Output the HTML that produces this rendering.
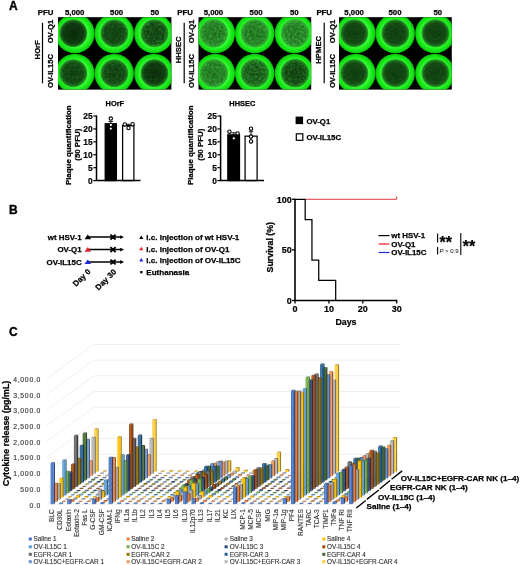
<!DOCTYPE html>
<html lang="en">
<head>
<meta charset="utf-8">
<title>Figure</title>
<style>
html,body{margin:0;padding:0;background:#fff;}
body{width:520px;height:565px;overflow:hidden;}
svg{display:block;font-family:"Liberation Sans", Arial, sans-serif;filter:blur(0.35px);}
</style>
</head>
<body>
<svg width="520" height="565" viewBox="0 0 520 565">
<rect width="520" height="565" fill="#fff"/>
<defs>
<radialGradient id="ring" cx="50%" cy="50%" r="50%">
<stop offset="0" stop-color="#3cff3c"/>
<stop offset="0.68" stop-color="#3cff3c"/>
<stop offset="0.78" stop-color="#20f020"/>
<stop offset="0.92" stop-color="#12dc12"/>
<stop offset="1" stop-color="#0eba0e"/>
</radialGradient>
<radialGradient id="inA" cx="50%" cy="50%" r="50%">
<stop offset="0" stop-color="#0a280a"/>
<stop offset="0.72" stop-color="#0e380e"/>
<stop offset="0.88" stop-color="#186218"/>
<stop offset="0.96" stop-color="#22a022"/>
<stop offset="1" stop-color="#2cd82c"/>
</radialGradient>
<radialGradient id="inB" cx="50%" cy="50%" r="50%">
<stop offset="0" stop-color="#1d6a1d"/>
<stop offset="0.75" stop-color="#227a22"/>
<stop offset="0.9" stop-color="#2a9c2a"/>
<stop offset="0.97" stop-color="#30c430"/>
<stop offset="1" stop-color="#36e036"/>
</radialGradient>
<radialGradient id="inC" cx="50%" cy="50%" r="50%">
<stop offset="0" stop-color="#0e380e"/>
<stop offset="0.72" stop-color="#124612"/>
<stop offset="0.88" stop-color="#1b6e1b"/>
<stop offset="0.96" stop-color="#24a624"/>
<stop offset="1" stop-color="#2cd82c"/>
</radialGradient>
<radialGradient id="inD" cx="50%" cy="50%" r="50%">
<stop offset="0" stop-color="#144a14"/>
<stop offset="0.72" stop-color="#185a18"/>
<stop offset="0.88" stop-color="#1f7e1f"/>
<stop offset="0.96" stop-color="#28b028"/>
<stop offset="1" stop-color="#2edc2e"/>
</radialGradient>
<filter id="tex" x="0" y="0" width="100%" height="100%">
<feTurbulence type="fractalNoise" baseFrequency="0.42" numOctaves="3" seed="4" result="n"/>
<feColorMatrix in="n" type="matrix" values="0 0 0 0 0.12  0 0 0 0 0.9  0 0 0 0 0.12  0 1.6 0 0 -0.55" result="g"/>
<feComposite in="g" in2="SourceGraphic" operator="in"/>
</filter>
</defs>
<rect x="58.0" y="17.2" width="113.40" height="72.40" fill="#000"/>
<clipPath id="cp58"><rect x="58.0" y="17.2" width="113.40" height="72.40"/></clipPath>
<g clip-path="url(#cp58)">
<circle cx="74.90" cy="33.60" r="19.7" fill="url(#ring)"/>
<circle cx="114.20" cy="33.60" r="19.7" fill="url(#ring)"/>
<circle cx="153.90" cy="33.60" r="19.7" fill="url(#ring)"/>
<circle cx="74.90" cy="73.50" r="19.7" fill="url(#ring)"/>
<circle cx="114.20" cy="73.50" r="19.7" fill="url(#ring)"/>
<circle cx="153.90" cy="73.50" r="19.7" fill="url(#ring)"/>
<circle cx="73.30" cy="33.30" r="14.2" fill="url(#inA)"/>
<circle cx="73.30" cy="33.30" r="13.00" fill="#fff" filter="url(#tex)" opacity="0.06"/>
<circle cx="114.40" cy="33.30" r="14.2" fill="url(#inC)"/>
<circle cx="114.40" cy="33.30" r="13.00" fill="#fff" filter="url(#tex)" opacity="0.2"/>
<circle cx="154.50" cy="33.30" r="14.2" fill="url(#inC)"/>
<circle cx="154.50" cy="33.30" r="13.00" fill="#fff" filter="url(#tex)" opacity="0.3"/>
<circle cx="73.30" cy="73.20" r="14.2" fill="url(#inC)"/>
<circle cx="73.30" cy="73.20" r="13.00" fill="#fff" filter="url(#tex)" opacity="0.18"/>
<circle cx="114.40" cy="73.20" r="14.2" fill="url(#inC)"/>
<circle cx="114.40" cy="73.20" r="13.00" fill="#fff" filter="url(#tex)" opacity="0.22"/>
<circle cx="154.50" cy="73.20" r="14.2" fill="url(#inA)"/>
<circle cx="154.50" cy="73.20" r="13.00" fill="#fff" filter="url(#tex)" opacity="0.15"/>
</g>
<rect x="198.5" y="17.2" width="112.70" height="72.40" fill="#000"/>
<clipPath id="cp198"><rect x="198.5" y="17.2" width="112.70" height="72.40"/></clipPath>
<g clip-path="url(#cp198)">
<circle cx="215.40" cy="33.60" r="19.7" fill="url(#ring)"/>
<circle cx="254.70" cy="33.60" r="19.7" fill="url(#ring)"/>
<circle cx="294.40" cy="33.60" r="19.7" fill="url(#ring)"/>
<circle cx="215.40" cy="73.50" r="19.7" fill="url(#ring)"/>
<circle cx="254.70" cy="73.50" r="19.7" fill="url(#ring)"/>
<circle cx="294.40" cy="73.50" r="19.7" fill="url(#ring)"/>
<circle cx="213.80" cy="33.30" r="14.5" fill="url(#inB)"/>
<circle cx="213.80" cy="33.30" r="13.30" fill="#fff" filter="url(#tex)" opacity="0.45"/>
<circle cx="254.90" cy="33.30" r="14.5" fill="url(#inB)"/>
<circle cx="254.90" cy="33.30" r="13.30" fill="#fff" filter="url(#tex)" opacity="0.45"/>
<circle cx="295.00" cy="33.30" r="14.5" fill="url(#inB)"/>
<circle cx="295.00" cy="33.30" r="13.30" fill="#fff" filter="url(#tex)" opacity="0.55"/>
<circle cx="213.80" cy="73.20" r="14.5" fill="url(#inB)"/>
<circle cx="213.80" cy="73.20" r="13.30" fill="#fff" filter="url(#tex)" opacity="0.45"/>
<circle cx="254.90" cy="73.20" r="14.5" fill="url(#inD)"/>
<circle cx="254.90" cy="73.20" r="13.30" fill="#fff" filter="url(#tex)" opacity="0.4"/>
<circle cx="295.00" cy="73.20" r="14.5" fill="url(#inC)"/>
<circle cx="295.00" cy="73.20" r="13.30" fill="#fff" filter="url(#tex)" opacity="0.3"/>
</g>
<rect x="339.0" y="17.2" width="112.80" height="72.40" fill="#000"/>
<clipPath id="cp339"><rect x="339.0" y="17.2" width="112.80" height="72.40"/></clipPath>
<g clip-path="url(#cp339)">
<circle cx="355.90" cy="33.60" r="19.7" fill="url(#ring)"/>
<circle cx="395.20" cy="33.60" r="19.7" fill="url(#ring)"/>
<circle cx="434.90" cy="33.60" r="19.7" fill="url(#ring)"/>
<circle cx="355.90" cy="73.50" r="19.7" fill="url(#ring)"/>
<circle cx="395.20" cy="73.50" r="19.7" fill="url(#ring)"/>
<circle cx="434.90" cy="73.50" r="19.7" fill="url(#ring)"/>
<circle cx="354.30" cy="33.30" r="14.2" fill="url(#inC)"/>
<circle cx="354.30" cy="33.30" r="13.00" fill="#fff" filter="url(#tex)" opacity="0.1"/>
<circle cx="395.40" cy="33.30" r="14.2" fill="url(#inC)"/>
<circle cx="395.40" cy="33.30" r="13.00" fill="#fff" filter="url(#tex)" opacity="0.1"/>
<circle cx="435.50" cy="33.30" r="14.2" fill="url(#inC)"/>
<circle cx="435.50" cy="33.30" r="13.00" fill="#fff" filter="url(#tex)" opacity="0.1"/>
<circle cx="354.30" cy="73.20" r="14.2" fill="url(#inC)"/>
<circle cx="354.30" cy="73.20" r="13.00" fill="#fff" filter="url(#tex)" opacity="0.1"/>
<circle cx="395.40" cy="73.20" r="14.2" fill="url(#inC)"/>
<circle cx="395.40" cy="73.20" r="13.00" fill="#fff" filter="url(#tex)" opacity="0.1"/>
<circle cx="435.50" cy="73.20" r="14.2" fill="url(#inC)"/>
<circle cx="435.50" cy="73.20" r="13.00" fill="#fff" filter="url(#tex)" opacity="0.12"/>
</g>
<text x="9.00" y="10.10" font-size="12.0" font-weight="bold" text-anchor="start" fill="#000" stroke="#000" stroke-width="0.35">A</text>
<text x="37.70" y="14.50" font-size="7.8" font-weight="bold" text-anchor="start" fill="#000" stroke="#000" stroke-width="0.25">PFU</text>
<text x="74.70" y="14.50" font-size="7.8" font-weight="bold" text-anchor="middle" fill="#000" stroke="#000" stroke-width="0.25">5,000</text>
<text x="116.60" y="14.50" font-size="7.8" font-weight="bold" text-anchor="middle" fill="#000" stroke="#000" stroke-width="0.25">500</text>
<text x="154.80" y="14.50" font-size="7.8" font-weight="bold" text-anchor="middle" fill="#000" stroke="#000" stroke-width="0.25">50</text>
<text x="177.20" y="14.50" font-size="7.8" font-weight="bold" text-anchor="start" fill="#000" stroke="#000" stroke-width="0.25">PFU</text>
<text x="213.40" y="14.50" font-size="7.8" font-weight="bold" text-anchor="middle" fill="#000" stroke="#000" stroke-width="0.25">5,000</text>
<text x="256.10" y="14.50" font-size="7.8" font-weight="bold" text-anchor="middle" fill="#000" stroke="#000" stroke-width="0.25">500</text>
<text x="294.30" y="14.50" font-size="7.8" font-weight="bold" text-anchor="middle" fill="#000" stroke="#000" stroke-width="0.25">50</text>
<text x="316.40" y="14.50" font-size="7.8" font-weight="bold" text-anchor="start" fill="#000" stroke="#000" stroke-width="0.25">PFU</text>
<text x="354.10" y="14.50" font-size="7.8" font-weight="bold" text-anchor="middle" fill="#000" stroke="#000" stroke-width="0.25">5,000</text>
<text x="395.00" y="14.50" font-size="7.8" font-weight="bold" text-anchor="middle" fill="#000" stroke="#000" stroke-width="0.25">500</text>
<text x="437.80" y="14.50" font-size="7.8" font-weight="bold" text-anchor="middle" fill="#000" stroke="#000" stroke-width="0.25">50</text>
<text x="39.95" y="49.80" font-size="7.7" font-weight="bold" text-anchor="middle" fill="#000" transform="rotate(-90 39.95 49.80)" stroke="#000" stroke-width="0.25">HOrF</text>
<line x1="42.5" y1="22.8" x2="42.5" y2="83.3" stroke="#000" stroke-width="1.2"/>
<text x="53.05" y="31.40" font-size="7.7" font-weight="bold" text-anchor="middle" fill="#000" transform="rotate(-90 53.05 31.40)" stroke="#000" stroke-width="0.25">OV-Q1</text>
<text x="53.05" y="71.00" font-size="7.7" font-weight="bold" text-anchor="middle" fill="#000" transform="rotate(-90 53.05 71.00)" stroke="#000" stroke-width="0.25">OV-IL15C</text>
<text x="180.55" y="49.80" font-size="7.7" font-weight="bold" text-anchor="middle" fill="#000" transform="rotate(-90 180.55 49.80)" stroke="#000" stroke-width="0.25">HHSEC</text>
<line x1="184.2" y1="22.8" x2="184.2" y2="83.3" stroke="#000" stroke-width="1.2"/>
<text x="194.35" y="31.40" font-size="7.7" font-weight="bold" text-anchor="middle" fill="#000" transform="rotate(-90 194.35 31.40)" stroke="#000" stroke-width="0.25">OV-Q1</text>
<text x="194.35" y="71.00" font-size="7.7" font-weight="bold" text-anchor="middle" fill="#000" transform="rotate(-90 194.35 71.00)" stroke="#000" stroke-width="0.25">OV-IL15C</text>
<text x="320.75" y="49.80" font-size="7.7" font-weight="bold" text-anchor="middle" fill="#000" transform="rotate(-90 320.75 49.80)" stroke="#000" stroke-width="0.25">HPMEC</text>
<line x1="324.2" y1="22.8" x2="324.2" y2="83.3" stroke="#000" stroke-width="1.2"/>
<text x="334.95" y="31.40" font-size="7.7" font-weight="bold" text-anchor="middle" fill="#000" transform="rotate(-90 334.95 31.40)" stroke="#000" stroke-width="0.25">OV-Q1</text>
<text x="334.95" y="71.00" font-size="7.7" font-weight="bold" text-anchor="middle" fill="#000" transform="rotate(-90 334.95 71.00)" stroke="#000" stroke-width="0.25">OV-IL15C</text>
<rect x="105.20" y="123.75" width="11.20" height="56.85" fill="#000" stroke="#000" stroke-width="1.25"/>
<rect x="122.60" y="125.56" width="11.30" height="55.04" fill="#fff" stroke="#000" stroke-width="1.25"/>
<path d="M110.8 121.43V126.08M108.6 121.43H113.0" stroke="#000" stroke-width="0.9" fill="none"/>
<path d="M128.3 124.27V126.85M126.10000000000001 124.27H130.5" stroke="#000" stroke-width="0.9" fill="none"/>
<path d="M96.5 115.4V180.6H140.5" stroke="#000" stroke-width="1.5" fill="none"/>
<line x1="93.3" y1="116.00" x2="96.5" y2="116.00" stroke="#000" stroke-width="1.2"/>
<text x="92.70" y="118.95" font-size="8.4" font-weight="bold" text-anchor="end" fill="#000" stroke="#000" stroke-width="0.2">25</text>
<line x1="93.3" y1="128.92" x2="96.5" y2="128.92" stroke="#000" stroke-width="1.2"/>
<text x="92.70" y="131.87" font-size="8.4" font-weight="bold" text-anchor="end" fill="#000" stroke="#000" stroke-width="0.2">20</text>
<line x1="93.3" y1="141.84" x2="96.5" y2="141.84" stroke="#000" stroke-width="1.2"/>
<text x="92.70" y="144.79" font-size="8.4" font-weight="bold" text-anchor="end" fill="#000" stroke="#000" stroke-width="0.2">15</text>
<line x1="93.3" y1="154.76" x2="96.5" y2="154.76" stroke="#000" stroke-width="1.2"/>
<text x="92.70" y="157.71" font-size="8.4" font-weight="bold" text-anchor="end" fill="#000" stroke="#000" stroke-width="0.2">10</text>
<line x1="93.3" y1="167.68" x2="96.5" y2="167.68" stroke="#000" stroke-width="1.2"/>
<text x="92.70" y="170.63" font-size="8.4" font-weight="bold" text-anchor="end" fill="#000" stroke="#000" stroke-width="0.2">5</text>
<line x1="93.3" y1="180.60" x2="96.5" y2="180.60" stroke="#000" stroke-width="1.2"/>
<text x="92.70" y="183.55" font-size="8.4" font-weight="bold" text-anchor="end" fill="#000" stroke="#000" stroke-width="0.2">0</text>
<circle cx="110.80" cy="118.60" r="1.7" fill="#fff" stroke="#000" stroke-width="1.1"/>
<circle cx="110.80" cy="125.00" r="1.7" fill="#fff" stroke="#000" stroke-width="1.1"/>
<circle cx="110.80" cy="128.60" r="1.7" fill="#fff" stroke="#000" stroke-width="1.1"/>
<circle cx="124.80" cy="124.40" r="1.7" fill="#fff" stroke="#000" stroke-width="1.1"/>
<circle cx="132.60" cy="124.20" r="1.7" fill="#fff" stroke="#000" stroke-width="1.1"/>
<circle cx="128.50" cy="128.00" r="1.7" fill="#fff" stroke="#000" stroke-width="1.1"/>
<text x="114.80" y="105.60" font-size="7.4" font-weight="bold" text-anchor="middle" fill="#000" stroke="#000" stroke-width="0.25">HOrF</text>
<text x="71.40" y="145.20" font-size="7.9" font-weight="bold" text-anchor="middle" fill="#000" transform="rotate(-90 71.40 145.20)" stroke="#000" stroke-width="0.25">Plaque quantification</text>
<text x="79.60" y="144.70" font-size="7.9" font-weight="bold" text-anchor="middle" fill="#000" transform="rotate(-90 79.60 144.70)" stroke="#000" stroke-width="0.25">(50 PFU)</text>
<rect x="227.80" y="134.86" width="11.70" height="45.74" fill="#000" stroke="#000" stroke-width="1.25"/>
<rect x="245.10" y="136.16" width="12.00" height="44.44" fill="#fff" stroke="#000" stroke-width="1.25"/>
<path d="M233.7 132.80V136.93M231.5 132.80H235.89999999999998" stroke="#000" stroke-width="0.9" fill="none"/>
<path d="M251.0 131.76V140.55M248.8 131.76H253.2" stroke="#000" stroke-width="0.9" fill="none"/>
<path d="M220.6 115.4V180.6H264.0" stroke="#000" stroke-width="1.5" fill="none"/>
<line x1="217.4" y1="116.00" x2="220.6" y2="116.00" stroke="#000" stroke-width="1.2"/>
<text x="216.80" y="118.95" font-size="8.4" font-weight="bold" text-anchor="end" fill="#000" stroke="#000" stroke-width="0.2">25</text>
<line x1="217.4" y1="128.92" x2="220.6" y2="128.92" stroke="#000" stroke-width="1.2"/>
<text x="216.80" y="131.87" font-size="8.4" font-weight="bold" text-anchor="end" fill="#000" stroke="#000" stroke-width="0.2">20</text>
<line x1="217.4" y1="141.84" x2="220.6" y2="141.84" stroke="#000" stroke-width="1.2"/>
<text x="216.80" y="144.79" font-size="8.4" font-weight="bold" text-anchor="end" fill="#000" stroke="#000" stroke-width="0.2">15</text>
<line x1="217.4" y1="154.76" x2="220.6" y2="154.76" stroke="#000" stroke-width="1.2"/>
<text x="216.80" y="157.71" font-size="8.4" font-weight="bold" text-anchor="end" fill="#000" stroke="#000" stroke-width="0.2">10</text>
<line x1="217.4" y1="167.68" x2="220.6" y2="167.68" stroke="#000" stroke-width="1.2"/>
<text x="216.80" y="170.63" font-size="8.4" font-weight="bold" text-anchor="end" fill="#000" stroke="#000" stroke-width="0.2">5</text>
<line x1="217.4" y1="180.60" x2="220.6" y2="180.60" stroke="#000" stroke-width="1.2"/>
<text x="216.80" y="183.55" font-size="8.4" font-weight="bold" text-anchor="end" fill="#000" stroke="#000" stroke-width="0.2">0</text>
<circle cx="229.40" cy="131.70" r="1.7" fill="#fff" stroke="#000" stroke-width="1.1"/>
<circle cx="237.60" cy="133.40" r="1.7" fill="#fff" stroke="#000" stroke-width="1.1"/>
<circle cx="233.80" cy="138.30" r="1.7" fill="#fff" stroke="#000" stroke-width="1.1"/>
<circle cx="251.00" cy="128.70" r="1.7" fill="#fff" stroke="#000" stroke-width="1.1"/>
<circle cx="251.00" cy="136.60" r="1.7" fill="#fff" stroke="#000" stroke-width="1.1"/>
<circle cx="251.00" cy="141.40" r="1.7" fill="#fff" stroke="#000" stroke-width="1.1"/>
<text x="242.30" y="105.60" font-size="7.4" font-weight="bold" text-anchor="middle" fill="#000" stroke="#000" stroke-width="0.25">HHSEC</text>
<text x="193.40" y="145.20" font-size="7.9" font-weight="bold" text-anchor="middle" fill="#000" transform="rotate(-90 193.40 145.20)" stroke="#000" stroke-width="0.25">Plaque quantification</text>
<text x="203.40" y="144.70" font-size="7.9" font-weight="bold" text-anchor="middle" fill="#000" transform="rotate(-90 203.40 144.70)" stroke="#000" stroke-width="0.25">(50 PFU)</text>
<rect x="295.6" y="116.6" width="7.5" height="7.5" fill="#000"/>
<rect x="296.3" y="133.8" width="6.5" height="6.5" fill="#fff" stroke="#000" stroke-width="1.2"/>
<text x="306.40" y="123.50" font-size="7.8" font-weight="bold" text-anchor="start" fill="#000" stroke="#000" stroke-width="0.25">OV-Q1</text>
<text x="306.40" y="140.10" font-size="7.8" font-weight="bold" text-anchor="start" fill="#000" stroke="#000" stroke-width="0.25">OV-IL15C</text>
<text x="9.00" y="213.60" font-size="12.0" font-weight="bold" text-anchor="start" fill="#000" stroke="#000" stroke-width="0.35">B</text>
<text x="81.60" y="239.90" font-size="7.9" font-weight="bold" text-anchor="end" fill="#000" stroke="#000" stroke-width="0.25">wt HSV-1</text>
<line x1="87" y1="237.1" x2="121" y2="237.1" stroke="#000" stroke-width="1.5"/>
<path d="M84.5 239.2L87.8 234.5L91.1 239.2Z" fill="#000"/>
<path d="M120.2 235.2L124 237.1L120.2 239.0Z" fill="#000"/>
<path d="M110.4 234.7L115.6 239.5M110.4 239.5L115.6 234.7" stroke="#000" stroke-width="1.8"/>
<rect x="111.7" y="235.6" width="2.6" height="3.0" fill="#000"/>
<text x="81.60" y="252.40" font-size="7.9" font-weight="bold" text-anchor="end" fill="#000" stroke="#000" stroke-width="0.25">OV-Q1</text>
<line x1="87" y1="249.6" x2="121" y2="249.6" stroke="#000" stroke-width="1.5"/>
<path d="M84.5 251.7L87.8 247.0L91.1 251.7Z" fill="#e8202a"/>
<path d="M120.2 247.7L124 249.6L120.2 251.5Z" fill="#000"/>
<path d="M110.4 247.2L115.6 252.0M110.4 252.0L115.6 247.2" stroke="#000" stroke-width="1.8"/>
<rect x="111.7" y="248.1" width="2.6" height="3.0" fill="#000"/>
<text x="81.60" y="264.80" font-size="7.9" font-weight="bold" text-anchor="end" fill="#000" stroke="#000" stroke-width="0.25">OV-IL15C</text>
<line x1="87" y1="262.0" x2="121" y2="262.0" stroke="#000" stroke-width="1.5"/>
<path d="M84.5 264.1L87.8 259.4L91.1 264.1Z" fill="#1f28d8"/>
<path d="M120.2 260.1L124 262.0L120.2 263.9Z" fill="#000"/>
<path d="M110.4 259.6L115.6 264.4M110.4 264.4L115.6 259.6" stroke="#000" stroke-width="1.8"/>
<rect x="111.7" y="260.5" width="2.6" height="3.0" fill="#000"/>
<text x="91.20" y="272.00" font-size="8.0" font-weight="bold" text-anchor="end" fill="#000" transform="rotate(-45 91.20 272.00)" stroke="#000" stroke-width="0.25">Day 0</text>
<text x="116.80" y="272.40" font-size="8.0" font-weight="bold" text-anchor="end" fill="#000" transform="rotate(-45 116.80 272.40)" stroke="#000" stroke-width="0.25">Day 30</text>
<path d="M139.2 238.9L141.3 235.5L143.4 238.9Z" fill="#000"/>
<text x="146.30" y="240.20" font-size="8.05" font-weight="bold" text-anchor="start" fill="#000" stroke="#000" stroke-width="0.25">i.c. injection of wt HSV-1</text>
<path d="M139.2 250.2L141.3 246.79999999999998L143.4 250.2Z" fill="#e8202a"/>
<text x="146.30" y="251.50" font-size="8.05" font-weight="bold" text-anchor="start" fill="#000" stroke="#000" stroke-width="0.25">i.c. injection of OV-Q1</text>
<path d="M139.2 261.5L141.3 258.1L143.4 261.5Z" fill="#1f28d8"/>
<text x="146.30" y="262.80" font-size="8.05" font-weight="bold" text-anchor="start" fill="#000" stroke="#000" stroke-width="0.25">i.c. injection of OV-IL15C</text>
<rect x="140.2" y="271.0" width="2.3" height="2.3" fill="#000"/>
<text x="146.30" y="274.90" font-size="8.05" font-weight="bold" text-anchor="start" fill="#000" stroke="#000" stroke-width="0.25">Euthanasia</text>
<path d="M305.17 199.30H396.70V196.30" stroke="#e0262c" stroke-width="0.9" fill="none"/>
<path d="M295.00 199.30H305.17V219.54H311.95V260.02H318.73V280.26H335.68V300.50" stroke="#000" stroke-width="1.25" fill="none"/>
<path d="M295.0 198.70000000000002V300.5H397.30" stroke="#000" stroke-width="1.6" fill="none"/>
<line x1="292.0" y1="300.50" x2="295.0" y2="300.50" stroke="#000" stroke-width="1.3"/>
<text x="291.80" y="303.70" font-size="9" font-weight="bold" text-anchor="end" fill="#000" stroke="#000" stroke-width="0.2">0</text>
<line x1="292.0" y1="249.90" x2="295.0" y2="249.90" stroke="#000" stroke-width="1.3"/>
<text x="291.80" y="253.10" font-size="9" font-weight="bold" text-anchor="end" fill="#000" stroke="#000" stroke-width="0.2">50</text>
<line x1="292.0" y1="199.30" x2="295.0" y2="199.30" stroke="#000" stroke-width="1.3"/>
<text x="291.80" y="202.50" font-size="9" font-weight="bold" text-anchor="end" fill="#000" stroke="#000" stroke-width="0.2">100</text>
<line x1="295.00" y1="300.5" x2="295.00" y2="303.5" stroke="#000" stroke-width="1.3"/>
<text x="295.00" y="311.90" font-size="9" font-weight="bold" text-anchor="middle" fill="#000" stroke="#000" stroke-width="0.2">0</text>
<line x1="328.90" y1="300.5" x2="328.90" y2="303.5" stroke="#000" stroke-width="1.3"/>
<text x="328.90" y="311.90" font-size="9" font-weight="bold" text-anchor="middle" fill="#000" stroke="#000" stroke-width="0.2">10</text>
<line x1="362.80" y1="300.5" x2="362.80" y2="303.5" stroke="#000" stroke-width="1.3"/>
<text x="362.80" y="311.90" font-size="9" font-weight="bold" text-anchor="middle" fill="#000" stroke="#000" stroke-width="0.2">20</text>
<line x1="396.70" y1="300.5" x2="396.70" y2="303.5" stroke="#000" stroke-width="1.3"/>
<text x="396.70" y="311.90" font-size="9" font-weight="bold" text-anchor="middle" fill="#000" stroke="#000" stroke-width="0.2">30</text>
<text x="346.00" y="324.80" font-size="8.8" font-weight="bold" text-anchor="middle" fill="#000" stroke="#000" stroke-width="0.2">Days</text>
<text x="273.10" y="247.20" font-size="8.8" font-weight="bold" text-anchor="middle" fill="#000" transform="rotate(-90 273.10 247.20)" stroke="#000" stroke-width="0.25">Survival (%)</text>
<line x1="378.5" y1="235.6" x2="389.5" y2="235.6" stroke="#000" stroke-width="1.2"/>
<text x="391.30" y="238.40" font-size="7.9" font-weight="bold" text-anchor="start" fill="#000" stroke="#000" stroke-width="0.25">wt HSV-1</text>
<line x1="378.5" y1="244.0" x2="389.5" y2="244.0" stroke="#e8202a" stroke-width="1.2"/>
<text x="391.30" y="246.80" font-size="7.9" font-weight="bold" text-anchor="start" fill="#000" stroke="#000" stroke-width="0.25">OV-Q1</text>
<line x1="378.5" y1="252.5" x2="389.5" y2="252.5" stroke="#1f28d8" stroke-width="1.2"/>
<text x="391.30" y="255.30" font-size="7.9" font-weight="bold" text-anchor="start" fill="#000" stroke="#000" stroke-width="0.25">OV-IL15C</text>
<path d="M437.6 233.6V242.6M437.6 247V254.6M460.8 233V255" stroke="#000" stroke-width="1.1" fill="none"/>
<text x="439.60" y="247.60" font-size="16" font-weight="bold" text-anchor="start" fill="#000" stroke="#000" stroke-width="0.25">**</text>
<text x="462.80" y="252.10" font-size="16" font-weight="bold" text-anchor="start" fill="#000" stroke="#000" stroke-width="0.25">**</text>
<text x="439.4" y="253.3" font-size="6.0" fill="#000"><tspan font-style="italic">P</tspan> &gt; 0.9</text>
<text x="9.00" y="336.00" font-size="12.0" font-weight="bold" text-anchor="start" fill="#000" stroke="#000" stroke-width="0.35">C</text>
<text x="8.60" y="433.50" font-size="8.9" font-weight="bold" text-anchor="middle" fill="#000" transform="rotate(-90 8.60 433.50)" stroke="#000" stroke-width="0.25">Cytokine release (pg/mL)</text>
<path d="M46.50 504.30L94.10 470.00H400.83" stroke="#e9e9e9" stroke-width="0.7" fill="none"/>
<text x="41.10" y="507.50" font-size="6.8" text-anchor="end" fill="#3a3a3a" letter-spacing="0.75" stroke="#3a3a3a" stroke-width="0.15">0.0</text>
<path d="M46.50 488.60L94.10 454.30H400.83" stroke="#e9e9e9" stroke-width="0.7" fill="none"/>
<text x="41.10" y="491.80" font-size="6.8" text-anchor="end" fill="#3a3a3a" letter-spacing="0.75" stroke="#3a3a3a" stroke-width="0.15">500.0</text>
<path d="M46.50 472.90L94.10 438.60H400.83" stroke="#e9e9e9" stroke-width="0.7" fill="none"/>
<text x="41.10" y="476.10" font-size="6.8" text-anchor="end" fill="#3a3a3a" letter-spacing="0.75" stroke="#3a3a3a" stroke-width="0.15">1,000.0</text>
<path d="M46.50 457.20L94.10 422.90H400.83" stroke="#e9e9e9" stroke-width="0.7" fill="none"/>
<text x="41.10" y="460.40" font-size="6.8" text-anchor="end" fill="#3a3a3a" letter-spacing="0.75" stroke="#3a3a3a" stroke-width="0.15">1,500.0</text>
<path d="M46.50 441.50L94.10 407.20H400.83" stroke="#e9e9e9" stroke-width="0.7" fill="none"/>
<text x="41.10" y="444.70" font-size="6.8" text-anchor="end" fill="#3a3a3a" letter-spacing="0.75" stroke="#3a3a3a" stroke-width="0.15">2,000.0</text>
<path d="M46.50 425.80L94.10 391.50H400.83" stroke="#e9e9e9" stroke-width="0.7" fill="none"/>
<text x="41.10" y="429.00" font-size="6.8" text-anchor="end" fill="#3a3a3a" letter-spacing="0.75" stroke="#3a3a3a" stroke-width="0.15">2,500.0</text>
<path d="M46.50 410.10L94.10 375.80H400.83" stroke="#e9e9e9" stroke-width="0.7" fill="none"/>
<text x="41.10" y="413.30" font-size="6.8" text-anchor="end" fill="#3a3a3a" letter-spacing="0.75" stroke="#3a3a3a" stroke-width="0.15">3,000.0</text>
<path d="M46.50 394.40L94.10 360.10H400.83" stroke="#e9e9e9" stroke-width="0.7" fill="none"/>
<text x="41.10" y="397.60" font-size="6.8" text-anchor="end" fill="#3a3a3a" letter-spacing="0.75" stroke="#3a3a3a" stroke-width="0.15">3,500.0</text>
<path d="M46.50 378.70L94.10 344.40H400.83" stroke="#e9e9e9" stroke-width="0.7" fill="none"/>
<text x="41.10" y="381.90" font-size="6.8" text-anchor="end" fill="#3a3a3a" letter-spacing="0.75" stroke="#3a3a3a" stroke-width="0.15">4,000.0</text>
<path d="M47.50 504.30H354.23L400.83 470.00" stroke="#e9e9e9" stroke-width="0.7" fill="none"/>
<path d="M97.39 471.94L98.67 471.00V428.30L97.39 429.24Z" fill="#9e7f1f"/>
<rect x="94.29" y="429.24" width="3.1" height="42.70" fill="#FFCD33"/>
<rect x="95.09" y="429.24" width="1.0" height="42.70" fill="#ffd75b"/>
<path d="M94.29 429.24L95.57 428.30H98.67L97.39 429.24Z" fill="#bc9725"/>
<path d="M105.68 471.94L106.96 471.00V470.56L105.68 471.50Z" fill="#9e7f1f"/>
<rect x="102.58" y="471.50" width="3.1" height="0.44" fill="#FFCD33"/>
<path d="M102.58 471.50L103.86 470.56H106.96L105.68 471.50Z" fill="#bc9725"/>
<path d="M113.97 471.94L115.25 471.00V470.37L113.97 471.32Z" fill="#9e7f1f"/>
<rect x="110.87" y="471.32" width="3.1" height="0.63" fill="#FFCD33"/>
<path d="M110.87 471.32L112.15 470.37H115.25L113.97 471.32Z" fill="#bc9725"/>
<path d="M122.26 471.94L123.54 471.00V470.69L122.26 471.63Z" fill="#9e7f1f"/>
<rect x="119.16" y="471.63" width="3.1" height="0.31" fill="#FFCD33"/>
<path d="M119.16 471.63L120.44 470.69H123.54L122.26 471.63Z" fill="#bc9725"/>
<path d="M130.55 471.94L131.83 471.00V470.25L130.55 471.19Z" fill="#9e7f1f"/>
<rect x="127.45" y="471.19" width="3.1" height="0.75" fill="#FFCD33"/>
<path d="M127.45 471.19L128.73 470.25H131.83L130.55 471.19Z" fill="#bc9725"/>
<path d="M138.84 471.94L140.12 471.00V470.37L138.84 471.32Z" fill="#9e7f1f"/>
<rect x="135.74" y="471.32" width="3.1" height="0.63" fill="#FFCD33"/>
<path d="M135.74 471.32L137.02 470.37H140.12L138.84 471.32Z" fill="#bc9725"/>
<path d="M147.13 471.94L148.41 471.00V470.37L147.13 471.32Z" fill="#9e7f1f"/>
<rect x="144.03" y="471.32" width="3.1" height="0.63" fill="#FFCD33"/>
<path d="M144.03 471.32L145.31 470.37H148.41L147.13 471.32Z" fill="#bc9725"/>
<path d="M155.42 471.94L156.70 471.00V418.88L155.42 419.82Z" fill="#9e7f1f"/>
<rect x="152.32" y="419.82" width="3.1" height="52.12" fill="#FFCD33"/>
<rect x="153.12" y="419.82" width="1.0" height="52.12" fill="#ffd75b"/>
<path d="M152.32 419.82L153.60 418.88H156.70L155.42 419.82Z" fill="#bc9725"/>
<path d="M163.71 471.94L164.99 471.00V470.69L163.71 471.63Z" fill="#9e7f1f"/>
<rect x="160.61" y="471.63" width="3.1" height="0.31" fill="#FFCD33"/>
<path d="M160.61 471.63L161.89 470.69H164.99L163.71 471.63Z" fill="#bc9725"/>
<path d="M172.00 471.94L173.28 471.00V470.25L172.00 471.19Z" fill="#9e7f1f"/>
<rect x="168.90" y="471.19" width="3.1" height="0.75" fill="#FFCD33"/>
<path d="M168.90 471.19L170.18 470.25H173.28L172.00 471.19Z" fill="#bc9725"/>
<path d="M180.29 471.94L181.57 471.00V470.44L180.29 471.38Z" fill="#9e7f1f"/>
<rect x="177.19" y="471.38" width="3.1" height="0.57" fill="#FFCD33"/>
<path d="M177.19 471.38L178.47 470.44H181.57L180.29 471.38Z" fill="#bc9725"/>
<path d="M188.58 471.94L189.86 471.00V470.69L188.58 471.63Z" fill="#9e7f1f"/>
<rect x="185.48" y="471.63" width="3.1" height="0.31" fill="#FFCD33"/>
<path d="M185.48 471.63L186.76 470.69H189.86L188.58 471.63Z" fill="#bc9725"/>
<path d="M196.87 471.94L198.15 471.00V470.44L196.87 471.38Z" fill="#9e7f1f"/>
<rect x="193.77" y="471.38" width="3.1" height="0.57" fill="#FFCD33"/>
<path d="M193.77 471.38L195.05 470.44H198.15L196.87 471.38Z" fill="#bc9725"/>
<path d="M205.16 471.94L206.44 471.00V470.25L205.16 471.19Z" fill="#9e7f1f"/>
<rect x="202.06" y="471.19" width="3.1" height="0.75" fill="#FFCD33"/>
<path d="M202.06 471.19L203.34 470.25H206.44L205.16 471.19Z" fill="#bc9725"/>
<path d="M213.45 471.94L214.73 471.00V466.29L213.45 467.23Z" fill="#9e7f1f"/>
<rect x="210.35" y="467.23" width="3.1" height="4.71" fill="#FFCD33"/>
<rect x="211.15" y="467.23" width="1.0" height="4.71" fill="#ffd75b"/>
<path d="M210.35 467.23L211.63 466.29H214.73L213.45 467.23Z" fill="#bc9725"/>
<path d="M221.74 471.94L223.02 471.00V460.64L221.74 461.58Z" fill="#9e7f1f"/>
<rect x="218.64" y="461.58" width="3.1" height="10.36" fill="#FFCD33"/>
<rect x="219.44" y="461.58" width="1.0" height="10.36" fill="#ffd75b"/>
<path d="M218.64 461.58L219.92 460.64H223.02L221.74 461.58Z" fill="#bc9725"/>
<path d="M230.03 471.94L231.31 471.00V460.32L230.03 461.27Z" fill="#9e7f1f"/>
<rect x="226.93" y="461.27" width="3.1" height="10.68" fill="#FFCD33"/>
<rect x="227.73" y="461.27" width="1.0" height="10.68" fill="#ffd75b"/>
<path d="M226.93 461.27L228.21 460.32H231.31L230.03 461.27Z" fill="#bc9725"/>
<path d="M238.32 471.94L239.60 471.00V467.08L238.32 468.02Z" fill="#9e7f1f"/>
<rect x="235.22" y="468.02" width="3.1" height="3.92" fill="#FFCD33"/>
<rect x="236.02" y="468.02" width="1.0" height="3.92" fill="#ffd75b"/>
<path d="M235.22 468.02L236.50 467.08H239.60L238.32 468.02Z" fill="#bc9725"/>
<path d="M246.61 471.94L247.89 471.00V469.74L246.61 470.69Z" fill="#9e7f1f"/>
<rect x="243.51" y="470.69" width="3.1" height="1.26" fill="#FFCD33"/>
<path d="M243.51 470.69L244.79 469.74H247.89L246.61 470.69Z" fill="#bc9725"/>
<path d="M254.90 471.94L256.18 471.00V470.44L254.90 471.38Z" fill="#9e7f1f"/>
<rect x="251.80" y="471.38" width="3.1" height="0.57" fill="#FFCD33"/>
<path d="M251.80 471.38L253.08 470.44H256.18L254.90 471.38Z" fill="#bc9725"/>
<path d="M263.19 471.94L264.47 471.00V470.69L263.19 471.63Z" fill="#9e7f1f"/>
<rect x="260.09" y="471.63" width="3.1" height="0.31" fill="#FFCD33"/>
<path d="M260.09 471.63L261.37 470.69H264.47L263.19 471.63Z" fill="#bc9725"/>
<path d="M271.48 471.94L272.76 471.00V470.69L271.48 471.63Z" fill="#9e7f1f"/>
<rect x="268.38" y="471.63" width="3.1" height="0.31" fill="#FFCD33"/>
<path d="M268.38 471.63L269.66 470.69H272.76L271.48 471.63Z" fill="#bc9725"/>
<path d="M279.77 471.94L281.05 471.00V451.53L279.77 452.48Z" fill="#9e7f1f"/>
<rect x="276.67" y="452.48" width="3.1" height="19.47" fill="#FFCD33"/>
<rect x="277.47" y="452.48" width="1.0" height="19.47" fill="#ffd75b"/>
<path d="M276.67 452.48L277.95 451.53H281.05L279.77 452.48Z" fill="#bc9725"/>
<path d="M288.06 471.94L289.34 471.00V469.12L288.06 470.06Z" fill="#9e7f1f"/>
<rect x="284.96" y="470.06" width="3.1" height="1.88" fill="#FFCD33"/>
<path d="M284.96 470.06L286.24 469.12H289.34L288.06 470.06Z" fill="#bc9725"/>
<path d="M296.35 471.94L297.63 471.00V470.25L296.35 471.19Z" fill="#9e7f1f"/>
<rect x="293.25" y="471.19" width="3.1" height="0.75" fill="#FFCD33"/>
<path d="M293.25 471.19L294.53 470.25H297.63L296.35 471.19Z" fill="#bc9725"/>
<path d="M304.64 471.94L305.92 471.00V470.56L304.64 471.50Z" fill="#9e7f1f"/>
<rect x="301.54" y="471.50" width="3.1" height="0.44" fill="#FFCD33"/>
<path d="M301.54 471.50L302.82 470.56H305.92L304.64 471.50Z" fill="#bc9725"/>
<path d="M312.93 471.94L314.21 471.00V470.44L312.93 471.38Z" fill="#9e7f1f"/>
<rect x="309.83" y="471.38" width="3.1" height="0.57" fill="#FFCD33"/>
<path d="M309.83 471.38L311.11 470.44H314.21L312.93 471.38Z" fill="#bc9725"/>
<path d="M321.22 471.94L322.50 471.00V470.69L321.22 471.63Z" fill="#9e7f1f"/>
<rect x="318.12" y="471.63" width="3.1" height="0.31" fill="#FFCD33"/>
<path d="M318.12 471.63L319.40 470.69H322.50L321.22 471.63Z" fill="#bc9725"/>
<path d="M329.51 471.94L330.79 471.00V469.12L329.51 470.06Z" fill="#9e7f1f"/>
<rect x="326.41" y="470.06" width="3.1" height="1.88" fill="#FFCD33"/>
<path d="M326.41 470.06L327.69 469.12H330.79L329.51 470.06Z" fill="#bc9725"/>
<path d="M337.80 471.94L339.08 471.00V364.37L337.80 365.31Z" fill="#9e7f1f"/>
<rect x="334.70" y="365.31" width="3.1" height="106.63" fill="#FFCD33"/>
<rect x="335.50" y="365.31" width="1.0" height="106.63" fill="#ffd75b"/>
<path d="M334.70 365.31L335.98 364.37H339.08L337.80 365.31Z" fill="#bc9725"/>
<path d="M346.09 471.94L347.37 471.00V470.56L346.09 471.50Z" fill="#9e7f1f"/>
<rect x="342.99" y="471.50" width="3.1" height="0.44" fill="#FFCD33"/>
<path d="M342.99 471.50L344.27 470.56H347.37L346.09 471.50Z" fill="#bc9725"/>
<path d="M354.38 471.94L355.66 471.00V470.69L354.38 471.63Z" fill="#9e7f1f"/>
<rect x="351.28" y="471.63" width="3.1" height="0.31" fill="#FFCD33"/>
<path d="M351.28 471.63L352.56 470.69H355.66L354.38 471.63Z" fill="#bc9725"/>
<path d="M362.67 471.94L363.95 471.00V470.69L362.67 471.63Z" fill="#9e7f1f"/>
<rect x="359.57" y="471.63" width="3.1" height="0.31" fill="#FFCD33"/>
<path d="M359.57 471.63L360.85 470.69H363.95L362.67 471.63Z" fill="#bc9725"/>
<path d="M370.96 471.94L372.24 471.00V452.16L370.96 453.10Z" fill="#9e7f1f"/>
<rect x="367.86" y="453.10" width="3.1" height="18.84" fill="#FFCD33"/>
<rect x="368.66" y="453.10" width="1.0" height="18.84" fill="#ffd75b"/>
<path d="M367.86 453.10L369.14 452.16H372.24L370.96 453.10Z" fill="#bc9725"/>
<path d="M379.25 471.94L380.53 471.00V469.43L379.25 470.37Z" fill="#9e7f1f"/>
<rect x="376.15" y="470.37" width="3.1" height="1.57" fill="#FFCD33"/>
<path d="M376.15 470.37L377.43 469.43H380.53L379.25 470.37Z" fill="#bc9725"/>
<path d="M387.54 471.94L388.82 471.00V467.23L387.54 468.18Z" fill="#9e7f1f"/>
<rect x="384.44" y="468.18" width="3.1" height="3.77" fill="#FFCD33"/>
<rect x="385.24" y="468.18" width="1.0" height="3.77" fill="#ffd75b"/>
<path d="M384.44 468.18L385.72 467.23H388.82L387.54 468.18Z" fill="#bc9725"/>
<path d="M395.83 471.94L397.11 471.00V436.99L395.83 437.94Z" fill="#9e7f1f"/>
<rect x="392.73" y="437.94" width="3.1" height="34.01" fill="#FFCD33"/>
<rect x="393.53" y="437.94" width="1.0" height="34.01" fill="#ffd75b"/>
<path d="M392.73 437.94L394.01 436.99H397.11L395.83 437.94Z" fill="#bc9725"/>
<path d="M94.47 474.09L95.76 473.14V436.75L94.47 437.69Z" fill="#717171"/>
<rect x="91.38" y="437.69" width="3.1" height="36.39" fill="#B7B7B7"/>
<rect x="92.17" y="437.69" width="1.0" height="36.39" fill="#c5c5c5"/>
<path d="M91.38 437.69L92.66 436.75H95.76L94.47 437.69Z" fill="#878787"/>
<path d="M102.76 474.09L104.05 473.14V472.58L102.76 473.52Z" fill="#717171"/>
<rect x="99.66" y="473.52" width="3.1" height="0.57" fill="#B7B7B7"/>
<path d="M99.66 473.52L100.95 472.58H104.05L102.76 473.52Z" fill="#878787"/>
<path d="M111.05 474.09L112.34 473.14V472.52L111.05 473.46Z" fill="#717171"/>
<rect x="107.95" y="473.46" width="3.1" height="0.63" fill="#B7B7B7"/>
<path d="M107.95 473.46L109.24 472.52H112.34L111.05 473.46Z" fill="#878787"/>
<path d="M119.34 474.09L120.63 473.14V472.39L119.34 473.33Z" fill="#717171"/>
<rect x="116.25" y="473.33" width="3.1" height="0.75" fill="#B7B7B7"/>
<path d="M116.25 473.33L117.53 472.39H120.63L119.34 473.33Z" fill="#878787"/>
<path d="M127.63 474.09L128.92 473.14V472.58L127.63 473.52Z" fill="#717171"/>
<rect x="124.53" y="473.52" width="3.1" height="0.57" fill="#B7B7B7"/>
<path d="M124.53 473.52L125.82 472.58H128.92L127.63 473.52Z" fill="#878787"/>
<path d="M135.92 474.09L137.21 473.14V472.52L135.92 473.46Z" fill="#717171"/>
<rect x="132.82" y="473.46" width="3.1" height="0.63" fill="#B7B7B7"/>
<path d="M132.82 473.46L134.11 472.52H137.21L135.92 473.46Z" fill="#878787"/>
<path d="M144.21 474.09L145.50 473.14V472.52L144.21 473.46Z" fill="#717171"/>
<rect x="141.11" y="473.46" width="3.1" height="0.63" fill="#B7B7B7"/>
<path d="M141.11 473.46L142.40 472.52H145.50L144.21 473.46Z" fill="#878787"/>
<path d="M152.50 474.09L153.79 473.14V437.76L152.50 438.70Z" fill="#717171"/>
<rect x="149.41" y="438.70" width="3.1" height="35.39" fill="#B7B7B7"/>
<rect x="150.21" y="438.70" width="1.0" height="35.39" fill="#c5c5c5"/>
<path d="M149.41 438.70L150.69 437.76H153.79L152.50 438.70Z" fill="#878787"/>
<path d="M160.79 474.09L162.08 473.14V472.83L160.79 473.77Z" fill="#717171"/>
<rect x="157.69" y="473.77" width="3.1" height="0.31" fill="#B7B7B7"/>
<path d="M157.69 473.77L158.98 472.83H162.08L160.79 473.77Z" fill="#878787"/>
<path d="M169.08 474.09L170.37 473.14V472.39L169.08 473.33Z" fill="#717171"/>
<rect x="165.98" y="473.33" width="3.1" height="0.75" fill="#B7B7B7"/>
<path d="M165.98 473.33L167.27 472.39H170.37L169.08 473.33Z" fill="#878787"/>
<path d="M177.37 474.09L178.66 473.14V472.83L177.37 473.77Z" fill="#717171"/>
<rect x="174.27" y="473.77" width="3.1" height="0.31" fill="#B7B7B7"/>
<path d="M174.27 473.77L175.56 472.83H178.66L177.37 473.77Z" fill="#878787"/>
<path d="M185.66 474.09L186.95 473.14V472.58L185.66 473.52Z" fill="#717171"/>
<rect x="182.56" y="473.52" width="3.1" height="0.57" fill="#B7B7B7"/>
<path d="M182.56 473.52L183.85 472.58H186.95L185.66 473.52Z" fill="#878787"/>
<path d="M193.95 474.09L195.24 473.14V472.70L193.95 473.65Z" fill="#717171"/>
<rect x="190.85" y="473.65" width="3.1" height="0.44" fill="#B7B7B7"/>
<path d="M190.85 473.65L192.14 472.70H195.24L193.95 473.65Z" fill="#878787"/>
<path d="M202.24 474.09L203.53 473.14V472.39L202.24 473.33Z" fill="#717171"/>
<rect x="199.14" y="473.33" width="3.1" height="0.75" fill="#B7B7B7"/>
<path d="M199.14 473.33L200.43 472.39H203.53L202.24 473.33Z" fill="#878787"/>
<path d="M210.53 474.09L211.82 473.14V466.86L210.53 467.81Z" fill="#717171"/>
<rect x="207.44" y="467.81" width="3.1" height="6.28" fill="#B7B7B7"/>
<rect x="208.24" y="467.81" width="1.0" height="6.28" fill="#c5c5c5"/>
<path d="M207.44 467.81L208.72 466.86H211.82L210.53 467.81Z" fill="#878787"/>
<path d="M218.82 474.09L220.11 473.14V460.90L218.82 461.84Z" fill="#717171"/>
<rect x="215.72" y="461.84" width="3.1" height="12.25" fill="#B7B7B7"/>
<rect x="216.53" y="461.84" width="1.0" height="12.25" fill="#c5c5c5"/>
<path d="M215.72 461.84L217.01 460.90H220.11L218.82 461.84Z" fill="#878787"/>
<path d="M227.11 474.09L228.40 473.14V460.58L227.11 461.53Z" fill="#717171"/>
<rect x="224.01" y="461.53" width="3.1" height="12.56" fill="#B7B7B7"/>
<rect x="224.81" y="461.53" width="1.0" height="12.56" fill="#c5c5c5"/>
<path d="M224.01 461.53L225.30 460.58H228.40L227.11 461.53Z" fill="#878787"/>
<path d="M235.40 474.09L236.69 473.14V470.63L235.40 471.58Z" fill="#717171"/>
<rect x="232.30" y="471.58" width="3.1" height="2.51" fill="#B7B7B7"/>
<path d="M232.30 471.58L233.59 470.63H236.69L235.40 471.58Z" fill="#878787"/>
<path d="M243.69 474.09L244.98 473.14V471.89L243.69 472.83Z" fill="#717171"/>
<rect x="240.59" y="472.83" width="3.1" height="1.26" fill="#B7B7B7"/>
<path d="M240.59 472.83L241.88 471.89H244.98L243.69 472.83Z" fill="#878787"/>
<path d="M251.98 474.09L253.27 473.14V472.39L251.98 473.33Z" fill="#717171"/>
<rect x="248.88" y="473.33" width="3.1" height="0.75" fill="#B7B7B7"/>
<path d="M248.88 473.33L250.17 472.39H253.27L251.98 473.33Z" fill="#878787"/>
<path d="M260.27 474.09L261.56 473.14V472.83L260.27 473.77Z" fill="#717171"/>
<rect x="257.17" y="473.77" width="3.1" height="0.31" fill="#B7B7B7"/>
<path d="M257.17 473.77L258.46 472.83H261.56L260.27 473.77Z" fill="#878787"/>
<path d="M268.56 474.09L269.85 473.14V472.58L268.56 473.52Z" fill="#717171"/>
<rect x="265.46" y="473.52" width="3.1" height="0.57" fill="#B7B7B7"/>
<path d="M265.46 473.52L266.75 472.58H269.85L268.56 473.52Z" fill="#878787"/>
<path d="M276.86 474.09L278.14 473.14V458.07L276.86 459.02Z" fill="#717171"/>
<rect x="273.75" y="459.02" width="3.1" height="15.07" fill="#B7B7B7"/>
<rect x="274.56" y="459.02" width="1.0" height="15.07" fill="#c5c5c5"/>
<path d="M273.75 459.02L275.04 458.07H278.14L276.86 459.02Z" fill="#878787"/>
<path d="M285.14 474.09L286.43 473.14V472.20L285.14 473.15Z" fill="#717171"/>
<rect x="282.04" y="473.15" width="3.1" height="0.94" fill="#B7B7B7"/>
<path d="M282.04 473.15L283.33 472.20H286.43L285.14 473.15Z" fill="#878787"/>
<path d="M293.44 474.09L294.72 473.14V472.39L293.44 473.33Z" fill="#717171"/>
<rect x="290.33" y="473.33" width="3.1" height="0.75" fill="#B7B7B7"/>
<path d="M290.33 473.33L291.62 472.39H294.72L293.44 473.33Z" fill="#878787"/>
<path d="M301.72 474.09L303.01 473.14V472.39L301.72 473.33Z" fill="#717171"/>
<rect x="298.62" y="473.33" width="3.1" height="0.75" fill="#B7B7B7"/>
<path d="M298.62 473.33L299.91 472.39H303.01L301.72 473.33Z" fill="#878787"/>
<path d="M310.01 474.09L311.30 473.14V472.58L310.01 473.52Z" fill="#717171"/>
<rect x="306.91" y="473.52" width="3.1" height="0.57" fill="#B7B7B7"/>
<path d="M306.91 473.52L308.20 472.58H311.30L310.01 473.52Z" fill="#878787"/>
<path d="M318.31 474.09L319.59 473.14V472.70L318.31 473.65Z" fill="#717171"/>
<rect x="315.20" y="473.65" width="3.1" height="0.44" fill="#B7B7B7"/>
<path d="M315.20 473.65L316.49 472.70H319.59L318.31 473.65Z" fill="#878787"/>
<path d="M326.60 474.09L327.88 473.14V471.26L326.60 472.20Z" fill="#717171"/>
<rect x="323.50" y="472.20" width="3.1" height="1.88" fill="#B7B7B7"/>
<path d="M323.50 472.20L324.78 471.26H327.88L326.60 472.20Z" fill="#878787"/>
<path d="M334.88 474.09L336.17 473.14V379.42L334.88 380.36Z" fill="#717171"/>
<rect x="331.78" y="380.36" width="3.1" height="93.73" fill="#B7B7B7"/>
<rect x="332.58" y="380.36" width="1.0" height="93.73" fill="#c5c5c5"/>
<path d="M331.78 380.36L333.07 379.42H336.17L334.88 380.36Z" fill="#878787"/>
<path d="M343.18 474.09L344.46 473.14V472.70L343.18 473.65Z" fill="#717171"/>
<rect x="340.07" y="473.65" width="3.1" height="0.44" fill="#B7B7B7"/>
<path d="M340.07 473.65L341.36 472.70H344.46L343.18 473.65Z" fill="#878787"/>
<path d="M351.46 474.09L352.75 473.14V472.70L351.46 473.65Z" fill="#717171"/>
<rect x="348.36" y="473.65" width="3.1" height="0.44" fill="#B7B7B7"/>
<path d="M348.36 473.65L349.65 472.70H352.75L351.46 473.65Z" fill="#878787"/>
<path d="M359.75 474.09L361.04 473.14V472.58L359.75 473.52Z" fill="#717171"/>
<rect x="356.65" y="473.52" width="3.1" height="0.57" fill="#B7B7B7"/>
<path d="M356.65 473.52L357.94 472.58H361.04L359.75 473.52Z" fill="#878787"/>
<path d="M368.05 474.09L369.33 473.14V453.36L368.05 454.31Z" fill="#717171"/>
<rect x="364.94" y="454.31" width="3.1" height="19.78" fill="#B7B7B7"/>
<rect x="365.75" y="454.31" width="1.0" height="19.78" fill="#c5c5c5"/>
<path d="M364.94 454.31L366.23 453.36H369.33L368.05 454.31Z" fill="#878787"/>
<path d="M376.33 474.09L377.62 473.14V471.57L376.33 472.52Z" fill="#717171"/>
<rect x="373.23" y="472.52" width="3.1" height="1.57" fill="#B7B7B7"/>
<path d="M373.23 472.52L374.52 471.57H377.62L376.33 472.52Z" fill="#878787"/>
<path d="M384.62 474.09L385.91 473.14V469.38L384.62 470.32Z" fill="#717171"/>
<rect x="381.52" y="470.32" width="3.1" height="3.77" fill="#B7B7B7"/>
<rect x="382.32" y="470.32" width="1.0" height="3.77" fill="#c5c5c5"/>
<path d="M381.52 470.32L382.81 469.38H385.91L384.62 470.32Z" fill="#878787"/>
<path d="M392.91 474.09L394.20 473.14V440.33L392.91 441.27Z" fill="#717171"/>
<rect x="389.81" y="441.27" width="3.1" height="32.81" fill="#B7B7B7"/>
<rect x="390.61" y="441.27" width="1.0" height="32.81" fill="#c5c5c5"/>
<path d="M389.81 441.27L391.10 440.33H394.20L392.91 441.27Z" fill="#878787"/>
<path d="M91.56 476.23L92.84 475.29V460.28L91.56 461.22Z" fill="#955d37"/>
<rect x="88.46" y="461.22" width="3.1" height="15.01" fill="#F1975A"/>
<rect x="89.26" y="461.22" width="1.0" height="15.01" fill="#f3ab7b"/>
<path d="M88.46 461.22L89.74 460.28H92.84L91.56 461.22Z" fill="#b26f42"/>
<path d="M99.85 476.23L101.13 475.29V474.97L99.85 475.92Z" fill="#955d37"/>
<rect x="96.75" y="475.92" width="3.1" height="0.31" fill="#F1975A"/>
<path d="M96.75 475.92L98.03 474.97H101.13L99.85 475.92Z" fill="#b26f42"/>
<path d="M108.14 476.23L109.42 475.29V474.66L108.14 475.60Z" fill="#955d37"/>
<rect x="105.04" y="475.60" width="3.1" height="0.63" fill="#F1975A"/>
<path d="M105.04 475.60L106.32 474.66H109.42L108.14 475.60Z" fill="#b26f42"/>
<path d="M116.43 476.23L117.71 475.29V474.53L116.43 475.48Z" fill="#955d37"/>
<rect x="113.33" y="475.48" width="3.1" height="0.75" fill="#F1975A"/>
<path d="M113.33 475.48L114.61 474.53H117.71L116.43 475.48Z" fill="#b26f42"/>
<path d="M124.72 476.23L126.00 475.29V474.53L124.72 475.48Z" fill="#955d37"/>
<rect x="121.62" y="475.48" width="3.1" height="0.75" fill="#F1975A"/>
<path d="M121.62 475.48L122.90 474.53H126.00L124.72 475.48Z" fill="#b26f42"/>
<path d="M133.01 476.23L134.29 475.29V474.66L133.01 475.60Z" fill="#955d37"/>
<rect x="129.91" y="475.60" width="3.1" height="0.63" fill="#F1975A"/>
<path d="M129.91 475.60L131.19 474.66H134.29L133.01 475.60Z" fill="#b26f42"/>
<path d="M141.30 476.23L142.58 475.29V474.66L141.30 475.60Z" fill="#955d37"/>
<rect x="138.20" y="475.60" width="3.1" height="0.63" fill="#F1975A"/>
<path d="M138.20 475.60L139.48 474.66H142.58L141.30 475.60Z" fill="#b26f42"/>
<path d="M149.59 476.23L150.87 475.29V454.25L149.59 455.19Z" fill="#955d37"/>
<rect x="146.49" y="455.19" width="3.1" height="21.04" fill="#F1975A"/>
<rect x="147.29" y="455.19" width="1.0" height="21.04" fill="#f3ab7b"/>
<path d="M146.49 455.19L147.77 454.25H150.87L149.59 455.19Z" fill="#b26f42"/>
<path d="M157.88 476.23L159.16 475.29V474.97L157.88 475.92Z" fill="#955d37"/>
<rect x="154.78" y="475.92" width="3.1" height="0.31" fill="#F1975A"/>
<path d="M154.78 475.92L156.06 474.97H159.16L157.88 475.92Z" fill="#b26f42"/>
<path d="M166.17 476.23L167.45 475.29V474.97L166.17 475.92Z" fill="#955d37"/>
<rect x="163.07" y="475.92" width="3.1" height="0.31" fill="#F1975A"/>
<path d="M163.07 475.92L164.35 474.97H167.45L166.17 475.92Z" fill="#b26f42"/>
<path d="M174.46 476.23L175.74 475.29V474.85L174.46 475.79Z" fill="#955d37"/>
<rect x="171.36" y="475.79" width="3.1" height="0.44" fill="#F1975A"/>
<path d="M171.36 475.79L172.64 474.85H175.74L174.46 475.79Z" fill="#b26f42"/>
<path d="M182.75 476.23L184.03 475.29V474.53L182.75 475.48Z" fill="#955d37"/>
<rect x="179.65" y="475.48" width="3.1" height="0.75" fill="#F1975A"/>
<path d="M179.65 475.48L180.93 474.53H184.03L182.75 475.48Z" fill="#b26f42"/>
<path d="M191.04 476.23L192.32 475.29V474.53L191.04 475.48Z" fill="#955d37"/>
<rect x="187.94" y="475.48" width="3.1" height="0.75" fill="#F1975A"/>
<path d="M187.94 475.48L189.22 474.53H192.32L191.04 475.48Z" fill="#b26f42"/>
<path d="M199.33 476.23L200.61 475.29V474.97L199.33 475.92Z" fill="#955d37"/>
<rect x="196.23" y="475.92" width="3.1" height="0.31" fill="#F1975A"/>
<path d="M196.23 475.92L197.51 474.97H200.61L199.33 475.92Z" fill="#b26f42"/>
<path d="M207.62 476.23L208.90 475.29V469.01L207.62 469.95Z" fill="#955d37"/>
<rect x="204.52" y="469.95" width="3.1" height="6.28" fill="#F1975A"/>
<rect x="205.32" y="469.95" width="1.0" height="6.28" fill="#f3ab7b"/>
<path d="M204.52 469.95L205.80 469.01H208.90L207.62 469.95Z" fill="#b26f42"/>
<path d="M215.91 476.23L217.19 475.29V462.73L215.91 463.67Z" fill="#955d37"/>
<rect x="212.81" y="463.67" width="3.1" height="12.56" fill="#F1975A"/>
<rect x="213.61" y="463.67" width="1.0" height="12.56" fill="#f3ab7b"/>
<path d="M212.81 463.67L214.09 462.73H217.19L215.91 463.67Z" fill="#b26f42"/>
<path d="M224.20 476.23L225.48 475.29V461.79L224.20 462.73Z" fill="#955d37"/>
<rect x="221.10" y="462.73" width="3.1" height="13.50" fill="#F1975A"/>
<rect x="221.90" y="462.73" width="1.0" height="13.50" fill="#f3ab7b"/>
<path d="M221.10 462.73L222.38 461.79H225.48L224.20 462.73Z" fill="#b26f42"/>
<path d="M232.49 476.23L233.77 475.29V472.78L232.49 473.72Z" fill="#955d37"/>
<rect x="229.39" y="473.72" width="3.1" height="2.51" fill="#F1975A"/>
<path d="M229.39 473.72L230.67 472.78H233.77L232.49 473.72Z" fill="#b26f42"/>
<path d="M240.78 476.23L242.06 475.29V474.03L240.78 474.98Z" fill="#955d37"/>
<rect x="237.68" y="474.98" width="3.1" height="1.26" fill="#F1975A"/>
<path d="M237.68 474.98L238.96 474.03H242.06L240.78 474.98Z" fill="#b26f42"/>
<path d="M249.07 476.23L250.35 475.29V474.53L249.07 475.48Z" fill="#955d37"/>
<rect x="245.97" y="475.48" width="3.1" height="0.75" fill="#F1975A"/>
<path d="M245.97 475.48L247.25 474.53H250.35L249.07 475.48Z" fill="#b26f42"/>
<path d="M257.36 476.23L258.64 475.29V474.72L257.36 475.67Z" fill="#955d37"/>
<rect x="254.26" y="475.67" width="3.1" height="0.57" fill="#F1975A"/>
<path d="M254.26 475.67L255.54 474.72H258.64L257.36 475.67Z" fill="#b26f42"/>
<path d="M265.65 476.23L266.93 475.29V474.53L265.65 475.48Z" fill="#955d37"/>
<rect x="262.55" y="475.48" width="3.1" height="0.75" fill="#F1975A"/>
<path d="M262.55 475.48L263.83 474.53H266.93L265.65 475.48Z" fill="#b26f42"/>
<path d="M273.94 476.23L275.22 475.29V460.53L273.94 461.47Z" fill="#955d37"/>
<rect x="270.84" y="461.47" width="3.1" height="14.76" fill="#F1975A"/>
<rect x="271.64" y="461.47" width="1.0" height="14.76" fill="#f3ab7b"/>
<path d="M270.84 461.47L272.12 460.53H275.22L273.94 461.47Z" fill="#b26f42"/>
<path d="M282.23 476.23L283.51 475.29V474.35L282.23 475.29Z" fill="#955d37"/>
<rect x="279.13" y="475.29" width="3.1" height="0.94" fill="#F1975A"/>
<path d="M279.13 475.29L280.41 474.35H283.51L282.23 475.29Z" fill="#b26f42"/>
<path d="M290.52 476.23L291.80 475.29V474.97L290.52 475.92Z" fill="#955d37"/>
<rect x="287.42" y="475.92" width="3.1" height="0.31" fill="#F1975A"/>
<path d="M287.42 475.92L288.70 474.97H291.80L290.52 475.92Z" fill="#b26f42"/>
<path d="M298.81 476.23L300.09 475.29V474.72L298.81 475.67Z" fill="#955d37"/>
<rect x="295.71" y="475.67" width="3.1" height="0.57" fill="#F1975A"/>
<path d="M295.71 475.67L296.99 474.72H300.09L298.81 475.67Z" fill="#b26f42"/>
<path d="M307.10 476.23L308.38 475.29V474.72L307.10 475.67Z" fill="#955d37"/>
<rect x="304.00" y="475.67" width="3.1" height="0.57" fill="#F1975A"/>
<path d="M304.00 475.67L305.28 474.72H308.38L307.10 475.67Z" fill="#b26f42"/>
<path d="M315.39 476.23L316.67 475.29V474.85L315.39 475.79Z" fill="#955d37"/>
<rect x="312.29" y="475.79" width="3.1" height="0.44" fill="#F1975A"/>
<path d="M312.29 475.79L313.57 474.85H316.67L315.39 475.79Z" fill="#b26f42"/>
<path d="M323.68 476.23L324.96 475.29V473.40L323.68 474.35Z" fill="#955d37"/>
<rect x="320.58" y="474.35" width="3.1" height="1.88" fill="#F1975A"/>
<path d="M320.58 474.35L321.86 473.40H324.96L323.68 474.35Z" fill="#b26f42"/>
<path d="M331.97 476.23L333.25 475.29V371.17L331.97 372.11Z" fill="#955d37"/>
<rect x="328.87" y="372.11" width="3.1" height="104.12" fill="#F1975A"/>
<rect x="329.67" y="372.11" width="1.0" height="104.12" fill="#f3ab7b"/>
<path d="M328.87 372.11L330.15 371.17H333.25L331.97 372.11Z" fill="#b26f42"/>
<path d="M340.26 476.23L341.54 475.29V474.72L340.26 475.67Z" fill="#955d37"/>
<rect x="337.16" y="475.67" width="3.1" height="0.57" fill="#F1975A"/>
<path d="M337.16 475.67L338.44 474.72H341.54L340.26 475.67Z" fill="#b26f42"/>
<path d="M348.55 476.23L349.83 475.29V474.72L348.55 475.67Z" fill="#955d37"/>
<rect x="345.45" y="475.67" width="3.1" height="0.57" fill="#F1975A"/>
<path d="M345.45 475.67L346.73 474.72H349.83L348.55 475.67Z" fill="#b26f42"/>
<path d="M356.84 476.23L358.12 475.29V474.85L356.84 475.79Z" fill="#955d37"/>
<rect x="353.74" y="475.79" width="3.1" height="0.44" fill="#F1975A"/>
<path d="M353.74 475.79L355.02 474.85H358.12L356.84 475.79Z" fill="#b26f42"/>
<path d="M365.13 476.23L366.41 475.29V455.19L365.13 456.14Z" fill="#955d37"/>
<rect x="362.03" y="456.14" width="3.1" height="20.10" fill="#F1975A"/>
<rect x="362.83" y="456.14" width="1.0" height="20.10" fill="#f3ab7b"/>
<path d="M362.03 456.14L363.31 455.19H366.41L365.13 456.14Z" fill="#b26f42"/>
<path d="M373.42 476.23L374.70 475.29V473.72L373.42 474.66Z" fill="#955d37"/>
<rect x="370.32" y="474.66" width="3.1" height="1.57" fill="#F1975A"/>
<path d="M370.32 474.66L371.60 473.72H374.70L373.42 474.66Z" fill="#b26f42"/>
<path d="M381.71 476.23L382.99 475.29V471.52L381.71 472.46Z" fill="#955d37"/>
<rect x="378.61" y="472.46" width="3.1" height="3.77" fill="#F1975A"/>
<rect x="379.41" y="472.46" width="1.0" height="3.77" fill="#f3ab7b"/>
<path d="M378.61 472.46L379.89 471.52H382.99L381.71 472.46Z" fill="#b26f42"/>
<path d="M390.00 476.23L391.28 475.29V444.83L390.00 445.77Z" fill="#955d37"/>
<rect x="386.90" y="445.77" width="3.1" height="30.46" fill="#F1975A"/>
<rect x="387.70" y="445.77" width="1.0" height="30.46" fill="#f3ab7b"/>
<path d="M386.90 445.77L388.18 444.83H391.28L390.00 445.77Z" fill="#b26f42"/>
<path d="M88.65 478.38L89.93 477.43V438.84L88.65 439.78Z" fill="#415880"/>
<rect x="85.55" y="439.78" width="3.1" height="38.59" fill="#698ED0"/>
<rect x="86.35" y="439.78" width="1.0" height="38.59" fill="#87a4d9"/>
<path d="M85.55 439.78L86.83 438.84H89.93L88.65 439.78Z" fill="#4d6999"/>
<path d="M96.94 478.38L98.22 477.43V476.99L96.94 477.94Z" fill="#415880"/>
<rect x="93.84" y="477.94" width="3.1" height="0.44" fill="#698ED0"/>
<path d="M93.84 477.94L95.12 476.99H98.22L96.94 477.94Z" fill="#4d6999"/>
<path d="M105.23 478.38L106.51 477.43V476.80L105.23 477.75Z" fill="#415880"/>
<rect x="102.13" y="477.75" width="3.1" height="0.63" fill="#698ED0"/>
<path d="M102.13 477.75L103.41 476.80H106.51L105.23 477.75Z" fill="#4d6999"/>
<path d="M113.52 478.38L114.80 477.43V476.99L113.52 477.94Z" fill="#415880"/>
<rect x="110.42" y="477.94" width="3.1" height="0.44" fill="#698ED0"/>
<path d="M110.42 477.94L111.70 476.99H114.80L113.52 477.94Z" fill="#4d6999"/>
<path d="M121.81 478.38L123.09 477.43V476.87L121.81 477.81Z" fill="#415880"/>
<rect x="118.71" y="477.81" width="3.1" height="0.57" fill="#698ED0"/>
<path d="M118.71 477.81L119.99 476.87H123.09L121.81 477.81Z" fill="#4d6999"/>
<path d="M130.10 478.38L131.38 477.43V476.80L130.10 477.75Z" fill="#415880"/>
<rect x="127.00" y="477.75" width="3.1" height="0.63" fill="#698ED0"/>
<path d="M127.00 477.75L128.28 476.80H131.38L130.10 477.75Z" fill="#4d6999"/>
<path d="M138.39 478.38L139.67 477.43V476.80L138.39 477.75Z" fill="#415880"/>
<rect x="135.29" y="477.75" width="3.1" height="0.63" fill="#698ED0"/>
<path d="M135.29 477.75L136.57 476.80H139.67L138.39 477.75Z" fill="#4d6999"/>
<path d="M146.68 478.38L147.96 477.43V448.86L146.68 449.80Z" fill="#415880"/>
<rect x="143.58" y="449.80" width="3.1" height="28.57" fill="#698ED0"/>
<rect x="144.38" y="449.80" width="1.0" height="28.57" fill="#87a4d9"/>
<path d="M143.58 449.80L144.86 448.86H147.96L146.68 449.80Z" fill="#4d6999"/>
<path d="M154.97 478.38L156.25 477.43V476.87L154.97 477.81Z" fill="#415880"/>
<rect x="151.87" y="477.81" width="3.1" height="0.57" fill="#698ED0"/>
<path d="M151.87 477.81L153.15 476.87H156.25L154.97 477.81Z" fill="#4d6999"/>
<path d="M163.26 478.38L164.54 477.43V477.12L163.26 478.06Z" fill="#415880"/>
<rect x="160.16" y="478.06" width="3.1" height="0.31" fill="#698ED0"/>
<path d="M160.16 478.06L161.44 477.12H164.54L163.26 478.06Z" fill="#4d6999"/>
<path d="M171.55 478.38L172.83 477.43V476.87L171.55 477.81Z" fill="#415880"/>
<rect x="168.45" y="477.81" width="3.1" height="0.57" fill="#698ED0"/>
<path d="M168.45 477.81L169.73 476.87H172.83L171.55 477.81Z" fill="#4d6999"/>
<path d="M179.84 478.38L181.12 477.43V476.99L179.84 477.94Z" fill="#415880"/>
<rect x="176.74" y="477.94" width="3.1" height="0.44" fill="#698ED0"/>
<path d="M176.74 477.94L178.02 476.99H181.12L179.84 477.94Z" fill="#4d6999"/>
<path d="M188.13 478.38L189.41 477.43V476.99L188.13 477.94Z" fill="#415880"/>
<rect x="185.03" y="477.94" width="3.1" height="0.44" fill="#698ED0"/>
<path d="M185.03 477.94L186.31 476.99H189.41L188.13 477.94Z" fill="#4d6999"/>
<path d="M196.42 478.38L197.70 477.43V476.87L196.42 477.81Z" fill="#415880"/>
<rect x="193.32" y="477.81" width="3.1" height="0.57" fill="#698ED0"/>
<path d="M193.32 477.81L194.60 476.87H197.70L196.42 477.81Z" fill="#4d6999"/>
<path d="M204.71 478.38L205.99 477.43V469.58L204.71 470.52Z" fill="#415880"/>
<rect x="201.61" y="470.52" width="3.1" height="7.85" fill="#698ED0"/>
<rect x="202.41" y="470.52" width="1.0" height="7.85" fill="#87a4d9"/>
<path d="M201.61 470.52L202.89 469.58H205.99L204.71 470.52Z" fill="#4d6999"/>
<path d="M213.00 478.38L214.28 477.43V463.30L213.00 464.25Z" fill="#415880"/>
<rect x="209.90" y="464.25" width="3.1" height="14.13" fill="#698ED0"/>
<rect x="210.70" y="464.25" width="1.0" height="14.13" fill="#87a4d9"/>
<path d="M209.90 464.25L211.18 463.30H214.28L213.00 464.25Z" fill="#4d6999"/>
<path d="M221.29 478.38L222.57 477.43V460.79L221.29 461.73Z" fill="#415880"/>
<rect x="218.19" y="461.73" width="3.1" height="16.64" fill="#698ED0"/>
<rect x="218.99" y="461.73" width="1.0" height="16.64" fill="#87a4d9"/>
<path d="M218.19 461.73L219.47 460.79H222.57L221.29 461.73Z" fill="#4d6999"/>
<path d="M229.58 478.38L230.86 477.43V474.29L229.58 475.24Z" fill="#415880"/>
<rect x="226.48" y="475.24" width="3.1" height="3.14" fill="#698ED0"/>
<rect x="227.28" y="475.24" width="1.0" height="3.14" fill="#87a4d9"/>
<path d="M226.48 475.24L227.76 474.29H230.86L229.58 475.24Z" fill="#4d6999"/>
<path d="M237.87 478.38L239.15 477.43V476.18L237.87 477.12Z" fill="#415880"/>
<rect x="234.77" y="477.12" width="3.1" height="1.26" fill="#698ED0"/>
<path d="M234.77 477.12L236.05 476.18H239.15L237.87 477.12Z" fill="#4d6999"/>
<path d="M246.16 478.38L247.44 477.43V476.99L246.16 477.94Z" fill="#415880"/>
<rect x="243.06" y="477.94" width="3.1" height="0.44" fill="#698ED0"/>
<path d="M243.06 477.94L244.34 476.99H247.44L246.16 477.94Z" fill="#4d6999"/>
<path d="M254.45 478.38L255.73 477.43V476.87L254.45 477.81Z" fill="#415880"/>
<rect x="251.35" y="477.81" width="3.1" height="0.57" fill="#698ED0"/>
<path d="M251.35 477.81L252.63 476.87H255.73L254.45 477.81Z" fill="#4d6999"/>
<path d="M262.74 478.38L264.02 477.43V476.99L262.74 477.94Z" fill="#415880"/>
<rect x="259.64" y="477.94" width="3.1" height="0.44" fill="#698ED0"/>
<path d="M259.64 477.94L260.92 476.99H264.02L262.74 477.94Z" fill="#4d6999"/>
<path d="M271.03 478.38L272.31 477.43V463.93L271.03 464.87Z" fill="#415880"/>
<rect x="267.93" y="464.87" width="3.1" height="13.50" fill="#698ED0"/>
<rect x="268.73" y="464.87" width="1.0" height="13.50" fill="#87a4d9"/>
<path d="M267.93 464.87L269.21 463.93H272.31L271.03 464.87Z" fill="#4d6999"/>
<path d="M279.32 478.38L280.60 477.43V476.49L279.32 477.43Z" fill="#415880"/>
<rect x="276.22" y="477.43" width="3.1" height="0.94" fill="#698ED0"/>
<path d="M276.22 477.43L277.50 476.49H280.60L279.32 477.43Z" fill="#4d6999"/>
<path d="M287.61 478.38L288.89 477.43V476.68L287.61 477.62Z" fill="#415880"/>
<rect x="284.51" y="477.62" width="3.1" height="0.75" fill="#698ED0"/>
<path d="M284.51 477.62L285.79 476.68H288.89L287.61 477.62Z" fill="#4d6999"/>
<path d="M295.90 478.38L297.18 477.43V477.12L295.90 478.06Z" fill="#415880"/>
<rect x="292.80" y="478.06" width="3.1" height="0.31" fill="#698ED0"/>
<path d="M292.80 478.06L294.08 477.12H297.18L295.90 478.06Z" fill="#4d6999"/>
<path d="M304.19 478.38L305.47 477.43V477.12L304.19 478.06Z" fill="#415880"/>
<rect x="301.09" y="478.06" width="3.1" height="0.31" fill="#698ED0"/>
<path d="M301.09 478.06L302.37 477.12H305.47L304.19 478.06Z" fill="#4d6999"/>
<path d="M312.48 478.38L313.76 477.43V476.87L312.48 477.81Z" fill="#415880"/>
<rect x="309.38" y="477.81" width="3.1" height="0.57" fill="#698ED0"/>
<path d="M309.38 477.81L310.66 476.87H313.76L312.48 477.81Z" fill="#4d6999"/>
<path d="M320.77 478.38L322.05 477.43V475.55L320.77 476.49Z" fill="#415880"/>
<rect x="317.67" y="476.49" width="3.1" height="1.88" fill="#698ED0"/>
<path d="M317.67 476.49L318.95 475.55H322.05L320.77 476.49Z" fill="#4d6999"/>
<path d="M329.06 478.38L330.34 477.43V374.28L329.06 375.23Z" fill="#415880"/>
<rect x="325.96" y="375.23" width="3.1" height="103.15" fill="#698ED0"/>
<rect x="326.76" y="375.23" width="1.0" height="103.15" fill="#87a4d9"/>
<path d="M325.96 375.23L327.24 374.28H330.34L329.06 375.23Z" fill="#4d6999"/>
<path d="M337.35 478.38L338.63 477.43V477.12L337.35 478.06Z" fill="#415880"/>
<rect x="334.25" y="478.06" width="3.1" height="0.31" fill="#698ED0"/>
<path d="M334.25 478.06L335.53 477.12H338.63L337.35 478.06Z" fill="#4d6999"/>
<path d="M345.64 478.38L346.92 477.43V476.87L345.64 477.81Z" fill="#415880"/>
<rect x="342.54" y="477.81" width="3.1" height="0.57" fill="#698ED0"/>
<path d="M342.54 477.81L343.82 476.87H346.92L345.64 477.81Z" fill="#4d6999"/>
<path d="M353.93 478.38L355.21 477.43V477.12L353.93 478.06Z" fill="#415880"/>
<rect x="350.83" y="478.06" width="3.1" height="0.31" fill="#698ED0"/>
<path d="M350.83 478.06L352.11 477.12H355.21L353.93 478.06Z" fill="#4d6999"/>
<path d="M362.22 478.38L363.50 477.43V457.02L362.22 457.96Z" fill="#415880"/>
<rect x="359.12" y="457.96" width="3.1" height="20.41" fill="#698ED0"/>
<rect x="359.92" y="457.96" width="1.0" height="20.41" fill="#87a4d9"/>
<path d="M359.12 457.96L360.40 457.02H363.50L362.22 457.96Z" fill="#4d6999"/>
<path d="M370.51 478.38L371.79 477.43V475.86L370.51 476.81Z" fill="#415880"/>
<rect x="367.41" y="476.81" width="3.1" height="1.57" fill="#698ED0"/>
<path d="M367.41 476.81L368.69 475.86H371.79L370.51 476.81Z" fill="#4d6999"/>
<path d="M378.80 478.38L380.08 477.43V473.66L378.80 474.61Z" fill="#415880"/>
<rect x="375.70" y="474.61" width="3.1" height="3.77" fill="#698ED0"/>
<rect x="376.50" y="474.61" width="1.0" height="3.77" fill="#87a4d9"/>
<path d="M375.70 474.61L376.98 473.66H380.08L378.80 474.61Z" fill="#4d6999"/>
<path d="M387.09 478.38L388.37 477.43V448.23L387.09 449.17Z" fill="#415880"/>
<rect x="383.99" y="449.17" width="3.1" height="29.20" fill="#698ED0"/>
<rect x="384.79" y="449.17" width="1.0" height="29.20" fill="#87a4d9"/>
<path d="M383.99 449.17L385.27 448.23H388.37L387.09 449.17Z" fill="#4d6999"/>
<path d="M85.74 480.52L87.02 479.58V432.57L85.74 433.51Z" fill="#29401a"/>
<rect x="82.64" y="433.51" width="3.1" height="47.01" fill="#43682B"/>
<rect x="83.44" y="433.51" width="1.0" height="47.01" fill="#688655"/>
<path d="M82.64 433.51L83.92 432.57H87.02L85.74 433.51Z" fill="#314c1f"/>
<path d="M94.03 480.52L95.31 479.58V478.82L94.03 479.77Z" fill="#29401a"/>
<rect x="90.93" y="479.77" width="3.1" height="0.75" fill="#43682B"/>
<path d="M90.93 479.77L92.21 478.82H95.31L94.03 479.77Z" fill="#314c1f"/>
<path d="M102.32 480.52L103.60 479.58V478.95L102.32 479.89Z" fill="#29401a"/>
<rect x="99.22" y="479.89" width="3.1" height="0.63" fill="#43682B"/>
<path d="M99.22 479.89L100.50 478.95H103.60L102.32 479.89Z" fill="#314c1f"/>
<path d="M110.61 480.52L111.89 479.58V479.01L110.61 479.95Z" fill="#29401a"/>
<rect x="107.51" y="479.95" width="3.1" height="0.57" fill="#43682B"/>
<path d="M107.51 479.95L108.79 479.01H111.89L110.61 479.95Z" fill="#314c1f"/>
<path d="M118.90 480.52L120.18 479.58V479.26L118.90 480.20Z" fill="#29401a"/>
<rect x="115.80" y="480.20" width="3.1" height="0.31" fill="#43682B"/>
<path d="M115.80 480.20L117.08 479.26H120.18L118.90 480.20Z" fill="#314c1f"/>
<path d="M127.19 480.52L128.47 479.58V478.63L127.19 479.58Z" fill="#29401a"/>
<rect x="124.09" y="479.58" width="3.1" height="0.94" fill="#43682B"/>
<path d="M124.09 479.58L125.37 478.63H128.47L127.19 479.58Z" fill="#314c1f"/>
<path d="M135.48 480.52L136.76 479.58V478.95L135.48 479.89Z" fill="#29401a"/>
<rect x="132.38" y="479.89" width="3.1" height="0.63" fill="#43682B"/>
<path d="M132.38 479.89L133.66 478.95H136.76L135.48 479.89Z" fill="#314c1f"/>
<path d="M143.77 480.52L145.05 479.58V445.04L143.77 445.98Z" fill="#29401a"/>
<rect x="140.67" y="445.98" width="3.1" height="34.54" fill="#43682B"/>
<rect x="141.47" y="445.98" width="1.0" height="34.54" fill="#688655"/>
<path d="M140.67 445.98L141.95 445.04H145.05L143.77 445.98Z" fill="#314c1f"/>
<path d="M152.06 480.52L153.34 479.58V479.26L152.06 480.20Z" fill="#29401a"/>
<rect x="148.96" y="480.20" width="3.1" height="0.31" fill="#43682B"/>
<path d="M148.96 480.20L150.24 479.26H153.34L152.06 480.20Z" fill="#314c1f"/>
<path d="M160.35 480.52L161.63 479.58V478.82L160.35 479.77Z" fill="#29401a"/>
<rect x="157.25" y="479.77" width="3.1" height="0.75" fill="#43682B"/>
<path d="M157.25 479.77L158.53 478.82H161.63L160.35 479.77Z" fill="#314c1f"/>
<path d="M168.64 480.52L169.92 479.58V479.14L168.64 480.08Z" fill="#29401a"/>
<rect x="165.54" y="480.08" width="3.1" height="0.44" fill="#43682B"/>
<path d="M165.54 480.08L166.82 479.14H169.92L168.64 480.08Z" fill="#314c1f"/>
<path d="M176.93 480.52L178.21 479.58V479.14L176.93 480.08Z" fill="#29401a"/>
<rect x="173.83" y="480.08" width="3.1" height="0.44" fill="#43682B"/>
<path d="M173.83 480.08L175.11 479.14H178.21L176.93 480.08Z" fill="#314c1f"/>
<path d="M185.22 480.52L186.50 479.58V479.26L185.22 480.20Z" fill="#29401a"/>
<rect x="182.12" y="480.20" width="3.1" height="0.31" fill="#43682B"/>
<path d="M182.12 480.20L183.40 479.26H186.50L185.22 480.20Z" fill="#314c1f"/>
<path d="M193.51 480.52L194.79 479.58V478.82L193.51 479.77Z" fill="#29401a"/>
<rect x="190.41" y="479.77" width="3.1" height="0.75" fill="#43682B"/>
<path d="M190.41 479.77L191.69 478.82H194.79L193.51 479.77Z" fill="#314c1f"/>
<path d="M201.80 480.52L203.08 479.58V471.41L201.80 472.35Z" fill="#29401a"/>
<rect x="198.70" y="472.35" width="3.1" height="8.16" fill="#43682B"/>
<rect x="199.50" y="472.35" width="1.0" height="8.16" fill="#688655"/>
<path d="M198.70 472.35L199.98 471.41H203.08L201.80 472.35Z" fill="#314c1f"/>
<path d="M210.09 480.52L211.37 479.58V465.76L210.09 466.70Z" fill="#29401a"/>
<rect x="206.99" y="466.70" width="3.1" height="13.82" fill="#43682B"/>
<rect x="207.79" y="466.70" width="1.0" height="13.82" fill="#688655"/>
<path d="M206.99 466.70L208.27 465.76H211.37L210.09 466.70Z" fill="#314c1f"/>
<path d="M218.38 480.52L219.66 479.58V465.76L218.38 466.70Z" fill="#29401a"/>
<rect x="215.28" y="466.70" width="3.1" height="13.82" fill="#43682B"/>
<rect x="216.08" y="466.70" width="1.0" height="13.82" fill="#688655"/>
<path d="M215.28 466.70L216.56 465.76H219.66L218.38 466.70Z" fill="#314c1f"/>
<path d="M226.67 480.52L227.95 479.58V476.44L226.67 477.38Z" fill="#29401a"/>
<rect x="223.57" y="477.38" width="3.1" height="3.14" fill="#43682B"/>
<rect x="224.37" y="477.38" width="1.0" height="3.14" fill="#688655"/>
<path d="M223.57 477.38L224.85 476.44H227.95L226.67 477.38Z" fill="#314c1f"/>
<path d="M234.96 480.52L236.24 479.58V478.32L234.96 479.26Z" fill="#29401a"/>
<rect x="231.86" y="479.26" width="3.1" height="1.26" fill="#43682B"/>
<path d="M231.86 479.26L233.14 478.32H236.24L234.96 479.26Z" fill="#314c1f"/>
<path d="M243.25 480.52L244.53 479.58V479.14L243.25 480.08Z" fill="#29401a"/>
<rect x="240.15" y="480.08" width="3.1" height="0.44" fill="#43682B"/>
<path d="M240.15 480.08L241.43 479.14H244.53L243.25 480.08Z" fill="#314c1f"/>
<path d="M251.54 480.52L252.82 479.58V478.82L251.54 479.77Z" fill="#29401a"/>
<rect x="248.44" y="479.77" width="3.1" height="0.75" fill="#43682B"/>
<path d="M248.44 479.77L249.72 478.82H252.82L251.54 479.77Z" fill="#314c1f"/>
<path d="M259.83 480.52L261.11 479.58V478.82L259.83 479.77Z" fill="#29401a"/>
<rect x="256.73" y="479.77" width="3.1" height="0.75" fill="#43682B"/>
<path d="M256.73 479.77L258.01 478.82H261.11L259.83 479.77Z" fill="#314c1f"/>
<path d="M268.12 480.52L269.40 479.58V464.82L268.12 465.76Z" fill="#29401a"/>
<rect x="265.02" y="465.76" width="3.1" height="14.76" fill="#43682B"/>
<rect x="265.82" y="465.76" width="1.0" height="14.76" fill="#688655"/>
<path d="M265.02 465.76L266.30 464.82H269.40L268.12 465.76Z" fill="#314c1f"/>
<path d="M276.41 480.52L277.69 479.58V478.63L276.41 479.58Z" fill="#29401a"/>
<rect x="273.31" y="479.58" width="3.1" height="0.94" fill="#43682B"/>
<path d="M273.31 479.58L274.59 478.63H277.69L276.41 479.58Z" fill="#314c1f"/>
<path d="M284.70 480.52L285.98 479.58V479.14L284.70 480.08Z" fill="#29401a"/>
<rect x="281.60" y="480.08" width="3.1" height="0.44" fill="#43682B"/>
<path d="M281.60 480.08L282.88 479.14H285.98L284.70 480.08Z" fill="#314c1f"/>
<path d="M292.99 480.52L294.27 479.58V479.26L292.99 480.20Z" fill="#29401a"/>
<rect x="289.89" y="480.20" width="3.1" height="0.31" fill="#43682B"/>
<path d="M289.89 480.20L291.17 479.26H294.27L292.99 480.20Z" fill="#314c1f"/>
<path d="M301.28 480.52L302.56 479.58V478.82L301.28 479.77Z" fill="#29401a"/>
<rect x="298.18" y="479.77" width="3.1" height="0.75" fill="#43682B"/>
<path d="M298.18 479.77L299.46 478.82H302.56L301.28 479.77Z" fill="#314c1f"/>
<path d="M309.57 480.52L310.85 479.58V478.82L309.57 479.77Z" fill="#29401a"/>
<rect x="306.47" y="479.77" width="3.1" height="0.75" fill="#43682B"/>
<path d="M306.47 479.77L307.75 478.82H310.85L309.57 479.77Z" fill="#314c1f"/>
<path d="M317.86 480.52L319.14 479.58V477.69L317.86 478.63Z" fill="#29401a"/>
<rect x="314.76" y="478.63" width="3.1" height="1.88" fill="#43682B"/>
<path d="M314.76 478.63L316.04 477.69H319.14L317.86 478.63Z" fill="#314c1f"/>
<path d="M326.15 480.52L327.43 479.58V367.32L326.15 368.26Z" fill="#29401a"/>
<rect x="323.05" y="368.26" width="3.1" height="112.25" fill="#43682B"/>
<rect x="323.85" y="368.26" width="1.0" height="112.25" fill="#688655"/>
<path d="M323.05 368.26L324.33 367.32H327.43L326.15 368.26Z" fill="#314c1f"/>
<path d="M334.44 480.52L335.72 479.58V479.01L334.44 479.95Z" fill="#29401a"/>
<rect x="331.34" y="479.95" width="3.1" height="0.57" fill="#43682B"/>
<path d="M331.34 479.95L332.62 479.01H335.72L334.44 479.95Z" fill="#314c1f"/>
<path d="M342.73 480.52L344.01 479.58V479.01L342.73 479.95Z" fill="#29401a"/>
<rect x="339.63" y="479.95" width="3.1" height="0.57" fill="#43682B"/>
<path d="M339.63 479.95L340.91 479.01H344.01L342.73 479.95Z" fill="#314c1f"/>
<path d="M351.02 480.52L352.30 479.58V478.82L351.02 479.77Z" fill="#29401a"/>
<rect x="347.92" y="479.77" width="3.1" height="0.75" fill="#43682B"/>
<path d="M347.92 479.77L349.20 478.82H352.30L351.02 479.77Z" fill="#314c1f"/>
<path d="M359.31 480.52L360.59 479.58V457.75L359.31 458.70Z" fill="#29401a"/>
<rect x="356.21" y="458.70" width="3.1" height="21.82" fill="#43682B"/>
<rect x="357.01" y="458.70" width="1.0" height="21.82" fill="#688655"/>
<path d="M356.21 458.70L357.49 457.75H360.59L359.31 458.70Z" fill="#314c1f"/>
<path d="M367.60 480.52L368.88 479.58V478.01L367.60 478.95Z" fill="#29401a"/>
<rect x="364.50" y="478.95" width="3.1" height="1.57" fill="#43682B"/>
<path d="M364.50 478.95L365.78 478.01H368.88L367.60 478.95Z" fill="#314c1f"/>
<path d="M375.89 480.52L377.17 479.58V475.49L375.89 476.44Z" fill="#29401a"/>
<rect x="372.79" y="476.44" width="3.1" height="4.08" fill="#43682B"/>
<rect x="373.59" y="476.44" width="1.0" height="4.08" fill="#688655"/>
<path d="M372.79 476.44L374.07 475.49H377.17L375.89 476.44Z" fill="#314c1f"/>
<path d="M384.18 480.52L385.46 479.58V446.45L384.18 447.39Z" fill="#29401a"/>
<rect x="381.08" y="447.39" width="3.1" height="33.13" fill="#43682B"/>
<rect x="381.88" y="447.39" width="1.0" height="33.13" fill="#688655"/>
<path d="M381.08 447.39L382.36 446.45H385.46L384.18 447.39Z" fill="#314c1f"/>
<path d="M82.82 482.66L84.11 481.72V444.82L82.82 445.77Z" fill="#163a59"/>
<rect x="79.72" y="445.77" width="3.1" height="36.90" fill="#255E91"/>
<rect x="80.52" y="445.77" width="1.0" height="36.90" fill="#507ea7"/>
<path d="M79.72 445.77L81.01 444.82H84.11L82.82 445.77Z" fill="#1b456b"/>
<path d="M91.11 482.66L92.40 481.72V481.15L91.11 482.10Z" fill="#163a59"/>
<rect x="88.02" y="482.10" width="3.1" height="0.57" fill="#255E91"/>
<path d="M88.02 482.10L89.30 481.15H92.40L91.11 482.10Z" fill="#1b456b"/>
<path d="M99.40 482.66L100.69 481.72V481.09L99.40 482.03Z" fill="#163a59"/>
<rect x="96.30" y="482.03" width="3.1" height="0.63" fill="#255E91"/>
<path d="M96.30 482.03L97.59 481.09H100.69L99.40 482.03Z" fill="#1b456b"/>
<path d="M107.69 482.66L108.98 481.72V481.28L107.69 482.22Z" fill="#163a59"/>
<rect x="104.59" y="482.22" width="3.1" height="0.44" fill="#255E91"/>
<path d="M104.59 482.22L105.88 481.28H108.98L107.69 482.22Z" fill="#1b456b"/>
<path d="M115.98 482.66L117.27 481.72V481.41L115.98 482.35Z" fill="#163a59"/>
<rect x="112.88" y="482.35" width="3.1" height="0.31" fill="#255E91"/>
<path d="M112.88 482.35L114.17 481.41H117.27L115.98 482.35Z" fill="#1b456b"/>
<path d="M124.27 482.66L125.56 481.72V480.78L124.27 481.72Z" fill="#163a59"/>
<rect x="121.17" y="481.72" width="3.1" height="0.94" fill="#255E91"/>
<path d="M121.17 481.72L122.46 480.78H125.56L124.27 481.72Z" fill="#1b456b"/>
<path d="M132.56 482.66L133.85 481.72V481.09L132.56 482.03Z" fill="#163a59"/>
<rect x="129.46" y="482.03" width="3.1" height="0.63" fill="#255E91"/>
<path d="M129.46 482.03L130.75 481.09H133.85L132.56 482.03Z" fill="#1b456b"/>
<path d="M140.85 482.66L142.14 481.72V434.43L140.85 435.37Z" fill="#163a59"/>
<rect x="137.75" y="435.37" width="3.1" height="47.29" fill="#255E91"/>
<rect x="138.56" y="435.37" width="1.0" height="47.29" fill="#507ea7"/>
<path d="M137.75 435.37L139.04 434.43H142.14L140.85 435.37Z" fill="#1b456b"/>
<path d="M149.14 482.66L150.43 481.72V481.28L149.14 482.22Z" fill="#163a59"/>
<rect x="146.04" y="482.22" width="3.1" height="0.44" fill="#255E91"/>
<path d="M146.04 482.22L147.33 481.28H150.43L149.14 482.22Z" fill="#1b456b"/>
<path d="M157.43 482.66L158.72 481.72V481.15L157.43 482.10Z" fill="#163a59"/>
<rect x="154.33" y="482.10" width="3.1" height="0.57" fill="#255E91"/>
<path d="M154.33 482.10L155.62 481.15H158.72L157.43 482.10Z" fill="#1b456b"/>
<path d="M165.72 482.66L167.01 481.72V481.41L165.72 482.35Z" fill="#163a59"/>
<rect x="162.62" y="482.35" width="3.1" height="0.31" fill="#255E91"/>
<path d="M162.62 482.35L163.91 481.41H167.01L165.72 482.35Z" fill="#1b456b"/>
<path d="M174.01 482.66L175.30 481.72V480.97L174.01 481.91Z" fill="#163a59"/>
<rect x="170.91" y="481.91" width="3.1" height="0.75" fill="#255E91"/>
<path d="M170.91 481.91L172.20 480.97H175.30L174.01 481.91Z" fill="#1b456b"/>
<path d="M182.30 482.66L183.59 481.72V481.28L182.30 482.22Z" fill="#163a59"/>
<rect x="179.20" y="482.22" width="3.1" height="0.44" fill="#255E91"/>
<path d="M179.20 482.22L180.49 481.28H183.59L182.30 482.22Z" fill="#1b456b"/>
<path d="M190.59 482.66L191.88 481.72V481.28L190.59 482.22Z" fill="#163a59"/>
<rect x="187.49" y="482.22" width="3.1" height="0.44" fill="#255E91"/>
<path d="M187.49 482.22L188.78 481.28H191.88L190.59 482.22Z" fill="#1b456b"/>
<path d="M198.88 482.66L200.17 481.72V472.30L198.88 473.24Z" fill="#163a59"/>
<rect x="195.78" y="473.24" width="3.1" height="9.42" fill="#255E91"/>
<rect x="196.59" y="473.24" width="1.0" height="9.42" fill="#507ea7"/>
<path d="M195.78 473.24L197.07 472.30H200.17L198.88 473.24Z" fill="#1b456b"/>
<path d="M207.17 482.66L208.46 481.72V465.83L207.17 466.77Z" fill="#163a59"/>
<rect x="204.07" y="466.77" width="3.1" height="15.89" fill="#255E91"/>
<rect x="204.88" y="466.77" width="1.0" height="15.89" fill="#507ea7"/>
<path d="M204.07 466.77L205.36 465.83H208.46L207.17 466.77Z" fill="#1b456b"/>
<path d="M215.46 482.66L216.75 481.72V465.83L215.46 466.77Z" fill="#163a59"/>
<rect x="212.36" y="466.77" width="3.1" height="15.89" fill="#255E91"/>
<rect x="213.16" y="466.77" width="1.0" height="15.89" fill="#507ea7"/>
<path d="M212.36 466.77L213.65 465.83H216.75L215.46 466.77Z" fill="#1b456b"/>
<path d="M223.75 482.66L225.04 481.72V478.58L223.75 479.52Z" fill="#163a59"/>
<rect x="220.65" y="479.52" width="3.1" height="3.14" fill="#255E91"/>
<rect x="221.45" y="479.52" width="1.0" height="3.14" fill="#507ea7"/>
<path d="M220.65 479.52L221.94 478.58H225.04L223.75 479.52Z" fill="#1b456b"/>
<path d="M232.04 482.66L233.33 481.72V480.46L232.04 481.41Z" fill="#163a59"/>
<rect x="228.94" y="481.41" width="3.1" height="1.26" fill="#255E91"/>
<path d="M228.94 481.41L230.23 480.46H233.33L232.04 481.41Z" fill="#1b456b"/>
<path d="M240.33 482.66L241.62 481.72V481.28L240.33 482.22Z" fill="#163a59"/>
<rect x="237.23" y="482.22" width="3.1" height="0.44" fill="#255E91"/>
<path d="M237.23 482.22L238.52 481.28H241.62L240.33 482.22Z" fill="#1b456b"/>
<path d="M248.62 482.66L249.91 481.72V481.41L248.62 482.35Z" fill="#163a59"/>
<rect x="245.52" y="482.35" width="3.1" height="0.31" fill="#255E91"/>
<path d="M245.52 482.35L246.81 481.41H249.91L248.62 482.35Z" fill="#1b456b"/>
<path d="M256.91 482.66L258.20 481.72V481.15L256.91 482.10Z" fill="#163a59"/>
<rect x="253.81" y="482.10" width="3.1" height="0.57" fill="#255E91"/>
<path d="M253.81 482.10L255.10 481.15H258.20L256.91 482.10Z" fill="#1b456b"/>
<path d="M265.21 482.66L266.49 481.72V462.88L265.21 463.82Z" fill="#163a59"/>
<rect x="262.11" y="463.82" width="3.1" height="18.84" fill="#255E91"/>
<rect x="262.91" y="463.82" width="1.0" height="18.84" fill="#507ea7"/>
<path d="M262.11 463.82L263.39 462.88H266.49L265.21 463.82Z" fill="#1b456b"/>
<path d="M273.50 482.66L274.78 481.72V480.78L273.50 481.72Z" fill="#163a59"/>
<rect x="270.39" y="481.72" width="3.1" height="0.94" fill="#255E91"/>
<path d="M270.39 481.72L271.68 480.78H274.78L273.50 481.72Z" fill="#1b456b"/>
<path d="M281.78 482.66L283.07 481.72V480.97L281.78 481.91Z" fill="#163a59"/>
<rect x="278.68" y="481.91" width="3.1" height="0.75" fill="#255E91"/>
<path d="M278.68 481.91L279.97 480.97H283.07L281.78 481.91Z" fill="#1b456b"/>
<path d="M290.07 482.66L291.36 481.72V481.28L290.07 482.22Z" fill="#163a59"/>
<rect x="286.97" y="482.22" width="3.1" height="0.44" fill="#255E91"/>
<path d="M286.97 482.22L288.26 481.28H291.36L290.07 482.22Z" fill="#1b456b"/>
<path d="M298.37 482.66L299.65 481.72V481.15L298.37 482.10Z" fill="#163a59"/>
<rect x="295.26" y="482.10" width="3.1" height="0.57" fill="#255E91"/>
<path d="M295.26 482.10L296.55 481.15H299.65L298.37 482.10Z" fill="#1b456b"/>
<path d="M306.66 482.66L307.94 481.72V481.41L306.66 482.35Z" fill="#163a59"/>
<rect x="303.56" y="482.35" width="3.1" height="0.31" fill="#255E91"/>
<path d="M303.56 482.35L304.84 481.41H307.94L306.66 482.35Z" fill="#1b456b"/>
<path d="M314.95 482.66L316.23 481.72V479.84L314.95 480.78Z" fill="#163a59"/>
<rect x="311.85" y="480.78" width="3.1" height="1.88" fill="#255E91"/>
<path d="M311.85 480.78L313.13 479.84H316.23L314.95 480.78Z" fill="#1b456b"/>
<path d="M323.24 482.66L324.52 481.72V363.56L323.24 364.50Z" fill="#163a59"/>
<rect x="320.13" y="364.50" width="3.1" height="118.16" fill="#255E91"/>
<rect x="320.94" y="364.50" width="1.0" height="118.16" fill="#507ea7"/>
<path d="M320.13 364.50L321.42 363.56H324.52L323.24 364.50Z" fill="#1b456b"/>
<path d="M331.53 482.66L332.81 481.72V480.97L331.53 481.91Z" fill="#163a59"/>
<rect x="328.43" y="481.91" width="3.1" height="0.75" fill="#255E91"/>
<path d="M328.43 481.91L329.71 480.97H332.81L331.53 481.91Z" fill="#1b456b"/>
<path d="M339.81 482.66L341.10 481.72V481.28L339.81 482.22Z" fill="#163a59"/>
<rect x="336.71" y="482.22" width="3.1" height="0.44" fill="#255E91"/>
<path d="M336.71 482.22L338.00 481.28H341.10L339.81 482.22Z" fill="#1b456b"/>
<path d="M348.11 482.66L349.39 481.72V480.97L348.11 481.91Z" fill="#163a59"/>
<rect x="345.00" y="481.91" width="3.1" height="0.75" fill="#255E91"/>
<path d="M345.00 481.91L346.29 480.97H349.39L348.11 481.91Z" fill="#1b456b"/>
<path d="M356.40 482.66L357.68 481.72V457.86L356.40 458.80Z" fill="#163a59"/>
<rect x="353.30" y="458.80" width="3.1" height="23.86" fill="#255E91"/>
<rect x="354.10" y="458.80" width="1.0" height="23.86" fill="#507ea7"/>
<path d="M353.30 458.80L354.58 457.86H357.68L356.40 458.80Z" fill="#1b456b"/>
<path d="M364.69 482.66L365.97 481.72V480.15L364.69 481.09Z" fill="#163a59"/>
<rect x="361.58" y="481.09" width="3.1" height="1.57" fill="#255E91"/>
<path d="M361.58 481.09L362.87 480.15H365.97L364.69 481.09Z" fill="#1b456b"/>
<path d="M372.98 482.66L374.26 481.72V477.32L372.98 478.27Z" fill="#163a59"/>
<rect x="369.88" y="478.27" width="3.1" height="4.40" fill="#255E91"/>
<rect x="370.68" y="478.27" width="1.0" height="4.40" fill="#507ea7"/>
<path d="M369.88 478.27L371.16 477.32H374.26L372.98 478.27Z" fill="#1b456b"/>
<path d="M381.26 482.66L382.55 481.72V445.61L381.26 446.55Z" fill="#163a59"/>
<rect x="378.16" y="446.55" width="3.1" height="36.11" fill="#255E91"/>
<rect x="378.96" y="446.55" width="1.0" height="36.11" fill="#507ea7"/>
<path d="M378.16 446.55L379.45 445.61H382.55L381.26 446.55Z" fill="#1b456b"/>
<path d="M79.91 484.81L81.19 483.86V457.86L79.91 458.81Z" fill="#5e4700"/>
<rect x="76.81" y="458.81" width="3.1" height="26.00" fill="#997300"/>
<rect x="77.61" y="458.81" width="1.0" height="26.00" fill="#ad8f32"/>
<path d="M76.81 458.81L78.09 457.86H81.19L79.91 458.81Z" fill="#715500"/>
<path d="M88.20 484.81L89.48 483.86V483.42L88.20 484.37Z" fill="#5e4700"/>
<rect x="85.10" y="484.37" width="3.1" height="0.44" fill="#997300"/>
<path d="M85.10 484.37L86.38 483.42H89.48L88.20 484.37Z" fill="#715500"/>
<path d="M96.49 484.81L97.77 483.86V483.24L96.49 484.18Z" fill="#5e4700"/>
<rect x="93.39" y="484.18" width="3.1" height="0.63" fill="#997300"/>
<path d="M93.39 484.18L94.67 483.24H97.77L96.49 484.18Z" fill="#715500"/>
<path d="M104.78 484.81L106.06 483.86V483.11L104.78 484.05Z" fill="#5e4700"/>
<rect x="101.68" y="484.05" width="3.1" height="0.75" fill="#997300"/>
<path d="M101.68 484.05L102.96 483.11H106.06L104.78 484.05Z" fill="#715500"/>
<path d="M113.07 484.81L114.35 483.86V483.11L113.07 484.05Z" fill="#5e4700"/>
<rect x="109.97" y="484.05" width="3.1" height="0.75" fill="#997300"/>
<path d="M109.97 484.05L111.25 483.11H114.35L113.07 484.05Z" fill="#715500"/>
<path d="M121.36 484.81L122.64 483.86V482.92L121.36 483.86Z" fill="#5e4700"/>
<rect x="118.26" y="483.86" width="3.1" height="0.94" fill="#997300"/>
<path d="M118.26 483.86L119.54 482.92H122.64L121.36 483.86Z" fill="#715500"/>
<path d="M129.65 484.81L130.93 483.86V483.24L129.65 484.18Z" fill="#5e4700"/>
<rect x="126.55" y="484.18" width="3.1" height="0.63" fill="#997300"/>
<path d="M126.55 484.18L127.83 483.24H130.93L129.65 484.18Z" fill="#715500"/>
<path d="M137.94 484.81L139.22 483.86V446.50L137.94 447.44Z" fill="#5e4700"/>
<rect x="134.84" y="447.44" width="3.1" height="37.37" fill="#997300"/>
<rect x="135.64" y="447.44" width="1.0" height="37.37" fill="#ad8f32"/>
<path d="M134.84 447.44L136.12 446.50H139.22L137.94 447.44Z" fill="#715500"/>
<path d="M146.23 484.81L147.51 483.86V483.11L146.23 484.05Z" fill="#5e4700"/>
<rect x="143.13" y="484.05" width="3.1" height="0.75" fill="#997300"/>
<path d="M143.13 484.05L144.41 483.11H147.51L146.23 484.05Z" fill="#715500"/>
<path d="M154.52 484.81L155.80 483.86V483.30L154.52 484.24Z" fill="#5e4700"/>
<rect x="151.42" y="484.24" width="3.1" height="0.57" fill="#997300"/>
<path d="M151.42 484.24L152.70 483.30H155.80L154.52 484.24Z" fill="#715500"/>
<path d="M162.81 484.81L164.09 483.86V483.42L162.81 484.37Z" fill="#5e4700"/>
<rect x="159.71" y="484.37" width="3.1" height="0.44" fill="#997300"/>
<path d="M159.71 484.37L160.99 483.42H164.09L162.81 484.37Z" fill="#715500"/>
<path d="M171.10 484.81L172.38 483.86V483.42L171.10 484.37Z" fill="#5e4700"/>
<rect x="168.00" y="484.37" width="3.1" height="0.44" fill="#997300"/>
<path d="M168.00 484.37L169.28 483.42H172.38L171.10 484.37Z" fill="#715500"/>
<path d="M179.39 484.81L180.67 483.86V483.55L179.39 484.49Z" fill="#5e4700"/>
<rect x="176.29" y="484.49" width="3.1" height="0.31" fill="#997300"/>
<path d="M176.29 484.49L177.57 483.55H180.67L179.39 484.49Z" fill="#715500"/>
<path d="M187.68 484.81L188.96 483.86V483.11L187.68 484.05Z" fill="#5e4700"/>
<rect x="184.58" y="484.05" width="3.1" height="0.75" fill="#997300"/>
<path d="M184.58 484.05L185.86 483.11H188.96L187.68 484.05Z" fill="#715500"/>
<path d="M195.97 484.81L197.25 483.86V476.01L195.97 476.96Z" fill="#5e4700"/>
<rect x="192.87" y="476.96" width="3.1" height="7.85" fill="#997300"/>
<rect x="193.67" y="476.96" width="1.0" height="7.85" fill="#ad8f32"/>
<path d="M192.87 476.96L194.15 476.01H197.25L195.97 476.96Z" fill="#715500"/>
<path d="M204.26 484.81L205.54 483.86V471.30L204.26 472.25Z" fill="#5e4700"/>
<rect x="201.16" y="472.25" width="3.1" height="12.56" fill="#997300"/>
<rect x="201.96" y="472.25" width="1.0" height="12.56" fill="#ad8f32"/>
<path d="M201.16 472.25L202.44 471.30H205.54L204.26 472.25Z" fill="#715500"/>
<path d="M212.55 484.81L213.83 483.86V470.36L212.55 471.30Z" fill="#5e4700"/>
<rect x="209.45" y="471.30" width="3.1" height="13.50" fill="#997300"/>
<rect x="210.25" y="471.30" width="1.0" height="13.50" fill="#ad8f32"/>
<path d="M209.45 471.30L210.73 470.36H213.83L212.55 471.30Z" fill="#715500"/>
<path d="M220.84 484.81L222.12 483.86V480.72L220.84 481.67Z" fill="#5e4700"/>
<rect x="217.74" y="481.67" width="3.1" height="3.14" fill="#997300"/>
<rect x="218.54" y="481.67" width="1.0" height="3.14" fill="#ad8f32"/>
<path d="M217.74 481.67L219.02 480.72H222.12L220.84 481.67Z" fill="#715500"/>
<path d="M229.13 484.81L230.41 483.86V482.61L229.13 483.55Z" fill="#5e4700"/>
<rect x="226.03" y="483.55" width="3.1" height="1.26" fill="#997300"/>
<path d="M226.03 483.55L227.31 482.61H230.41L229.13 483.55Z" fill="#715500"/>
<path d="M237.42 484.81L238.70 483.86V483.11L237.42 484.05Z" fill="#5e4700"/>
<rect x="234.32" y="484.05" width="3.1" height="0.75" fill="#997300"/>
<path d="M234.32 484.05L235.60 483.11H238.70L237.42 484.05Z" fill="#715500"/>
<path d="M245.71 484.81L246.99 483.86V483.11L245.71 484.05Z" fill="#5e4700"/>
<rect x="242.61" y="484.05" width="3.1" height="0.75" fill="#997300"/>
<path d="M242.61 484.05L243.89 483.11H246.99L245.71 484.05Z" fill="#715500"/>
<path d="M254.00 484.81L255.28 483.86V483.11L254.00 484.05Z" fill="#5e4700"/>
<rect x="250.90" y="484.05" width="3.1" height="0.75" fill="#997300"/>
<path d="M250.90 484.05L252.18 483.11H255.28L254.00 484.05Z" fill="#715500"/>
<path d="M262.29 484.81L263.57 483.86V467.54L262.29 468.48Z" fill="#5e4700"/>
<rect x="259.19" y="468.48" width="3.1" height="16.33" fill="#997300"/>
<rect x="259.99" y="468.48" width="1.0" height="16.33" fill="#ad8f32"/>
<path d="M259.19 468.48L260.47 467.54H263.57L262.29 468.48Z" fill="#715500"/>
<path d="M270.58 484.81L271.86 483.86V482.92L270.58 483.86Z" fill="#5e4700"/>
<rect x="267.48" y="483.86" width="3.1" height="0.94" fill="#997300"/>
<path d="M267.48 483.86L268.76 482.92H271.86L270.58 483.86Z" fill="#715500"/>
<path d="M278.87 484.81L280.15 483.86V483.42L278.87 484.37Z" fill="#5e4700"/>
<rect x="275.77" y="484.37" width="3.1" height="0.44" fill="#997300"/>
<path d="M275.77 484.37L277.05 483.42H280.15L278.87 484.37Z" fill="#715500"/>
<path d="M287.16 484.81L288.44 483.86V483.55L287.16 484.49Z" fill="#5e4700"/>
<rect x="284.06" y="484.49" width="3.1" height="0.31" fill="#997300"/>
<path d="M284.06 484.49L285.34 483.55H288.44L287.16 484.49Z" fill="#715500"/>
<path d="M295.45 484.81L296.73 483.86V483.42L295.45 484.37Z" fill="#5e4700"/>
<rect x="292.35" y="484.37" width="3.1" height="0.44" fill="#997300"/>
<path d="M292.35 484.37L293.63 483.42H296.73L295.45 484.37Z" fill="#715500"/>
<path d="M303.74 484.81L305.02 483.86V483.11L303.74 484.05Z" fill="#5e4700"/>
<rect x="300.64" y="484.05" width="3.1" height="0.75" fill="#997300"/>
<path d="M300.64 484.05L301.92 483.11H305.02L303.74 484.05Z" fill="#715500"/>
<path d="M312.03 484.81L313.31 483.86V481.98L312.03 482.92Z" fill="#5e4700"/>
<rect x="308.93" y="482.92" width="3.1" height="1.88" fill="#997300"/>
<path d="M308.93 482.92L310.21 481.98H313.31L312.03 482.92Z" fill="#715500"/>
<path d="M320.32 484.81L321.60 483.86V377.23L320.32 378.17Z" fill="#5e4700"/>
<rect x="317.22" y="378.17" width="3.1" height="106.63" fill="#997300"/>
<rect x="318.02" y="378.17" width="1.0" height="106.63" fill="#ad8f32"/>
<path d="M317.22 378.17L318.50 377.23H321.60L320.32 378.17Z" fill="#715500"/>
<path d="M328.61 484.81L329.89 483.86V483.55L328.61 484.49Z" fill="#5e4700"/>
<rect x="325.51" y="484.49" width="3.1" height="0.31" fill="#997300"/>
<path d="M325.51 484.49L326.79 483.55H329.89L328.61 484.49Z" fill="#715500"/>
<path d="M336.90 484.81L338.18 483.86V483.55L336.90 484.49Z" fill="#5e4700"/>
<rect x="333.80" y="484.49" width="3.1" height="0.31" fill="#997300"/>
<path d="M333.80 484.49L335.08 483.55H338.18L336.90 484.49Z" fill="#715500"/>
<path d="M345.19 484.81L346.47 483.86V483.11L345.19 484.05Z" fill="#5e4700"/>
<rect x="342.09" y="484.05" width="3.1" height="0.75" fill="#997300"/>
<path d="M342.09 484.05L343.37 483.11H346.47L345.19 484.05Z" fill="#715500"/>
<path d="M353.48 484.81L354.76 483.86V462.83L353.48 463.77Z" fill="#5e4700"/>
<rect x="350.38" y="463.77" width="3.1" height="21.04" fill="#997300"/>
<rect x="351.18" y="463.77" width="1.0" height="21.04" fill="#ad8f32"/>
<path d="M350.38 463.77L351.66 462.83H354.76L353.48 463.77Z" fill="#715500"/>
<path d="M361.77 484.81L363.05 483.86V482.29L361.77 483.24Z" fill="#5e4700"/>
<rect x="358.67" y="483.24" width="3.1" height="1.57" fill="#997300"/>
<path d="M358.67 483.24L359.95 482.29H363.05L361.77 483.24Z" fill="#715500"/>
<path d="M370.06 484.81L371.34 483.86V479.78L370.06 480.72Z" fill="#5e4700"/>
<rect x="366.96" y="480.72" width="3.1" height="4.08" fill="#997300"/>
<rect x="367.76" y="480.72" width="1.0" height="4.08" fill="#ad8f32"/>
<path d="M366.96 480.72L368.24 479.78H371.34L370.06 480.72Z" fill="#715500"/>
<path d="M378.35 484.81L379.63 483.86V452.46L378.35 453.41Z" fill="#5e4700"/>
<rect x="375.25" y="453.41" width="3.1" height="31.40" fill="#997300"/>
<rect x="376.05" y="453.41" width="1.0" height="31.40" fill="#ad8f32"/>
<path d="M375.25 453.41L376.53 452.46H379.63L378.35 453.41Z" fill="#715500"/>
<path d="M77.00 486.95L78.28 486.01V434.82L77.00 435.77Z" fill="#3d3d3d"/>
<rect x="73.90" y="435.77" width="3.1" height="51.18" fill="#636363"/>
<rect x="74.70" y="435.77" width="1.0" height="51.18" fill="#828282"/>
<path d="M73.90 435.77L75.18 434.82H78.28L77.00 435.77Z" fill="#494949"/>
<path d="M85.29 486.95L86.57 486.01V485.69L85.29 486.64Z" fill="#3d3d3d"/>
<rect x="82.19" y="486.64" width="3.1" height="0.31" fill="#636363"/>
<path d="M82.19 486.64L83.47 485.69H86.57L85.29 486.64Z" fill="#494949"/>
<path d="M93.58 486.95L94.86 486.01V485.38L93.58 486.32Z" fill="#3d3d3d"/>
<rect x="90.48" y="486.32" width="3.1" height="0.63" fill="#636363"/>
<path d="M90.48 486.32L91.76 485.38H94.86L93.58 486.32Z" fill="#494949"/>
<path d="M101.87 486.95L103.15 486.01V485.69L101.87 486.64Z" fill="#3d3d3d"/>
<rect x="98.77" y="486.64" width="3.1" height="0.31" fill="#636363"/>
<path d="M98.77 486.64L100.05 485.69H103.15L101.87 486.64Z" fill="#494949"/>
<path d="M110.16 486.95L111.44 486.01V485.44L110.16 486.38Z" fill="#3d3d3d"/>
<rect x="107.06" y="486.38" width="3.1" height="0.57" fill="#636363"/>
<path d="M107.06 486.38L108.34 485.44H111.44L110.16 486.38Z" fill="#494949"/>
<path d="M118.45 486.95L119.73 486.01V485.06L118.45 486.01Z" fill="#3d3d3d"/>
<rect x="115.35" y="486.01" width="3.1" height="0.94" fill="#636363"/>
<path d="M115.35 486.01L116.63 485.06H119.73L118.45 486.01Z" fill="#494949"/>
<path d="M126.74 486.95L128.02 486.01V485.38L126.74 486.32Z" fill="#3d3d3d"/>
<rect x="123.64" y="486.32" width="3.1" height="0.63" fill="#636363"/>
<path d="M123.64 486.32L124.92 485.38H128.02L126.74 486.32Z" fill="#494949"/>
<path d="M135.03 486.95L136.31 486.01V437.81L135.03 438.75Z" fill="#3d3d3d"/>
<rect x="131.93" y="438.75" width="3.1" height="48.20" fill="#636363"/>
<rect x="132.73" y="438.75" width="1.0" height="48.20" fill="#828282"/>
<path d="M131.93 438.75L133.21 437.81H136.31L135.03 438.75Z" fill="#494949"/>
<path d="M143.32 486.95L144.60 486.01V485.57L143.32 486.51Z" fill="#3d3d3d"/>
<rect x="140.22" y="486.51" width="3.1" height="0.44" fill="#636363"/>
<path d="M140.22 486.51L141.50 485.57H144.60L143.32 486.51Z" fill="#494949"/>
<path d="M151.61 486.95L152.89 486.01V485.44L151.61 486.38Z" fill="#3d3d3d"/>
<rect x="148.51" y="486.38" width="3.1" height="0.57" fill="#636363"/>
<path d="M148.51 486.38L149.79 485.44H152.89L151.61 486.38Z" fill="#494949"/>
<path d="M159.90 486.95L161.18 486.01V485.25L159.90 486.20Z" fill="#3d3d3d"/>
<rect x="156.80" y="486.20" width="3.1" height="0.75" fill="#636363"/>
<path d="M156.80 486.20L158.08 485.25H161.18L159.90 486.20Z" fill="#494949"/>
<path d="M168.19 486.95L169.47 486.01V485.57L168.19 486.51Z" fill="#3d3d3d"/>
<rect x="165.09" y="486.51" width="3.1" height="0.44" fill="#636363"/>
<path d="M165.09 486.51L166.37 485.57H169.47L168.19 486.51Z" fill="#494949"/>
<path d="M176.48 486.95L177.76 486.01V485.44L176.48 486.38Z" fill="#3d3d3d"/>
<rect x="173.38" y="486.38" width="3.1" height="0.57" fill="#636363"/>
<path d="M173.38 486.38L174.66 485.44H177.76L176.48 486.38Z" fill="#494949"/>
<path d="M184.77 486.95L186.05 486.01V485.57L184.77 486.51Z" fill="#3d3d3d"/>
<rect x="181.67" y="486.51" width="3.1" height="0.44" fill="#636363"/>
<path d="M181.67 486.51L182.95 485.57H186.05L184.77 486.51Z" fill="#494949"/>
<path d="M193.06 486.95L194.34 486.01V476.59L193.06 477.53Z" fill="#3d3d3d"/>
<rect x="189.96" y="477.53" width="3.1" height="9.42" fill="#636363"/>
<rect x="190.76" y="477.53" width="1.0" height="9.42" fill="#828282"/>
<path d="M189.96 477.53L191.24 476.59H194.34L193.06 477.53Z" fill="#494949"/>
<path d="M201.35 486.95L202.63 486.01V470.93L201.35 471.88Z" fill="#3d3d3d"/>
<rect x="198.25" y="471.88" width="3.1" height="15.07" fill="#636363"/>
<rect x="199.05" y="471.88" width="1.0" height="15.07" fill="#828282"/>
<path d="M198.25 471.88L199.53 470.93H202.63L201.35 471.88Z" fill="#494949"/>
<path d="M209.64 486.95L210.92 486.01V470.31L209.64 471.25Z" fill="#3d3d3d"/>
<rect x="206.54" y="471.25" width="3.1" height="15.70" fill="#636363"/>
<rect x="207.34" y="471.25" width="1.0" height="15.70" fill="#828282"/>
<path d="M206.54 471.25L207.82 470.31H210.92L209.64 471.25Z" fill="#494949"/>
<path d="M217.93 486.95L219.21 486.01V482.87L217.93 483.81Z" fill="#3d3d3d"/>
<rect x="214.83" y="483.81" width="3.1" height="3.14" fill="#636363"/>
<rect x="215.63" y="483.81" width="1.0" height="3.14" fill="#828282"/>
<path d="M214.83 483.81L216.11 482.87H219.21L217.93 483.81Z" fill="#494949"/>
<path d="M226.22 486.95L227.50 486.01V484.75L226.22 485.69Z" fill="#3d3d3d"/>
<rect x="223.12" y="485.69" width="3.1" height="1.26" fill="#636363"/>
<path d="M223.12 485.69L224.40 484.75H227.50L226.22 485.69Z" fill="#494949"/>
<path d="M234.51 486.95L235.79 486.01V485.25L234.51 486.20Z" fill="#3d3d3d"/>
<rect x="231.41" y="486.20" width="3.1" height="0.75" fill="#636363"/>
<path d="M231.41 486.20L232.69 485.25H235.79L234.51 486.20Z" fill="#494949"/>
<path d="M242.80 486.95L244.08 486.01V485.25L242.80 486.20Z" fill="#3d3d3d"/>
<rect x="239.70" y="486.20" width="3.1" height="0.75" fill="#636363"/>
<path d="M239.70 486.20L240.98 485.25H244.08L242.80 486.20Z" fill="#494949"/>
<path d="M251.09 486.95L252.37 486.01V485.57L251.09 486.51Z" fill="#3d3d3d"/>
<rect x="247.99" y="486.51" width="3.1" height="0.44" fill="#636363"/>
<path d="M247.99 486.51L249.27 485.57H252.37L251.09 486.51Z" fill="#494949"/>
<path d="M259.38 486.95L260.66 486.01V467.17L259.38 468.11Z" fill="#3d3d3d"/>
<rect x="256.28" y="468.11" width="3.1" height="18.84" fill="#636363"/>
<rect x="257.08" y="468.11" width="1.0" height="18.84" fill="#828282"/>
<path d="M256.28 468.11L257.56 467.17H260.66L259.38 468.11Z" fill="#494949"/>
<path d="M267.67 486.95L268.95 486.01V485.06L267.67 486.01Z" fill="#3d3d3d"/>
<rect x="264.57" y="486.01" width="3.1" height="0.94" fill="#636363"/>
<path d="M264.57 486.01L265.85 485.06H268.95L267.67 486.01Z" fill="#494949"/>
<path d="M275.96 486.95L277.24 486.01V485.69L275.96 486.64Z" fill="#3d3d3d"/>
<rect x="272.86" y="486.64" width="3.1" height="0.31" fill="#636363"/>
<path d="M272.86 486.64L274.14 485.69H277.24L275.96 486.64Z" fill="#494949"/>
<path d="M284.25 486.95L285.53 486.01V485.44L284.25 486.38Z" fill="#3d3d3d"/>
<rect x="281.15" y="486.38" width="3.1" height="0.57" fill="#636363"/>
<path d="M281.15 486.38L282.43 485.44H285.53L284.25 486.38Z" fill="#494949"/>
<path d="M292.54 486.95L293.82 486.01V485.57L292.54 486.51Z" fill="#3d3d3d"/>
<rect x="289.44" y="486.51" width="3.1" height="0.44" fill="#636363"/>
<path d="M289.44 486.51L290.72 485.57H293.82L292.54 486.51Z" fill="#494949"/>
<path d="M300.83 486.95L302.11 486.01V485.44L300.83 486.38Z" fill="#3d3d3d"/>
<rect x="297.73" y="486.38" width="3.1" height="0.57" fill="#636363"/>
<path d="M297.73 486.38L299.01 485.44H302.11L300.83 486.38Z" fill="#494949"/>
<path d="M309.12 486.95L310.40 486.01V484.12L309.12 485.07Z" fill="#3d3d3d"/>
<rect x="306.02" y="485.07" width="3.1" height="1.88" fill="#636363"/>
<path d="M306.02 485.07L307.30 484.12H310.40L309.12 485.07Z" fill="#494949"/>
<path d="M317.41 486.95L318.69 486.01V373.41L317.41 374.35Z" fill="#3d3d3d"/>
<rect x="314.31" y="374.35" width="3.1" height="112.60" fill="#636363"/>
<rect x="315.11" y="374.35" width="1.0" height="112.60" fill="#828282"/>
<path d="M314.31 374.35L315.59 373.41H318.69L317.41 374.35Z" fill="#494949"/>
<path d="M325.70 486.95L326.98 486.01V485.69L325.70 486.64Z" fill="#3d3d3d"/>
<rect x="322.60" y="486.64" width="3.1" height="0.31" fill="#636363"/>
<path d="M322.60 486.64L323.88 485.69H326.98L325.70 486.64Z" fill="#494949"/>
<path d="M333.99 486.95L335.27 486.01V485.57L333.99 486.51Z" fill="#3d3d3d"/>
<rect x="330.89" y="486.51" width="3.1" height="0.44" fill="#636363"/>
<path d="M330.89 486.51L332.17 485.57H335.27L333.99 486.51Z" fill="#494949"/>
<path d="M342.28 486.95L343.56 486.01V485.44L342.28 486.38Z" fill="#3d3d3d"/>
<rect x="339.18" y="486.38" width="3.1" height="0.57" fill="#636363"/>
<path d="M339.18 486.38L340.46 485.44H343.56L342.28 486.38Z" fill="#494949"/>
<path d="M350.57 486.95L351.85 486.01V461.20L350.57 462.14Z" fill="#3d3d3d"/>
<rect x="347.47" y="462.14" width="3.1" height="24.81" fill="#636363"/>
<rect x="348.27" y="462.14" width="1.0" height="24.81" fill="#828282"/>
<path d="M347.47 462.14L348.75 461.20H351.85L350.57 462.14Z" fill="#494949"/>
<path d="M358.86 486.95L360.14 486.01V484.44L358.86 485.38Z" fill="#3d3d3d"/>
<rect x="355.76" y="485.38" width="3.1" height="1.57" fill="#636363"/>
<path d="M355.76 485.38L357.04 484.44H360.14L358.86 485.38Z" fill="#494949"/>
<path d="M367.15 486.95L368.43 486.01V481.61L367.15 482.55Z" fill="#3d3d3d"/>
<rect x="364.05" y="482.55" width="3.1" height="4.40" fill="#636363"/>
<rect x="364.85" y="482.55" width="1.0" height="4.40" fill="#828282"/>
<path d="M364.05 482.55L365.33 481.61H368.43L367.15 482.55Z" fill="#494949"/>
<path d="M375.44 486.95L376.72 486.01V450.84L375.44 451.78Z" fill="#3d3d3d"/>
<rect x="372.34" y="451.78" width="3.1" height="35.17" fill="#636363"/>
<rect x="373.14" y="451.78" width="1.0" height="35.17" fill="#828282"/>
<path d="M372.34 451.78L373.62 450.84H376.72L375.44 451.78Z" fill="#494949"/>
<path d="M74.09 489.09L75.37 488.15V463.44L74.09 464.38Z" fill="#612c08"/>
<rect x="70.99" y="464.38" width="3.1" height="24.71" fill="#9E480E"/>
<rect x="71.79" y="464.38" width="1.0" height="24.71" fill="#b16c3e"/>
<path d="M70.99 464.38L72.27 463.44H75.37L74.09 464.38Z" fill="#74350a"/>
<path d="M82.38 489.09L83.66 488.15V487.71L82.38 488.65Z" fill="#612c08"/>
<rect x="79.28" y="488.65" width="3.1" height="0.44" fill="#9E480E"/>
<path d="M79.28 488.65L80.56 487.71H83.66L82.38 488.65Z" fill="#74350a"/>
<path d="M90.67 489.09L91.95 488.15V487.52L90.67 488.47Z" fill="#612c08"/>
<rect x="87.57" y="488.47" width="3.1" height="0.63" fill="#9E480E"/>
<path d="M87.57 488.47L88.85 487.52H91.95L90.67 488.47Z" fill="#74350a"/>
<path d="M98.96 489.09L100.24 488.15V487.84L98.96 488.78Z" fill="#612c08"/>
<rect x="95.86" y="488.78" width="3.1" height="0.31" fill="#9E480E"/>
<path d="M95.86 488.78L97.14 487.84H100.24L98.96 488.78Z" fill="#74350a"/>
<path d="M107.25 489.09L108.53 488.15V487.84L107.25 488.78Z" fill="#612c08"/>
<rect x="104.15" y="488.78" width="3.1" height="0.31" fill="#9E480E"/>
<path d="M104.15 488.78L105.43 487.84H108.53L107.25 488.78Z" fill="#74350a"/>
<path d="M115.54 489.09L116.82 488.15V486.89L115.54 487.84Z" fill="#612c08"/>
<rect x="112.44" y="487.84" width="3.1" height="1.26" fill="#9E480E"/>
<path d="M112.44 487.84L113.72 486.89H116.82L115.54 487.84Z" fill="#74350a"/>
<path d="M123.83 489.09L125.11 488.15V487.52L123.83 488.47Z" fill="#612c08"/>
<rect x="120.73" y="488.47" width="3.1" height="0.63" fill="#9E480E"/>
<path d="M120.73 488.47L122.01 487.52H125.11L123.83 488.47Z" fill="#74350a"/>
<path d="M132.12 489.09L133.40 488.15V423.56L132.12 424.50Z" fill="#612c08"/>
<rect x="129.02" y="424.50" width="3.1" height="64.59" fill="#9E480E"/>
<rect x="129.82" y="424.50" width="1.0" height="64.59" fill="#b16c3e"/>
<path d="M129.02 424.50L130.30 423.56H133.40L132.12 424.50Z" fill="#74350a"/>
<path d="M140.41 489.09L141.69 488.15V487.84L140.41 488.78Z" fill="#612c08"/>
<rect x="137.31" y="488.78" width="3.1" height="0.31" fill="#9E480E"/>
<path d="M137.31 488.78L138.59 487.84H141.69L140.41 488.78Z" fill="#74350a"/>
<path d="M148.70 489.09L149.98 488.15V487.71L148.70 488.65Z" fill="#612c08"/>
<rect x="145.60" y="488.65" width="3.1" height="0.44" fill="#9E480E"/>
<path d="M145.60 488.65L146.88 487.71H149.98L148.70 488.65Z" fill="#74350a"/>
<path d="M156.99 489.09L158.27 488.15V487.59L156.99 488.53Z" fill="#612c08"/>
<rect x="153.89" y="488.53" width="3.1" height="0.57" fill="#9E480E"/>
<path d="M153.89 488.53L155.17 487.59H158.27L156.99 488.53Z" fill="#74350a"/>
<path d="M165.28 489.09L166.56 488.15V487.71L165.28 488.65Z" fill="#612c08"/>
<rect x="162.18" y="488.65" width="3.1" height="0.44" fill="#9E480E"/>
<path d="M162.18 488.65L163.46 487.71H166.56L165.28 488.65Z" fill="#74350a"/>
<path d="M173.57 489.09L174.85 488.15V487.59L173.57 488.53Z" fill="#612c08"/>
<rect x="170.47" y="488.53" width="3.1" height="0.57" fill="#9E480E"/>
<path d="M170.47 488.53L171.75 487.59H174.85L173.57 488.53Z" fill="#74350a"/>
<path d="M181.86 489.09L183.14 488.15V487.40L181.86 488.34Z" fill="#612c08"/>
<rect x="178.76" y="488.34" width="3.1" height="0.75" fill="#9E480E"/>
<path d="M178.76 488.34L180.04 487.40H183.14L181.86 488.34Z" fill="#74350a"/>
<path d="M190.15 489.09L191.43 488.15V479.36L190.15 480.30Z" fill="#612c08"/>
<rect x="187.05" y="480.30" width="3.1" height="8.79" fill="#9E480E"/>
<rect x="187.85" y="480.30" width="1.0" height="8.79" fill="#b16c3e"/>
<path d="M187.05 480.30L188.33 479.36H191.43L190.15 480.30Z" fill="#74350a"/>
<path d="M198.44 489.09L199.72 488.15V474.02L198.44 474.96Z" fill="#612c08"/>
<rect x="195.34" y="474.96" width="3.1" height="14.13" fill="#9E480E"/>
<rect x="196.14" y="474.96" width="1.0" height="14.13" fill="#b16c3e"/>
<path d="M195.34 474.96L196.62 474.02H199.72L198.44 474.96Z" fill="#74350a"/>
<path d="M206.73 489.09L208.01 488.15V473.71L206.73 474.65Z" fill="#612c08"/>
<rect x="203.63" y="474.65" width="3.1" height="14.44" fill="#9E480E"/>
<rect x="204.43" y="474.65" width="1.0" height="14.44" fill="#b16c3e"/>
<path d="M203.63 474.65L204.91 473.71H208.01L206.73 474.65Z" fill="#74350a"/>
<path d="M215.02 489.09L216.30 488.15V484.07L215.02 485.01Z" fill="#612c08"/>
<rect x="211.92" y="485.01" width="3.1" height="4.08" fill="#9E480E"/>
<rect x="212.72" y="485.01" width="1.0" height="4.08" fill="#b16c3e"/>
<path d="M211.92 485.01L213.20 484.07H216.30L215.02 485.01Z" fill="#74350a"/>
<path d="M223.31 489.09L224.59 488.15V486.89L223.31 487.84Z" fill="#612c08"/>
<rect x="220.21" y="487.84" width="3.1" height="1.26" fill="#9E480E"/>
<path d="M220.21 487.84L221.49 486.89H224.59L223.31 487.84Z" fill="#74350a"/>
<path d="M231.60 489.09L232.88 488.15V487.84L231.60 488.78Z" fill="#612c08"/>
<rect x="228.50" y="488.78" width="3.1" height="0.31" fill="#9E480E"/>
<path d="M228.50 488.78L229.78 487.84H232.88L231.60 488.78Z" fill="#74350a"/>
<path d="M239.89 489.09L241.17 488.15V487.59L239.89 488.53Z" fill="#612c08"/>
<rect x="236.79" y="488.53" width="3.1" height="0.57" fill="#9E480E"/>
<path d="M236.79 488.53L238.07 487.59H241.17L239.89 488.53Z" fill="#74350a"/>
<path d="M248.18 489.09L249.46 488.15V487.59L248.18 488.53Z" fill="#612c08"/>
<rect x="245.08" y="488.53" width="3.1" height="0.57" fill="#9E480E"/>
<path d="M245.08 488.53L246.36 487.59H249.46L248.18 488.53Z" fill="#74350a"/>
<path d="M256.47 489.09L257.75 488.15V469.15L256.47 470.10Z" fill="#612c08"/>
<rect x="253.37" y="470.10" width="3.1" height="19.00" fill="#9E480E"/>
<rect x="254.17" y="470.10" width="1.0" height="19.00" fill="#b16c3e"/>
<path d="M253.37 470.10L254.65 469.15H257.75L256.47 470.10Z" fill="#74350a"/>
<path d="M264.76 489.09L266.04 488.15V487.21L264.76 488.15Z" fill="#612c08"/>
<rect x="261.66" y="488.15" width="3.1" height="0.94" fill="#9E480E"/>
<path d="M261.66 488.15L262.94 487.21H266.04L264.76 488.15Z" fill="#74350a"/>
<path d="M273.05 489.09L274.33 488.15V487.84L273.05 488.78Z" fill="#612c08"/>
<rect x="269.95" y="488.78" width="3.1" height="0.31" fill="#9E480E"/>
<path d="M269.95 488.78L271.23 487.84H274.33L273.05 488.78Z" fill="#74350a"/>
<path d="M281.34 489.09L282.62 488.15V487.40L281.34 488.34Z" fill="#612c08"/>
<rect x="278.24" y="488.34" width="3.1" height="0.75" fill="#9E480E"/>
<path d="M278.24 488.34L279.52 487.40H282.62L281.34 488.34Z" fill="#74350a"/>
<path d="M289.63 489.09L290.91 488.15V487.40L289.63 488.34Z" fill="#612c08"/>
<rect x="286.53" y="488.34" width="3.1" height="0.75" fill="#9E480E"/>
<path d="M286.53 488.34L287.81 487.40H290.91L289.63 488.34Z" fill="#74350a"/>
<path d="M297.92 489.09L299.20 488.15V487.84L297.92 488.78Z" fill="#612c08"/>
<rect x="294.82" y="488.78" width="3.1" height="0.31" fill="#9E480E"/>
<path d="M294.82 488.78L296.10 487.84H299.20L297.92 488.78Z" fill="#74350a"/>
<path d="M306.21 489.09L307.49 488.15V486.27L306.21 487.21Z" fill="#612c08"/>
<rect x="303.11" y="487.21" width="3.1" height="1.88" fill="#9E480E"/>
<path d="M303.11 487.21L304.39 486.27H307.49L306.21 487.21Z" fill="#74350a"/>
<path d="M314.50 489.09L315.78 488.15V374.64L314.50 375.58Z" fill="#612c08"/>
<rect x="311.40" y="375.58" width="3.1" height="113.51" fill="#9E480E"/>
<rect x="312.20" y="375.58" width="1.0" height="113.51" fill="#b16c3e"/>
<path d="M311.40 375.58L312.68 374.64H315.78L314.50 375.58Z" fill="#74350a"/>
<path d="M322.79 489.09L324.07 488.15V487.84L322.79 488.78Z" fill="#612c08"/>
<rect x="319.69" y="488.78" width="3.1" height="0.31" fill="#9E480E"/>
<path d="M319.69 488.78L320.97 487.84H324.07L322.79 488.78Z" fill="#74350a"/>
<path d="M331.08 489.09L332.36 488.15V487.84L331.08 488.78Z" fill="#612c08"/>
<rect x="327.98" y="488.78" width="3.1" height="0.31" fill="#9E480E"/>
<path d="M327.98 488.78L329.26 487.84H332.36L331.08 488.78Z" fill="#74350a"/>
<path d="M339.37 489.09L340.65 488.15V487.59L339.37 488.53Z" fill="#612c08"/>
<rect x="336.27" y="488.53" width="3.1" height="0.57" fill="#9E480E"/>
<path d="M336.27 488.53L337.55 487.59H340.65L339.37 488.53Z" fill="#74350a"/>
<path d="M347.66 489.09L348.94 488.15V466.48L347.66 467.43Z" fill="#612c08"/>
<rect x="344.56" y="467.43" width="3.1" height="21.67" fill="#9E480E"/>
<rect x="345.36" y="467.43" width="1.0" height="21.67" fill="#b16c3e"/>
<path d="M344.56 467.43L345.84 466.48H348.94L347.66 467.43Z" fill="#74350a"/>
<path d="M355.95 489.09L357.23 488.15V486.58L355.95 487.52Z" fill="#612c08"/>
<rect x="352.85" y="487.52" width="3.1" height="1.57" fill="#9E480E"/>
<path d="M352.85 487.52L354.13 486.58H357.23L355.95 487.52Z" fill="#74350a"/>
<path d="M364.24 489.09L365.52 488.15V483.44L364.24 484.38Z" fill="#612c08"/>
<rect x="361.14" y="484.38" width="3.1" height="4.71" fill="#9E480E"/>
<rect x="361.94" y="484.38" width="1.0" height="4.71" fill="#b16c3e"/>
<path d="M361.14 484.38L362.42 483.44H365.52L364.24 484.38Z" fill="#74350a"/>
<path d="M372.53 489.09L373.81 488.15V449.84L372.53 450.79Z" fill="#612c08"/>
<rect x="369.43" y="450.79" width="3.1" height="38.31" fill="#9E480E"/>
<rect x="370.23" y="450.79" width="1.0" height="38.31" fill="#b16c3e"/>
<path d="M369.43 450.79L370.71 449.84H373.81L372.53 450.79Z" fill="#74350a"/>
<path d="M71.17 491.24L72.46 490.29V471.61L71.17 472.55Z" fill="#172a4a"/>
<rect x="68.08" y="472.55" width="3.1" height="18.68" fill="#264478"/>
<rect x="68.88" y="472.55" width="1.0" height="18.68" fill="#516993"/>
<path d="M68.08 472.55L69.36 471.61H72.46L71.17 472.55Z" fill="#1c3258"/>
<path d="M79.47 491.24L80.75 490.29V489.98L79.47 490.92Z" fill="#172a4a"/>
<rect x="76.37" y="490.92" width="3.1" height="0.31" fill="#264478"/>
<path d="M76.37 490.92L77.65 489.98H80.75L79.47 490.92Z" fill="#1c3258"/>
<path d="M87.75 491.24L89.04 490.29V489.67L87.75 490.61Z" fill="#172a4a"/>
<rect x="84.66" y="490.61" width="3.1" height="0.63" fill="#264478"/>
<path d="M84.66 490.61L85.94 489.67H89.04L87.75 490.61Z" fill="#1c3258"/>
<path d="M96.04 491.24L97.33 490.29V489.73L96.04 490.67Z" fill="#172a4a"/>
<rect x="92.94" y="490.67" width="3.1" height="0.57" fill="#264478"/>
<path d="M92.94 490.67L94.23 489.73H97.33L96.04 490.67Z" fill="#1c3258"/>
<path d="M104.33 491.24L105.62 490.29V489.98L104.33 490.92Z" fill="#172a4a"/>
<rect x="101.23" y="490.92" width="3.1" height="0.31" fill="#264478"/>
<path d="M101.23 490.92L102.52 489.98H105.62L104.33 490.92Z" fill="#1c3258"/>
<path d="M112.62 491.24L113.91 490.29V488.41L112.62 489.35Z" fill="#172a4a"/>
<rect x="109.52" y="489.35" width="3.1" height="1.88" fill="#264478"/>
<path d="M109.52 489.35L110.81 488.41H113.91L112.62 489.35Z" fill="#1c3258"/>
<path d="M120.91 491.24L122.20 490.29V489.67L120.91 490.61Z" fill="#172a4a"/>
<rect x="117.81" y="490.61" width="3.1" height="0.63" fill="#264478"/>
<path d="M117.81 490.61L119.10 489.67H122.20L120.91 490.61Z" fill="#1c3258"/>
<path d="M129.20 491.24L130.49 490.29V454.18L129.20 455.13Z" fill="#172a4a"/>
<rect x="126.10" y="455.13" width="3.1" height="36.11" fill="#264478"/>
<rect x="126.90" y="455.13" width="1.0" height="36.11" fill="#516993"/>
<path d="M126.10 455.13L127.39 454.18H130.49L129.20 455.13Z" fill="#1c3258"/>
<path d="M137.49 491.24L138.78 490.29V489.85L137.49 490.80Z" fill="#172a4a"/>
<rect x="134.39" y="490.80" width="3.1" height="0.44" fill="#264478"/>
<path d="M134.39 490.80L135.68 489.85H138.78L137.49 490.80Z" fill="#1c3258"/>
<path d="M145.78 491.24L147.07 490.29V489.54L145.78 490.48Z" fill="#172a4a"/>
<rect x="142.68" y="490.48" width="3.1" height="0.75" fill="#264478"/>
<path d="M142.68 490.48L143.97 489.54H147.07L145.78 490.48Z" fill="#1c3258"/>
<path d="M154.07 491.24L155.36 490.29V489.73L154.07 490.67Z" fill="#172a4a"/>
<rect x="150.97" y="490.67" width="3.1" height="0.57" fill="#264478"/>
<path d="M150.97 490.67L152.26 489.73H155.36L154.07 490.67Z" fill="#1c3258"/>
<path d="M162.36 491.24L163.65 490.29V489.73L162.36 490.67Z" fill="#172a4a"/>
<rect x="159.26" y="490.67" width="3.1" height="0.57" fill="#264478"/>
<path d="M159.26 490.67L160.55 489.73H163.65L162.36 490.67Z" fill="#1c3258"/>
<path d="M170.65 491.24L171.94 490.29V489.54L170.65 490.48Z" fill="#172a4a"/>
<rect x="167.55" y="490.48" width="3.1" height="0.75" fill="#264478"/>
<path d="M167.55 490.48L168.84 489.54H171.94L170.65 490.48Z" fill="#1c3258"/>
<path d="M178.94 491.24L180.23 490.29V489.98L178.94 490.92Z" fill="#172a4a"/>
<rect x="175.84" y="490.92" width="3.1" height="0.31" fill="#264478"/>
<path d="M175.84 490.92L177.13 489.98H180.23L178.94 490.92Z" fill="#1c3258"/>
<path d="M187.23 491.24L188.52 490.29V483.39L187.23 484.33Z" fill="#172a4a"/>
<rect x="184.13" y="484.33" width="3.1" height="6.91" fill="#264478"/>
<rect x="184.94" y="484.33" width="1.0" height="6.91" fill="#516993"/>
<path d="M184.13 484.33L185.42 483.39H188.52L187.23 484.33Z" fill="#1c3258"/>
<path d="M195.52 491.24L196.81 490.29V478.36L195.52 479.31Z" fill="#172a4a"/>
<rect x="192.42" y="479.31" width="3.1" height="11.93" fill="#264478"/>
<rect x="193.22" y="479.31" width="1.0" height="11.93" fill="#516993"/>
<path d="M192.42 479.31L193.71 478.36H196.81L195.52 479.31Z" fill="#1c3258"/>
<path d="M203.81 491.24L205.10 490.29V477.11L203.81 478.05Z" fill="#172a4a"/>
<rect x="200.71" y="478.05" width="3.1" height="13.19" fill="#264478"/>
<rect x="201.51" y="478.05" width="1.0" height="13.19" fill="#516993"/>
<path d="M200.71 478.05L202.00 477.11H205.10L203.81 478.05Z" fill="#1c3258"/>
<path d="M212.10 491.24L213.39 490.29V486.53L212.10 487.47Z" fill="#172a4a"/>
<rect x="209.00" y="487.47" width="3.1" height="3.77" fill="#264478"/>
<rect x="209.80" y="487.47" width="1.0" height="3.77" fill="#516993"/>
<path d="M209.00 487.47L210.29 486.53H213.39L212.10 487.47Z" fill="#1c3258"/>
<path d="M220.39 491.24L221.68 490.29V489.04L220.39 489.98Z" fill="#172a4a"/>
<rect x="217.29" y="489.98" width="3.1" height="1.26" fill="#264478"/>
<path d="M217.29 489.98L218.58 489.04H221.68L220.39 489.98Z" fill="#1c3258"/>
<path d="M228.68 491.24L229.97 490.29V489.85L228.68 490.80Z" fill="#172a4a"/>
<rect x="225.58" y="490.80" width="3.1" height="0.44" fill="#264478"/>
<path d="M225.58 490.80L226.87 489.85H229.97L228.68 490.80Z" fill="#1c3258"/>
<path d="M236.97 491.24L238.26 490.29V489.98L236.97 490.92Z" fill="#172a4a"/>
<rect x="233.87" y="490.92" width="3.1" height="0.31" fill="#264478"/>
<path d="M233.87 490.92L235.16 489.98H238.26L236.97 490.92Z" fill="#1c3258"/>
<path d="M245.26 491.24L246.55 490.29V489.85L245.26 490.80Z" fill="#172a4a"/>
<rect x="242.16" y="490.80" width="3.1" height="0.44" fill="#264478"/>
<path d="M242.16 490.80L243.45 489.85H246.55L245.26 490.80Z" fill="#1c3258"/>
<path d="M253.55 491.24L254.84 490.29V475.22L253.55 476.17Z" fill="#172a4a"/>
<rect x="250.45" y="476.17" width="3.1" height="15.07" fill="#264478"/>
<rect x="251.25" y="476.17" width="1.0" height="15.07" fill="#516993"/>
<path d="M250.45 476.17L251.74 475.22H254.84L253.55 476.17Z" fill="#1c3258"/>
<path d="M261.85 491.24L263.13 490.29V489.35L261.85 490.30Z" fill="#172a4a"/>
<rect x="258.75" y="490.30" width="3.1" height="0.94" fill="#264478"/>
<path d="M258.75 490.30L260.03 489.35H263.13L261.85 490.30Z" fill="#1c3258"/>
<path d="M270.13 491.24L271.42 490.29V489.98L270.13 490.92Z" fill="#172a4a"/>
<rect x="267.03" y="490.92" width="3.1" height="0.31" fill="#264478"/>
<path d="M267.03 490.92L268.32 489.98H271.42L270.13 490.92Z" fill="#1c3258"/>
<path d="M278.43 491.24L279.71 490.29V489.85L278.43 490.80Z" fill="#172a4a"/>
<rect x="275.32" y="490.80" width="3.1" height="0.44" fill="#264478"/>
<path d="M275.32 490.80L276.61 489.85H279.71L278.43 490.80Z" fill="#1c3258"/>
<path d="M286.72 491.24L288.00 490.29V489.98L286.72 490.92Z" fill="#172a4a"/>
<rect x="283.62" y="490.92" width="3.1" height="0.31" fill="#264478"/>
<path d="M283.62 490.92L284.90 489.98H288.00L286.72 490.92Z" fill="#1c3258"/>
<path d="M295.01 491.24L296.29 490.29V489.85L295.01 490.80Z" fill="#172a4a"/>
<rect x="291.91" y="490.80" width="3.1" height="0.44" fill="#264478"/>
<path d="M291.91 490.80L293.19 489.85H296.29L295.01 490.80Z" fill="#1c3258"/>
<path d="M303.30 491.24L304.58 490.29V488.41L303.30 489.35Z" fill="#172a4a"/>
<rect x="300.20" y="489.35" width="3.1" height="1.88" fill="#264478"/>
<path d="M300.20 489.35L301.48 488.41H304.58L303.30 489.35Z" fill="#1c3258"/>
<path d="M311.59 491.24L312.87 490.29V379.45L311.59 380.40Z" fill="#172a4a"/>
<rect x="308.49" y="380.40" width="3.1" height="110.84" fill="#264478"/>
<rect x="309.29" y="380.40" width="1.0" height="110.84" fill="#516993"/>
<path d="M308.49 380.40L309.77 379.45H312.87L311.59 380.40Z" fill="#1c3258"/>
<path d="M319.88 491.24L321.16 490.29V489.54L319.88 490.48Z" fill="#172a4a"/>
<rect x="316.78" y="490.48" width="3.1" height="0.75" fill="#264478"/>
<path d="M316.78 490.48L318.06 489.54H321.16L319.88 490.48Z" fill="#1c3258"/>
<path d="M328.17 491.24L329.45 490.29V489.73L328.17 490.67Z" fill="#172a4a"/>
<rect x="325.06" y="490.67" width="3.1" height="0.57" fill="#264478"/>
<path d="M325.06 490.67L326.35 489.73H329.45L328.17 490.67Z" fill="#1c3258"/>
<path d="M336.46 491.24L337.74 490.29V489.54L336.46 490.48Z" fill="#172a4a"/>
<rect x="333.36" y="490.48" width="3.1" height="0.75" fill="#264478"/>
<path d="M333.36 490.48L334.64 489.54H337.74L336.46 490.48Z" fill="#1c3258"/>
<path d="M344.75 491.24L346.03 490.29V468.79L344.75 469.73Z" fill="#172a4a"/>
<rect x="341.65" y="469.73" width="3.1" height="21.51" fill="#264478"/>
<rect x="342.45" y="469.73" width="1.0" height="21.51" fill="#516993"/>
<path d="M341.65 469.73L342.93 468.79H346.03L344.75 469.73Z" fill="#1c3258"/>
<path d="M353.04 491.24L354.32 490.29V488.72L353.04 489.67Z" fill="#172a4a"/>
<rect x="349.94" y="489.67" width="3.1" height="1.57" fill="#264478"/>
<path d="M349.94 489.67L351.22 488.72H354.32L353.04 489.67Z" fill="#1c3258"/>
<path d="M361.33 491.24L362.61 490.29V485.90L361.33 486.84Z" fill="#172a4a"/>
<rect x="358.23" y="486.84" width="3.1" height="4.40" fill="#264478"/>
<rect x="359.03" y="486.84" width="1.0" height="4.40" fill="#516993"/>
<path d="M358.23 486.84L359.51 485.90H362.61L361.33 486.84Z" fill="#1c3258"/>
<path d="M369.62 491.24L370.90 490.29V457.64L369.62 458.58Z" fill="#172a4a"/>
<rect x="366.51" y="458.58" width="3.1" height="32.66" fill="#264478"/>
<rect x="367.31" y="458.58" width="1.0" height="32.66" fill="#516993"/>
<path d="M366.51 458.58L367.80 457.64H370.90L369.62 458.58Z" fill="#1c3258"/>
<path d="M68.26 493.38L69.54 492.44V470.83L68.26 471.78Z" fill="#456b2c"/>
<rect x="65.16" y="471.78" width="3.1" height="21.60" fill="#70AD47"/>
<rect x="65.96" y="471.78" width="1.0" height="21.60" fill="#8cbd6b"/>
<path d="M65.16 471.78L66.44 470.83H69.54L68.26 471.78Z" fill="#528034"/>
<path d="M76.55 493.38L77.83 492.44V491.68L76.55 492.63Z" fill="#456b2c"/>
<rect x="73.45" y="492.63" width="3.1" height="0.75" fill="#70AD47"/>
<path d="M73.45 492.63L74.73 491.68H77.83L76.55 492.63Z" fill="#528034"/>
<path d="M84.84 493.38L86.12 492.44V491.50L84.84 492.44Z" fill="#456b2c"/>
<rect x="81.74" y="492.44" width="3.1" height="0.94" fill="#70AD47"/>
<path d="M81.74 492.44L83.02 491.50H86.12L84.84 492.44Z" fill="#528034"/>
<path d="M93.13 493.38L94.41 492.44V491.68L93.13 492.63Z" fill="#456b2c"/>
<rect x="90.03" y="492.63" width="3.1" height="0.75" fill="#70AD47"/>
<path d="M90.03 492.63L91.31 491.68H94.41L93.13 492.63Z" fill="#528034"/>
<path d="M101.42 493.38L102.70 492.44V491.68L101.42 492.63Z" fill="#456b2c"/>
<rect x="98.32" y="492.63" width="3.1" height="0.75" fill="#70AD47"/>
<path d="M98.32 492.63L99.60 491.68H102.70L101.42 492.63Z" fill="#528034"/>
<path d="M109.71 493.38L110.99 492.44V489.30L109.71 490.24Z" fill="#456b2c"/>
<rect x="106.61" y="490.24" width="3.1" height="3.14" fill="#70AD47"/>
<rect x="107.41" y="490.24" width="1.0" height="3.14" fill="#8cbd6b"/>
<path d="M106.61 490.24L107.89 489.30H110.99L109.71 490.24Z" fill="#528034"/>
<path d="M118.00 493.38L119.28 492.44V491.50L118.00 492.44Z" fill="#456b2c"/>
<rect x="114.90" y="492.44" width="3.1" height="0.94" fill="#70AD47"/>
<path d="M114.90 492.44L116.18 491.50H119.28L118.00 492.44Z" fill="#528034"/>
<path d="M126.29 493.38L127.57 492.44V460.10L126.29 461.04Z" fill="#456b2c"/>
<rect x="123.19" y="461.04" width="3.1" height="32.34" fill="#70AD47"/>
<rect x="123.99" y="461.04" width="1.0" height="32.34" fill="#8cbd6b"/>
<path d="M123.19 461.04L124.47 460.10H127.57L126.29 461.04Z" fill="#528034"/>
<path d="M134.58 493.38L135.86 492.44V492.12L134.58 493.07Z" fill="#456b2c"/>
<rect x="131.48" y="493.07" width="3.1" height="0.31" fill="#70AD47"/>
<path d="M131.48 493.07L132.76 492.12H135.86L134.58 493.07Z" fill="#528034"/>
<path d="M142.87 493.38L144.15 492.44V492.00L142.87 492.94Z" fill="#456b2c"/>
<rect x="139.77" y="492.94" width="3.1" height="0.44" fill="#70AD47"/>
<path d="M139.77 492.94L141.05 492.00H144.15L142.87 492.94Z" fill="#528034"/>
<path d="M151.16 493.38L152.44 492.44V492.12L151.16 493.07Z" fill="#456b2c"/>
<rect x="148.06" y="493.07" width="3.1" height="0.31" fill="#70AD47"/>
<path d="M148.06 493.07L149.34 492.12H152.44L151.16 493.07Z" fill="#528034"/>
<path d="M159.45 493.38L160.73 492.44V492.00L159.45 492.94Z" fill="#456b2c"/>
<rect x="156.35" y="492.94" width="3.1" height="0.44" fill="#70AD47"/>
<path d="M156.35 492.94L157.63 492.00H160.73L159.45 492.94Z" fill="#528034"/>
<path d="M167.74 493.38L169.02 492.44V491.87L167.74 492.82Z" fill="#456b2c"/>
<rect x="164.64" y="492.82" width="3.1" height="0.57" fill="#70AD47"/>
<path d="M164.64 492.82L165.92 491.87H169.02L167.74 492.82Z" fill="#528034"/>
<path d="M176.03 493.38L177.31 492.44V492.12L176.03 493.07Z" fill="#456b2c"/>
<rect x="172.93" y="493.07" width="3.1" height="0.31" fill="#70AD47"/>
<path d="M172.93 493.07L174.21 492.12H177.31L176.03 493.07Z" fill="#528034"/>
<path d="M184.32 493.38L185.60 492.44V484.59L184.32 485.53Z" fill="#456b2c"/>
<rect x="181.22" y="485.53" width="3.1" height="7.85" fill="#70AD47"/>
<rect x="182.02" y="485.53" width="1.0" height="7.85" fill="#8cbd6b"/>
<path d="M181.22 485.53L182.50 484.59H185.60L184.32 485.53Z" fill="#528034"/>
<path d="M192.61 493.38L193.89 492.44V479.25L192.61 480.19Z" fill="#456b2c"/>
<rect x="189.51" y="480.19" width="3.1" height="13.19" fill="#70AD47"/>
<rect x="190.31" y="480.19" width="1.0" height="13.19" fill="#8cbd6b"/>
<path d="M189.51 480.19L190.79 479.25H193.89L192.61 480.19Z" fill="#528034"/>
<path d="M200.90 493.38L202.18 492.44V478.31L200.90 479.25Z" fill="#456b2c"/>
<rect x="197.80" y="479.25" width="3.1" height="14.13" fill="#70AD47"/>
<rect x="198.60" y="479.25" width="1.0" height="14.13" fill="#8cbd6b"/>
<path d="M197.80 479.25L199.08 478.31H202.18L200.90 479.25Z" fill="#528034"/>
<path d="M209.19 493.38L210.47 492.44V487.73L209.19 488.67Z" fill="#456b2c"/>
<rect x="206.09" y="488.67" width="3.1" height="4.71" fill="#70AD47"/>
<rect x="206.89" y="488.67" width="1.0" height="4.71" fill="#8cbd6b"/>
<path d="M206.09 488.67L207.37 487.73H210.47L209.19 488.67Z" fill="#528034"/>
<path d="M217.48 493.38L218.76 492.44V490.87L217.48 491.81Z" fill="#456b2c"/>
<rect x="214.38" y="491.81" width="3.1" height="1.57" fill="#70AD47"/>
<path d="M214.38 491.81L215.66 490.87H218.76L217.48 491.81Z" fill="#528034"/>
<path d="M225.77 493.38L227.05 492.44V491.68L225.77 492.63Z" fill="#456b2c"/>
<rect x="222.67" y="492.63" width="3.1" height="0.75" fill="#70AD47"/>
<path d="M222.67 492.63L223.95 491.68H227.05L225.77 492.63Z" fill="#528034"/>
<path d="M234.06 493.38L235.34 492.44V491.87L234.06 492.82Z" fill="#456b2c"/>
<rect x="230.96" y="492.82" width="3.1" height="0.57" fill="#70AD47"/>
<path d="M230.96 492.82L232.24 491.87H235.34L234.06 492.82Z" fill="#528034"/>
<path d="M242.35 493.38L243.63 492.44V492.12L242.35 493.07Z" fill="#456b2c"/>
<rect x="239.25" y="493.07" width="3.1" height="0.31" fill="#70AD47"/>
<path d="M239.25 493.07L240.53 492.12H243.63L242.35 493.07Z" fill="#528034"/>
<path d="M250.64 493.38L251.92 492.44V475.80L250.64 476.74Z" fill="#456b2c"/>
<rect x="247.54" y="476.74" width="3.1" height="16.64" fill="#70AD47"/>
<rect x="248.34" y="476.74" width="1.0" height="16.64" fill="#8cbd6b"/>
<path d="M247.54 476.74L248.82 475.80H251.92L250.64 476.74Z" fill="#528034"/>
<path d="M258.93 493.38L260.21 492.44V491.50L258.93 492.44Z" fill="#456b2c"/>
<rect x="255.83" y="492.44" width="3.1" height="0.94" fill="#70AD47"/>
<path d="M255.83 492.44L257.11 491.50H260.21L258.93 492.44Z" fill="#528034"/>
<path d="M267.22 493.38L268.50 492.44V491.87L267.22 492.82Z" fill="#456b2c"/>
<rect x="264.12" y="492.82" width="3.1" height="0.57" fill="#70AD47"/>
<path d="M264.12 492.82L265.40 491.87H268.50L267.22 492.82Z" fill="#528034"/>
<path d="M275.51 493.38L276.79 492.44V492.00L275.51 492.94Z" fill="#456b2c"/>
<rect x="272.41" y="492.94" width="3.1" height="0.44" fill="#70AD47"/>
<path d="M272.41 492.94L273.69 492.00H276.79L275.51 492.94Z" fill="#528034"/>
<path d="M283.80 493.38L285.08 492.44V491.87L283.80 492.82Z" fill="#456b2c"/>
<rect x="280.70" y="492.82" width="3.1" height="0.57" fill="#70AD47"/>
<path d="M280.70 492.82L281.98 491.87H285.08L283.80 492.82Z" fill="#528034"/>
<path d="M292.09 493.38L293.37 492.44V491.87L292.09 492.82Z" fill="#456b2c"/>
<rect x="288.99" y="492.82" width="3.1" height="0.57" fill="#70AD47"/>
<path d="M288.99 492.82L290.27 491.87H293.37L292.09 492.82Z" fill="#528034"/>
<path d="M300.38 493.38L301.66 492.44V489.93L300.38 490.87Z" fill="#456b2c"/>
<rect x="297.28" y="490.87" width="3.1" height="2.51" fill="#70AD47"/>
<path d="M297.28 490.87L298.56 489.93H301.66L300.38 490.87Z" fill="#528034"/>
<path d="M308.67 493.38L309.95 492.44V376.57L308.67 377.52Z" fill="#456b2c"/>
<rect x="305.57" y="377.52" width="3.1" height="115.87" fill="#70AD47"/>
<rect x="306.37" y="377.52" width="1.0" height="115.87" fill="#8cbd6b"/>
<path d="M305.57 377.52L306.85 376.57H309.95L308.67 377.52Z" fill="#528034"/>
<path d="M316.96 493.38L318.24 492.44V492.12L316.96 493.07Z" fill="#456b2c"/>
<rect x="313.86" y="493.07" width="3.1" height="0.31" fill="#70AD47"/>
<path d="M313.86 493.07L315.14 492.12H318.24L316.96 493.07Z" fill="#528034"/>
<path d="M325.25 493.38L326.53 492.44V491.68L325.25 492.63Z" fill="#456b2c"/>
<rect x="322.15" y="492.63" width="3.1" height="0.75" fill="#70AD47"/>
<path d="M322.15 492.63L323.43 491.68H326.53L325.25 492.63Z" fill="#528034"/>
<path d="M333.54 493.38L334.82 492.44V492.00L333.54 492.94Z" fill="#456b2c"/>
<rect x="330.44" y="492.94" width="3.1" height="0.44" fill="#70AD47"/>
<path d="M330.44 492.94L331.72 492.00H334.82L333.54 492.94Z" fill="#528034"/>
<path d="M341.83 493.38L343.11 492.44V471.71L341.83 472.66Z" fill="#456b2c"/>
<rect x="338.73" y="472.66" width="3.1" height="20.72" fill="#70AD47"/>
<rect x="339.53" y="472.66" width="1.0" height="20.72" fill="#8cbd6b"/>
<path d="M338.73 472.66L340.01 471.71H343.11L341.83 472.66Z" fill="#528034"/>
<path d="M350.12 493.38L351.40 492.44V490.87L350.12 491.81Z" fill="#456b2c"/>
<rect x="347.02" y="491.81" width="3.1" height="1.57" fill="#70AD47"/>
<path d="M347.02 491.81L348.30 490.87H351.40L350.12 491.81Z" fill="#528034"/>
<path d="M358.41 493.38L359.69 492.44V488.04L358.41 488.99Z" fill="#456b2c"/>
<rect x="355.31" y="488.99" width="3.1" height="4.40" fill="#70AD47"/>
<rect x="356.11" y="488.99" width="1.0" height="4.40" fill="#8cbd6b"/>
<path d="M355.31 488.99L356.59 488.04H359.69L358.41 488.99Z" fill="#528034"/>
<path d="M366.70 493.38L367.98 492.44V459.47L366.70 460.41Z" fill="#456b2c"/>
<rect x="363.60" y="460.41" width="3.1" height="32.97" fill="#70AD47"/>
<rect x="364.40" y="460.41" width="1.0" height="32.97" fill="#8cbd6b"/>
<path d="M363.60 460.41L364.88 459.47H367.98L366.70 460.41Z" fill="#528034"/>
<path d="M65.35 495.53L66.63 494.58V459.57L65.35 460.51Z" fill="#386084"/>
<rect x="62.25" y="460.51" width="3.1" height="35.01" fill="#5B9BD5"/>
<rect x="63.05" y="460.51" width="1.0" height="35.01" fill="#7bafdd"/>
<path d="M62.25 460.51L63.53 459.57H66.63L65.35 460.51Z" fill="#43729d"/>
<path d="M73.64 495.53L74.92 494.58V494.27L73.64 495.21Z" fill="#386084"/>
<rect x="70.54" y="495.21" width="3.1" height="0.31" fill="#5B9BD5"/>
<path d="M70.54 495.21L71.82 494.27H74.92L73.64 495.21Z" fill="#43729d"/>
<path d="M81.93 495.53L83.21 494.58V493.64L81.93 494.58Z" fill="#386084"/>
<rect x="78.83" y="494.58" width="3.1" height="0.94" fill="#5B9BD5"/>
<path d="M78.83 494.58L80.11 493.64H83.21L81.93 494.58Z" fill="#43729d"/>
<path d="M90.22 495.53L91.50 494.58V494.02L90.22 494.96Z" fill="#386084"/>
<rect x="87.12" y="494.96" width="3.1" height="0.57" fill="#5B9BD5"/>
<path d="M87.12 494.96L88.40 494.02H91.50L90.22 494.96Z" fill="#43729d"/>
<path d="M98.51 495.53L99.79 494.58V493.83L98.51 494.77Z" fill="#386084"/>
<rect x="95.41" y="494.77" width="3.1" height="0.75" fill="#5B9BD5"/>
<path d="M95.41 494.77L96.69 493.83H99.79L98.51 494.77Z" fill="#43729d"/>
<path d="M106.80 495.53L108.08 494.58V479.51L106.80 480.45Z" fill="#386084"/>
<rect x="103.70" y="480.45" width="3.1" height="15.07" fill="#5B9BD5"/>
<rect x="104.50" y="480.45" width="1.0" height="15.07" fill="#7bafdd"/>
<path d="M103.70 480.45L104.98 479.51H108.08L106.80 480.45Z" fill="#43729d"/>
<path d="M115.09 495.53L116.37 494.58V493.33L115.09 494.27Z" fill="#386084"/>
<rect x="111.99" y="494.27" width="3.1" height="1.26" fill="#5B9BD5"/>
<path d="M111.99 494.27L113.27 493.33H116.37L115.09 494.27Z" fill="#43729d"/>
<path d="M123.38 495.53L124.66 494.58V454.30L123.38 455.24Z" fill="#386084"/>
<rect x="120.28" y="455.24" width="3.1" height="40.29" fill="#5B9BD5"/>
<rect x="121.08" y="455.24" width="1.0" height="40.29" fill="#7bafdd"/>
<path d="M120.28 455.24L121.56 454.30H124.66L123.38 455.24Z" fill="#43729d"/>
<path d="M131.67 495.53L132.95 494.58V493.83L131.67 494.77Z" fill="#386084"/>
<rect x="128.57" y="494.77" width="3.1" height="0.75" fill="#5B9BD5"/>
<path d="M128.57 494.77L129.85 493.83H132.95L131.67 494.77Z" fill="#43729d"/>
<path d="M139.96 495.53L141.24 494.58V494.27L139.96 495.21Z" fill="#386084"/>
<rect x="136.86" y="495.21" width="3.1" height="0.31" fill="#5B9BD5"/>
<path d="M136.86 495.21L138.14 494.27H141.24L139.96 495.21Z" fill="#43729d"/>
<path d="M148.25 495.53L149.53 494.58V494.14L148.25 495.09Z" fill="#386084"/>
<rect x="145.15" y="495.09" width="3.1" height="0.44" fill="#5B9BD5"/>
<path d="M145.15 495.09L146.43 494.14H149.53L148.25 495.09Z" fill="#43729d"/>
<path d="M156.54 495.53L157.82 494.58V494.02L156.54 494.96Z" fill="#386084"/>
<rect x="153.44" y="494.96" width="3.1" height="0.57" fill="#5B9BD5"/>
<path d="M153.44 494.96L154.72 494.02H157.82L156.54 494.96Z" fill="#43729d"/>
<path d="M164.83 495.53L166.11 494.58V494.14L164.83 495.09Z" fill="#386084"/>
<rect x="161.73" y="495.09" width="3.1" height="0.44" fill="#5B9BD5"/>
<path d="M161.73 495.09L163.01 494.14H166.11L164.83 495.09Z" fill="#43729d"/>
<path d="M173.12 495.53L174.40 494.58V494.02L173.12 494.96Z" fill="#386084"/>
<rect x="170.02" y="494.96" width="3.1" height="0.57" fill="#5B9BD5"/>
<path d="M170.02 494.96L171.30 494.02H174.40L173.12 494.96Z" fill="#43729d"/>
<path d="M181.41 495.53L182.69 494.58V488.93L181.41 489.87Z" fill="#386084"/>
<rect x="178.31" y="489.87" width="3.1" height="5.65" fill="#5B9BD5"/>
<rect x="179.11" y="489.87" width="1.0" height="5.65" fill="#7bafdd"/>
<path d="M178.31 489.87L179.59 488.93H182.69L181.41 489.87Z" fill="#43729d"/>
<path d="M189.70 495.53L190.98 494.58V485.16L189.70 486.11Z" fill="#386084"/>
<rect x="186.60" y="486.11" width="3.1" height="9.42" fill="#5B9BD5"/>
<rect x="187.40" y="486.11" width="1.0" height="9.42" fill="#7bafdd"/>
<path d="M186.60 486.11L187.88 485.16H190.98L189.70 486.11Z" fill="#43729d"/>
<path d="M197.99 495.53L199.27 494.58V482.65L197.99 483.59Z" fill="#386084"/>
<rect x="194.89" y="483.59" width="3.1" height="11.93" fill="#5B9BD5"/>
<rect x="195.69" y="483.59" width="1.0" height="11.93" fill="#7bafdd"/>
<path d="M194.89 483.59L196.17 482.65H199.27L197.99 483.59Z" fill="#43729d"/>
<path d="M206.28 495.53L207.56 494.58V489.87L206.28 490.82Z" fill="#386084"/>
<rect x="203.18" y="490.82" width="3.1" height="4.71" fill="#5B9BD5"/>
<rect x="203.98" y="490.82" width="1.0" height="4.71" fill="#7bafdd"/>
<path d="M203.18 490.82L204.46 489.87H207.56L206.28 490.82Z" fill="#43729d"/>
<path d="M214.57 495.53L215.85 494.58V493.01L214.57 493.96Z" fill="#386084"/>
<rect x="211.47" y="493.96" width="3.1" height="1.57" fill="#5B9BD5"/>
<path d="M211.47 493.96L212.75 493.01H215.85L214.57 493.96Z" fill="#43729d"/>
<path d="M222.86 495.53L224.14 494.58V494.14L222.86 495.09Z" fill="#386084"/>
<rect x="219.76" y="495.09" width="3.1" height="0.44" fill="#5B9BD5"/>
<path d="M219.76 495.09L221.04 494.14H224.14L222.86 495.09Z" fill="#43729d"/>
<path d="M231.15 495.53L232.43 494.58V494.27L231.15 495.21Z" fill="#386084"/>
<rect x="228.05" y="495.21" width="3.1" height="0.31" fill="#5B9BD5"/>
<path d="M228.05 495.21L229.33 494.27H232.43L231.15 495.21Z" fill="#43729d"/>
<path d="M239.44 495.53L240.72 494.58V494.02L239.44 494.96Z" fill="#386084"/>
<rect x="236.34" y="494.96" width="3.1" height="0.57" fill="#5B9BD5"/>
<path d="M236.34 494.96L237.62 494.02H240.72L239.44 494.96Z" fill="#43729d"/>
<path d="M247.73 495.53L249.01 494.58V477.94L247.73 478.88Z" fill="#386084"/>
<rect x="244.63" y="478.88" width="3.1" height="16.64" fill="#5B9BD5"/>
<rect x="245.43" y="478.88" width="1.0" height="16.64" fill="#7bafdd"/>
<path d="M244.63 478.88L245.91 477.94H249.01L247.73 478.88Z" fill="#43729d"/>
<path d="M256.02 495.53L257.30 494.58V493.64L256.02 494.58Z" fill="#386084"/>
<rect x="252.92" y="494.58" width="3.1" height="0.94" fill="#5B9BD5"/>
<path d="M252.92 494.58L254.20 493.64H257.30L256.02 494.58Z" fill="#43729d"/>
<path d="M264.31 495.53L265.59 494.58V494.27L264.31 495.21Z" fill="#386084"/>
<rect x="261.21" y="495.21" width="3.1" height="0.31" fill="#5B9BD5"/>
<path d="M261.21 495.21L262.49 494.27H265.59L264.31 495.21Z" fill="#43729d"/>
<path d="M272.60 495.53L273.88 494.58V494.02L272.60 494.96Z" fill="#386084"/>
<rect x="269.50" y="494.96" width="3.1" height="0.57" fill="#5B9BD5"/>
<path d="M269.50 494.96L270.78 494.02H273.88L272.60 494.96Z" fill="#43729d"/>
<path d="M280.89 495.53L282.17 494.58V494.14L280.89 495.09Z" fill="#386084"/>
<rect x="277.79" y="495.09" width="3.1" height="0.44" fill="#5B9BD5"/>
<path d="M277.79 495.09L279.07 494.14H282.17L280.89 495.09Z" fill="#43729d"/>
<path d="M289.18 495.53L290.46 494.58V494.14L289.18 495.09Z" fill="#386084"/>
<rect x="286.08" y="495.09" width="3.1" height="0.44" fill="#5B9BD5"/>
<path d="M286.08 495.09L287.36 494.14H290.46L289.18 495.09Z" fill="#43729d"/>
<path d="M297.47 495.53L298.75 494.58V491.44L297.47 492.39Z" fill="#386084"/>
<rect x="294.37" y="492.39" width="3.1" height="3.14" fill="#5B9BD5"/>
<rect x="295.17" y="492.39" width="1.0" height="3.14" fill="#7bafdd"/>
<path d="M294.37 492.39L295.65 491.44H298.75L297.47 492.39Z" fill="#43729d"/>
<path d="M305.76 495.53L307.04 494.58V388.17L305.76 389.11Z" fill="#386084"/>
<rect x="302.66" y="389.11" width="3.1" height="106.41" fill="#5B9BD5"/>
<rect x="303.46" y="389.11" width="1.0" height="106.41" fill="#7bafdd"/>
<path d="M302.66 389.11L303.94 388.17H307.04L305.76 389.11Z" fill="#43729d"/>
<path d="M314.05 495.53L315.33 494.58V494.02L314.05 494.96Z" fill="#386084"/>
<rect x="310.95" y="494.96" width="3.1" height="0.57" fill="#5B9BD5"/>
<path d="M310.95 494.96L312.23 494.02H315.33L314.05 494.96Z" fill="#43729d"/>
<path d="M322.34 495.53L323.62 494.58V494.27L322.34 495.21Z" fill="#386084"/>
<rect x="319.24" y="495.21" width="3.1" height="0.31" fill="#5B9BD5"/>
<path d="M319.24 495.21L320.52 494.27H323.62L322.34 495.21Z" fill="#43729d"/>
<path d="M330.63 495.53L331.91 494.58V494.27L330.63 495.21Z" fill="#386084"/>
<rect x="327.53" y="495.21" width="3.1" height="0.31" fill="#5B9BD5"/>
<path d="M327.53 495.21L328.81 494.27H331.91L330.63 495.21Z" fill="#43729d"/>
<path d="M338.92 495.53L340.20 494.58V472.60L338.92 473.55Z" fill="#386084"/>
<rect x="335.82" y="473.55" width="3.1" height="21.98" fill="#5B9BD5"/>
<rect x="336.62" y="473.55" width="1.0" height="21.98" fill="#7bafdd"/>
<path d="M335.82 473.55L337.10 472.60H340.20L338.92 473.55Z" fill="#43729d"/>
<path d="M347.21 495.53L348.49 494.58V493.01L347.21 493.96Z" fill="#386084"/>
<rect x="344.11" y="493.96" width="3.1" height="1.57" fill="#5B9BD5"/>
<path d="M344.11 493.96L345.39 493.01H348.49L347.21 493.96Z" fill="#43729d"/>
<path d="M355.50 495.53L356.78 494.58V489.87L355.50 490.82Z" fill="#386084"/>
<rect x="352.40" y="490.82" width="3.1" height="4.71" fill="#5B9BD5"/>
<rect x="353.20" y="490.82" width="1.0" height="4.71" fill="#7bafdd"/>
<path d="M352.40 490.82L353.68 489.87H356.78L355.50 490.82Z" fill="#43729d"/>
<path d="M363.79 495.53L365.07 494.58V460.36L363.79 461.30Z" fill="#386084"/>
<rect x="360.69" y="461.30" width="3.1" height="34.23" fill="#5B9BD5"/>
<rect x="361.49" y="461.30" width="1.0" height="34.23" fill="#7bafdd"/>
<path d="M360.69 461.30L361.97 460.36H365.07L363.79 461.30Z" fill="#43729d"/>
<path d="M62.44 497.67L63.72 496.73V477.63L62.44 478.58Z" fill="#9e7700"/>
<rect x="59.34" y="478.58" width="3.1" height="19.09" fill="#FFC000"/>
<rect x="60.14" y="478.58" width="1.0" height="19.09" fill="#ffcc32"/>
<path d="M59.34 478.58L60.62 477.63H63.72L62.44 478.58Z" fill="#bc8e00"/>
<path d="M70.73 497.67L72.01 496.73V496.29L70.73 497.23Z" fill="#9e7700"/>
<rect x="67.63" y="497.23" width="3.1" height="0.44" fill="#FFC000"/>
<path d="M67.63 497.23L68.91 496.29H72.01L70.73 497.23Z" fill="#bc8e00"/>
<path d="M79.02 497.67L80.30 496.73V494.84L79.02 495.78Z" fill="#9e7700"/>
<rect x="75.92" y="495.78" width="3.1" height="1.88" fill="#FFC000"/>
<path d="M75.92 495.78L77.20 494.84H80.30L79.02 495.78Z" fill="#bc8e00"/>
<path d="M87.31 497.67L88.59 496.73V495.97L87.31 496.92Z" fill="#9e7700"/>
<rect x="84.21" y="496.92" width="3.1" height="0.75" fill="#FFC000"/>
<path d="M84.21 496.92L85.49 495.97H88.59L87.31 496.92Z" fill="#bc8e00"/>
<path d="M95.60 497.67L96.88 496.73V496.16L95.60 497.10Z" fill="#9e7700"/>
<rect x="92.50" y="497.10" width="3.1" height="0.57" fill="#FFC000"/>
<path d="M92.50 497.10L93.78 496.16H96.88L95.60 497.10Z" fill="#bc8e00"/>
<path d="M103.89 497.67L105.17 496.73V490.45L103.89 491.39Z" fill="#9e7700"/>
<rect x="100.79" y="491.39" width="3.1" height="6.28" fill="#FFC000"/>
<rect x="101.59" y="491.39" width="1.0" height="6.28" fill="#ffcc32"/>
<path d="M100.79 491.39L102.07 490.45H105.17L103.89 491.39Z" fill="#bc8e00"/>
<path d="M112.18 497.67L113.46 496.73V494.84L112.18 495.78Z" fill="#9e7700"/>
<rect x="109.08" y="495.78" width="3.1" height="1.88" fill="#FFC000"/>
<path d="M109.08 495.78L110.36 494.84H113.46L112.18 495.78Z" fill="#bc8e00"/>
<path d="M120.47 497.67L121.75 496.73V436.22L120.47 437.16Z" fill="#9e7700"/>
<rect x="117.37" y="437.16" width="3.1" height="60.51" fill="#FFC000"/>
<rect x="118.17" y="437.16" width="1.0" height="60.51" fill="#ffcc32"/>
<path d="M117.37 437.16L118.65 436.22H121.75L120.47 437.16Z" fill="#bc8e00"/>
<path d="M128.76 497.67L130.04 496.73V495.97L128.76 496.92Z" fill="#9e7700"/>
<rect x="125.66" y="496.92" width="3.1" height="0.75" fill="#FFC000"/>
<path d="M125.66 496.92L126.94 495.97H130.04L128.76 496.92Z" fill="#bc8e00"/>
<path d="M137.05 497.67L138.33 496.73V496.41L137.05 497.35Z" fill="#9e7700"/>
<rect x="133.95" y="497.35" width="3.1" height="0.31" fill="#FFC000"/>
<path d="M133.95 497.35L135.23 496.41H138.33L137.05 497.35Z" fill="#bc8e00"/>
<path d="M145.34 497.67L146.62 496.73V496.41L145.34 497.35Z" fill="#9e7700"/>
<rect x="142.24" y="497.35" width="3.1" height="0.31" fill="#FFC000"/>
<path d="M142.24 497.35L143.52 496.41H146.62L145.34 497.35Z" fill="#bc8e00"/>
<path d="M153.63 497.67L154.91 496.73V496.29L153.63 497.23Z" fill="#9e7700"/>
<rect x="150.53" y="497.23" width="3.1" height="0.44" fill="#FFC000"/>
<path d="M150.53 497.23L151.81 496.29H154.91L153.63 497.23Z" fill="#bc8e00"/>
<path d="M161.92 497.67L163.20 496.73V496.16L161.92 497.10Z" fill="#9e7700"/>
<rect x="158.82" y="497.10" width="3.1" height="0.57" fill="#FFC000"/>
<path d="M158.82 497.10L160.10 496.16H163.20L161.92 497.10Z" fill="#bc8e00"/>
<path d="M170.21 497.67L171.49 496.73V495.97L170.21 496.92Z" fill="#9e7700"/>
<rect x="167.11" y="496.92" width="3.1" height="0.75" fill="#FFC000"/>
<path d="M167.11 496.92L168.39 495.97H171.49L170.21 496.92Z" fill="#bc8e00"/>
<path d="M178.50 497.67L179.78 496.73V490.45L178.50 491.39Z" fill="#9e7700"/>
<rect x="175.40" y="491.39" width="3.1" height="6.28" fill="#FFC000"/>
<rect x="176.20" y="491.39" width="1.0" height="6.28" fill="#ffcc32"/>
<path d="M175.40 491.39L176.68 490.45H179.78L178.50 491.39Z" fill="#bc8e00"/>
<path d="M186.79 497.67L188.07 496.73V486.36L186.79 487.31Z" fill="#9e7700"/>
<rect x="183.69" y="487.31" width="3.1" height="10.36" fill="#FFC000"/>
<rect x="184.49" y="487.31" width="1.0" height="10.36" fill="#ffcc32"/>
<path d="M183.69 487.31L184.97 486.36H188.07L186.79 487.31Z" fill="#bc8e00"/>
<path d="M195.08 497.67L196.36 496.73V482.60L195.08 483.54Z" fill="#9e7700"/>
<rect x="191.98" y="483.54" width="3.1" height="14.13" fill="#FFC000"/>
<rect x="192.78" y="483.54" width="1.0" height="14.13" fill="#ffcc32"/>
<path d="M191.98 483.54L193.26 482.60H196.36L195.08 483.54Z" fill="#bc8e00"/>
<path d="M203.37 497.67L204.65 496.73V491.07L203.37 492.02Z" fill="#9e7700"/>
<rect x="200.27" y="492.02" width="3.1" height="5.65" fill="#FFC000"/>
<rect x="201.07" y="492.02" width="1.0" height="5.65" fill="#ffcc32"/>
<path d="M200.27 492.02L201.55 491.07H204.65L203.37 492.02Z" fill="#bc8e00"/>
<path d="M211.66 497.67L212.94 496.73V494.84L211.66 495.78Z" fill="#9e7700"/>
<rect x="208.56" y="495.78" width="3.1" height="1.88" fill="#FFC000"/>
<path d="M208.56 495.78L209.84 494.84H212.94L211.66 495.78Z" fill="#bc8e00"/>
<path d="M219.95 497.67L221.23 496.73V496.16L219.95 497.10Z" fill="#9e7700"/>
<rect x="216.85" y="497.10" width="3.1" height="0.57" fill="#FFC000"/>
<path d="M216.85 497.10L218.13 496.16H221.23L219.95 497.10Z" fill="#bc8e00"/>
<path d="M228.24 497.67L229.52 496.73V496.16L228.24 497.10Z" fill="#9e7700"/>
<rect x="225.14" y="497.10" width="3.1" height="0.57" fill="#FFC000"/>
<path d="M225.14 497.10L226.42 496.16H229.52L228.24 497.10Z" fill="#bc8e00"/>
<path d="M236.53 497.67L237.81 496.73V496.16L236.53 497.10Z" fill="#9e7700"/>
<rect x="233.43" y="497.10" width="3.1" height="0.57" fill="#FFC000"/>
<path d="M233.43 497.10L234.71 496.16H237.81L236.53 497.10Z" fill="#bc8e00"/>
<path d="M244.82 497.67L246.10 496.73V477.26L244.82 478.20Z" fill="#9e7700"/>
<rect x="241.72" y="478.20" width="3.1" height="19.47" fill="#FFC000"/>
<rect x="242.52" y="478.20" width="1.0" height="19.47" fill="#ffcc32"/>
<path d="M241.72 478.20L243.00 477.26H246.10L244.82 478.20Z" fill="#bc8e00"/>
<path d="M253.11 497.67L254.39 496.73V495.47L253.11 496.41Z" fill="#9e7700"/>
<rect x="250.01" y="496.41" width="3.1" height="1.26" fill="#FFC000"/>
<path d="M250.01 496.41L251.29 495.47H254.39L253.11 496.41Z" fill="#bc8e00"/>
<path d="M261.40 497.67L262.68 496.73V496.16L261.40 497.10Z" fill="#9e7700"/>
<rect x="258.30" y="497.10" width="3.1" height="0.57" fill="#FFC000"/>
<path d="M258.30 497.10L259.58 496.16H262.68L261.40 497.10Z" fill="#bc8e00"/>
<path d="M269.69 497.67L270.97 496.73V496.29L269.69 497.23Z" fill="#9e7700"/>
<rect x="266.59" y="497.23" width="3.1" height="0.44" fill="#FFC000"/>
<path d="M266.59 497.23L267.87 496.29H270.97L269.69 497.23Z" fill="#bc8e00"/>
<path d="M277.98 497.67L279.26 496.73V496.16L277.98 497.10Z" fill="#9e7700"/>
<rect x="274.88" y="497.10" width="3.1" height="0.57" fill="#FFC000"/>
<path d="M274.88 497.10L276.16 496.16H279.26L277.98 497.10Z" fill="#bc8e00"/>
<path d="M286.27 497.67L287.55 496.73V496.16L286.27 497.10Z" fill="#9e7700"/>
<rect x="283.17" y="497.10" width="3.1" height="0.57" fill="#FFC000"/>
<path d="M283.17 497.10L284.45 496.16H287.55L286.27 497.10Z" fill="#bc8e00"/>
<path d="M294.56 497.67L295.84 496.73V492.96L294.56 493.90Z" fill="#9e7700"/>
<rect x="291.46" y="493.90" width="3.1" height="3.77" fill="#FFC000"/>
<rect x="292.26" y="493.90" width="1.0" height="3.77" fill="#ffcc32"/>
<path d="M291.46 493.90L292.74 492.96H295.84L294.56 493.90Z" fill="#bc8e00"/>
<path d="M302.85 497.67L304.13 496.73V391.66L302.85 392.60Z" fill="#9e7700"/>
<rect x="299.75" y="392.60" width="3.1" height="105.06" fill="#FFC000"/>
<rect x="300.55" y="392.60" width="1.0" height="105.06" fill="#ffcc32"/>
<path d="M299.75 392.60L301.03 391.66H304.13L302.85 392.60Z" fill="#bc8e00"/>
<path d="M311.14 497.67L312.42 496.73V495.97L311.14 496.92Z" fill="#9e7700"/>
<rect x="308.04" y="496.92" width="3.1" height="0.75" fill="#FFC000"/>
<path d="M308.04 496.92L309.32 495.97H312.42L311.14 496.92Z" fill="#bc8e00"/>
<path d="M319.43 497.67L320.71 496.73V495.97L319.43 496.92Z" fill="#9e7700"/>
<rect x="316.33" y="496.92" width="3.1" height="0.75" fill="#FFC000"/>
<path d="M316.33 496.92L317.61 495.97H320.71L319.43 496.92Z" fill="#bc8e00"/>
<path d="M327.72 497.67L329.00 496.73V496.16L327.72 497.10Z" fill="#9e7700"/>
<rect x="324.62" y="497.10" width="3.1" height="0.57" fill="#FFC000"/>
<path d="M324.62 497.10L325.90 496.16H329.00L327.72 497.10Z" fill="#bc8e00"/>
<path d="M336.01 497.67L337.29 496.73V478.51L336.01 479.46Z" fill="#9e7700"/>
<rect x="332.91" y="479.46" width="3.1" height="18.21" fill="#FFC000"/>
<rect x="333.71" y="479.46" width="1.0" height="18.21" fill="#ffcc32"/>
<path d="M332.91 479.46L334.19 478.51H337.29L336.01 479.46Z" fill="#bc8e00"/>
<path d="M344.30 497.67L345.58 496.73V494.84L344.30 495.78Z" fill="#9e7700"/>
<rect x="341.20" y="495.78" width="3.1" height="1.88" fill="#FFC000"/>
<path d="M341.20 495.78L342.48 494.84H345.58L344.30 495.78Z" fill="#bc8e00"/>
<path d="M352.59 497.67L353.87 496.73V491.70L352.59 492.64Z" fill="#9e7700"/>
<rect x="349.49" y="492.64" width="3.1" height="5.02" fill="#FFC000"/>
<rect x="350.29" y="492.64" width="1.0" height="5.02" fill="#ffcc32"/>
<path d="M349.49 492.64L350.77 491.70H353.87L352.59 492.64Z" fill="#bc8e00"/>
<path d="M360.88 497.67L362.16 496.73V460.30L360.88 461.24Z" fill="#9e7700"/>
<rect x="357.78" y="461.24" width="3.1" height="36.42" fill="#FFC000"/>
<rect x="358.58" y="461.24" width="1.0" height="36.42" fill="#ffcc32"/>
<path d="M357.78 461.24L359.06 460.30H362.16L360.88 461.24Z" fill="#bc8e00"/>
<path d="M59.53 499.81L60.81 498.87V483.17L59.53 484.11Z" fill="#666666"/>
<rect x="56.43" y="484.11" width="3.1" height="15.70" fill="#A5A5A5"/>
<rect x="57.23" y="484.11" width="1.0" height="15.70" fill="#b7b7b7"/>
<path d="M56.43 484.11L57.71 483.17H60.81L59.53 484.11Z" fill="#7a7a7a"/>
<path d="M67.81 499.81L69.10 498.87V498.56L67.81 499.50Z" fill="#666666"/>
<rect x="64.72" y="499.50" width="3.1" height="0.31" fill="#A5A5A5"/>
<path d="M64.72 499.50L66.00 498.56H69.10L67.81 499.50Z" fill="#7a7a7a"/>
<path d="M76.10 499.81L77.39 498.87V497.61L76.10 498.56Z" fill="#666666"/>
<rect x="73.00" y="498.56" width="3.1" height="1.26" fill="#A5A5A5"/>
<path d="M73.00 498.56L74.29 497.61H77.39L76.10 498.56Z" fill="#7a7a7a"/>
<path d="M84.39 499.81L85.68 498.87V498.30L84.39 499.25Z" fill="#666666"/>
<rect x="81.30" y="499.25" width="3.1" height="0.57" fill="#A5A5A5"/>
<path d="M81.30 499.25L82.58 498.30H85.68L84.39 499.25Z" fill="#7a7a7a"/>
<path d="M92.68 499.81L93.97 498.87V498.30L92.68 499.25Z" fill="#666666"/>
<rect x="89.58" y="499.25" width="3.1" height="0.57" fill="#A5A5A5"/>
<path d="M89.58 499.25L90.87 498.30H93.97L92.68 499.25Z" fill="#7a7a7a"/>
<path d="M100.97 499.81L102.26 498.87V488.82L100.97 489.76Z" fill="#666666"/>
<rect x="97.87" y="489.76" width="3.1" height="10.05" fill="#A5A5A5"/>
<rect x="98.67" y="489.76" width="1.0" height="10.05" fill="#b7b7b7"/>
<path d="M97.87 489.76L99.16 488.82H102.26L100.97 489.76Z" fill="#7a7a7a"/>
<path d="M109.26 499.81L110.55 498.87V497.93L109.26 498.87Z" fill="#666666"/>
<rect x="106.16" y="498.87" width="3.1" height="0.94" fill="#A5A5A5"/>
<path d="M106.16 498.87L107.45 497.93H110.55L109.26 498.87Z" fill="#7a7a7a"/>
<path d="M117.55 499.81L118.84 498.87V466.84L117.55 467.78Z" fill="#666666"/>
<rect x="114.45" y="467.78" width="3.1" height="32.03" fill="#A5A5A5"/>
<rect x="115.25" y="467.78" width="1.0" height="32.03" fill="#b7b7b7"/>
<path d="M114.45 467.78L115.74 466.84H118.84L117.55 467.78Z" fill="#7a7a7a"/>
<path d="M125.84 499.81L127.13 498.87V498.56L125.84 499.50Z" fill="#666666"/>
<rect x="122.74" y="499.50" width="3.1" height="0.31" fill="#A5A5A5"/>
<path d="M122.74 499.50L124.03 498.56H127.13L125.84 499.50Z" fill="#7a7a7a"/>
<path d="M134.13 499.81L135.42 498.87V498.30L134.13 499.25Z" fill="#666666"/>
<rect x="131.03" y="499.25" width="3.1" height="0.57" fill="#A5A5A5"/>
<path d="M131.03 499.25L132.32 498.30H135.42L134.13 499.25Z" fill="#7a7a7a"/>
<path d="M142.42 499.81L143.71 498.87V498.30L142.42 499.25Z" fill="#666666"/>
<rect x="139.32" y="499.25" width="3.1" height="0.57" fill="#A5A5A5"/>
<path d="M139.32 499.25L140.61 498.30H143.71L142.42 499.25Z" fill="#7a7a7a"/>
<path d="M150.71 499.81L152.00 498.87V498.30L150.71 499.25Z" fill="#666666"/>
<rect x="147.61" y="499.25" width="3.1" height="0.57" fill="#A5A5A5"/>
<path d="M147.61 499.25L148.90 498.30H152.00L150.71 499.25Z" fill="#7a7a7a"/>
<path d="M159.00 499.81L160.29 498.87V498.12L159.00 499.06Z" fill="#666666"/>
<rect x="155.90" y="499.06" width="3.1" height="0.75" fill="#A5A5A5"/>
<path d="M155.90 499.06L157.19 498.12H160.29L159.00 499.06Z" fill="#7a7a7a"/>
<path d="M167.29 499.81L168.58 498.87V498.56L167.29 499.50Z" fill="#666666"/>
<rect x="164.19" y="499.50" width="3.1" height="0.31" fill="#A5A5A5"/>
<path d="M164.19 499.50L165.48 498.56H168.58L167.29 499.50Z" fill="#7a7a7a"/>
<path d="M175.58 499.81L176.87 498.87V494.79L175.58 495.73Z" fill="#666666"/>
<rect x="172.48" y="495.73" width="3.1" height="4.08" fill="#A5A5A5"/>
<rect x="173.28" y="495.73" width="1.0" height="4.08" fill="#b7b7b7"/>
<path d="M172.48 495.73L173.77 494.79H176.87L175.58 495.73Z" fill="#7a7a7a"/>
<path d="M183.87 499.81L185.16 498.87V491.65L183.87 492.59Z" fill="#666666"/>
<rect x="180.77" y="492.59" width="3.1" height="7.22" fill="#A5A5A5"/>
<rect x="181.57" y="492.59" width="1.0" height="7.22" fill="#b7b7b7"/>
<path d="M180.77 492.59L182.06 491.65H185.16L183.87 492.59Z" fill="#7a7a7a"/>
<path d="M192.16 499.81L193.45 498.87V489.45L192.16 490.39Z" fill="#666666"/>
<rect x="189.06" y="490.39" width="3.1" height="9.42" fill="#A5A5A5"/>
<rect x="189.86" y="490.39" width="1.0" height="9.42" fill="#b7b7b7"/>
<path d="M189.06 490.39L190.35 489.45H193.45L192.16 490.39Z" fill="#7a7a7a"/>
<path d="M200.45 499.81L201.74 498.87V495.10L200.45 496.04Z" fill="#666666"/>
<rect x="197.35" y="496.04" width="3.1" height="3.77" fill="#A5A5A5"/>
<rect x="198.15" y="496.04" width="1.0" height="3.77" fill="#b7b7b7"/>
<path d="M197.35 496.04L198.64 495.10H201.74L200.45 496.04Z" fill="#7a7a7a"/>
<path d="M208.74 499.81L210.03 498.87V497.61L208.74 498.56Z" fill="#666666"/>
<rect x="205.64" y="498.56" width="3.1" height="1.26" fill="#A5A5A5"/>
<path d="M205.64 498.56L206.93 497.61H210.03L208.74 498.56Z" fill="#7a7a7a"/>
<path d="M217.03 499.81L218.32 498.87V498.43L217.03 499.37Z" fill="#666666"/>
<rect x="213.93" y="499.37" width="3.1" height="0.44" fill="#A5A5A5"/>
<path d="M213.93 499.37L215.22 498.43H218.32L217.03 499.37Z" fill="#7a7a7a"/>
<path d="M225.32 499.81L226.61 498.87V498.30L225.32 499.25Z" fill="#666666"/>
<rect x="222.22" y="499.25" width="3.1" height="0.57" fill="#A5A5A5"/>
<path d="M222.22 499.25L223.51 498.30H226.61L225.32 499.25Z" fill="#7a7a7a"/>
<path d="M233.61 499.81L234.90 498.87V498.56L233.61 499.50Z" fill="#666666"/>
<rect x="230.51" y="499.50" width="3.1" height="0.31" fill="#A5A5A5"/>
<path d="M230.51 499.50L231.80 498.56H234.90L233.61 499.50Z" fill="#7a7a7a"/>
<path d="M241.90 499.81L243.19 498.87V483.80L241.90 484.74Z" fill="#666666"/>
<rect x="238.80" y="484.74" width="3.1" height="15.07" fill="#A5A5A5"/>
<rect x="239.60" y="484.74" width="1.0" height="15.07" fill="#b7b7b7"/>
<path d="M238.80 484.74L240.09 483.80H243.19L241.90 484.74Z" fill="#7a7a7a"/>
<path d="M250.19 499.81L251.48 498.87V497.93L250.19 498.87Z" fill="#666666"/>
<rect x="247.09" y="498.87" width="3.1" height="0.94" fill="#A5A5A5"/>
<path d="M247.09 498.87L248.38 497.93H251.48L250.19 498.87Z" fill="#7a7a7a"/>
<path d="M258.48 499.81L259.77 498.87V498.30L258.48 499.25Z" fill="#666666"/>
<rect x="255.38" y="499.25" width="3.1" height="0.57" fill="#A5A5A5"/>
<path d="M255.38 499.25L256.67 498.30H259.77L258.48 499.25Z" fill="#7a7a7a"/>
<path d="M266.77 499.81L268.06 498.87V498.43L266.77 499.37Z" fill="#666666"/>
<rect x="263.67" y="499.37" width="3.1" height="0.44" fill="#A5A5A5"/>
<path d="M263.67 499.37L264.96 498.43H268.06L266.77 499.37Z" fill="#7a7a7a"/>
<path d="M275.06 499.81L276.35 498.87V498.12L275.06 499.06Z" fill="#666666"/>
<rect x="271.96" y="499.06" width="3.1" height="0.75" fill="#A5A5A5"/>
<path d="M271.96 499.06L273.25 498.12H276.35L275.06 499.06Z" fill="#7a7a7a"/>
<path d="M283.36 499.81L284.64 498.87V498.56L283.36 499.50Z" fill="#666666"/>
<rect x="280.25" y="499.50" width="3.1" height="0.31" fill="#A5A5A5"/>
<path d="M280.25 499.50L281.54 498.56H284.64L283.36 499.50Z" fill="#7a7a7a"/>
<path d="M291.65 499.81L292.93 498.87V495.73L291.65 496.67Z" fill="#666666"/>
<rect x="288.55" y="496.67" width="3.1" height="3.14" fill="#A5A5A5"/>
<rect x="289.35" y="496.67" width="1.0" height="3.14" fill="#b7b7b7"/>
<path d="M288.55 496.67L289.83 495.73H292.93L291.65 496.67Z" fill="#7a7a7a"/>
<path d="M299.94 499.81L301.22 498.87V390.45L299.94 391.39Z" fill="#666666"/>
<rect x="296.83" y="391.39" width="3.1" height="108.42" fill="#A5A5A5"/>
<rect x="297.63" y="391.39" width="1.0" height="108.42" fill="#b7b7b7"/>
<path d="M296.83 391.39L298.12 390.45H301.22L299.94 391.39Z" fill="#7a7a7a"/>
<path d="M308.23 499.81L309.51 498.87V498.43L308.23 499.37Z" fill="#666666"/>
<rect x="305.12" y="499.37" width="3.1" height="0.44" fill="#A5A5A5"/>
<path d="M305.12 499.37L306.41 498.43H309.51L308.23 499.37Z" fill="#7a7a7a"/>
<path d="M316.51 499.81L317.80 498.87V498.12L316.51 499.06Z" fill="#666666"/>
<rect x="313.41" y="499.06" width="3.1" height="0.75" fill="#A5A5A5"/>
<path d="M313.41 499.06L314.70 498.12H317.80L316.51 499.06Z" fill="#7a7a7a"/>
<path d="M324.81 499.81L326.09 498.87V498.12L324.81 499.06Z" fill="#666666"/>
<rect x="321.70" y="499.06" width="3.1" height="0.75" fill="#A5A5A5"/>
<path d="M321.70 499.06L322.99 498.12H326.09L324.81 499.06Z" fill="#7a7a7a"/>
<path d="M333.10 499.81L334.38 498.87V481.91L333.10 482.86Z" fill="#666666"/>
<rect x="330.00" y="482.86" width="3.1" height="16.96" fill="#A5A5A5"/>
<rect x="330.80" y="482.86" width="1.0" height="16.96" fill="#b7b7b7"/>
<path d="M330.00 482.86L331.28 481.91H334.38L333.10 482.86Z" fill="#7a7a7a"/>
<path d="M341.38 499.81L342.67 498.87V497.30L341.38 498.24Z" fill="#666666"/>
<rect x="338.28" y="498.24" width="3.1" height="1.57" fill="#A5A5A5"/>
<path d="M338.28 498.24L339.57 497.30H342.67L341.38 498.24Z" fill="#7a7a7a"/>
<path d="M349.68 499.81L350.96 498.87V494.47L349.68 495.42Z" fill="#666666"/>
<rect x="346.57" y="495.42" width="3.1" height="4.40" fill="#A5A5A5"/>
<rect x="347.38" y="495.42" width="1.0" height="4.40" fill="#b7b7b7"/>
<path d="M346.57 495.42L347.86 494.47H350.96L349.68 495.42Z" fill="#7a7a7a"/>
<path d="M357.96 499.81L359.25 498.87V468.88L357.96 469.83Z" fill="#666666"/>
<rect x="354.86" y="469.83" width="3.1" height="29.99" fill="#A5A5A5"/>
<rect x="355.66" y="469.83" width="1.0" height="29.99" fill="#b7b7b7"/>
<path d="M354.86 469.83L356.15 468.88H359.25L357.96 469.83Z" fill="#7a7a7a"/>
<path d="M56.61 501.96L57.89 501.01V482.80L56.61 483.74Z" fill="#924d1e"/>
<rect x="53.51" y="483.74" width="3.1" height="18.21" fill="#ED7D31"/>
<rect x="54.31" y="483.74" width="1.0" height="18.21" fill="#f0975a"/>
<path d="M53.51 483.74L54.79 482.80H57.89L56.61 483.74Z" fill="#af5c24"/>
<path d="M64.90 501.96L66.18 501.01V500.70L64.90 501.64Z" fill="#924d1e"/>
<rect x="61.80" y="501.64" width="3.1" height="0.31" fill="#ED7D31"/>
<path d="M61.80 501.64L63.08 500.70H66.18L64.90 501.64Z" fill="#af5c24"/>
<path d="M73.19 501.96L74.47 501.01V499.13L73.19 500.07Z" fill="#924d1e"/>
<rect x="70.09" y="500.07" width="3.1" height="1.88" fill="#ED7D31"/>
<path d="M70.09 500.07L71.37 499.13H74.47L73.19 500.07Z" fill="#af5c24"/>
<path d="M81.48 501.96L82.76 501.01V500.70L81.48 501.64Z" fill="#924d1e"/>
<rect x="78.38" y="501.64" width="3.1" height="0.31" fill="#ED7D31"/>
<path d="M78.38 501.64L79.66 500.70H82.76L81.48 501.64Z" fill="#af5c24"/>
<path d="M89.77 501.96L91.05 501.01V500.45L89.77 501.39Z" fill="#924d1e"/>
<rect x="86.67" y="501.39" width="3.1" height="0.57" fill="#ED7D31"/>
<path d="M86.67 501.39L87.95 500.45H91.05L89.77 501.39Z" fill="#af5c24"/>
<path d="M98.06 501.96L99.34 501.01V496.93L98.06 497.87Z" fill="#924d1e"/>
<rect x="94.96" y="497.87" width="3.1" height="4.08" fill="#ED7D31"/>
<rect x="95.76" y="497.87" width="1.0" height="4.08" fill="#f0975a"/>
<path d="M94.96 497.87L96.24 496.93H99.34L98.06 497.87Z" fill="#af5c24"/>
<path d="M106.35 501.96L107.63 501.01V500.07L106.35 501.01Z" fill="#924d1e"/>
<rect x="103.25" y="501.01" width="3.1" height="0.94" fill="#ED7D31"/>
<path d="M103.25 501.01L104.53 500.07H107.63L106.35 501.01Z" fill="#af5c24"/>
<path d="M114.64 501.96L115.92 501.01V457.05L114.64 458.00Z" fill="#924d1e"/>
<rect x="111.54" y="458.00" width="3.1" height="43.96" fill="#ED7D31"/>
<rect x="112.34" y="458.00" width="1.0" height="43.96" fill="#f0975a"/>
<path d="M111.54 458.00L112.82 457.05H115.92L114.64 458.00Z" fill="#af5c24"/>
<path d="M122.93 501.96L124.21 501.01V500.26L122.93 501.20Z" fill="#924d1e"/>
<rect x="119.83" y="501.20" width="3.1" height="0.75" fill="#ED7D31"/>
<path d="M119.83 501.20L121.11 500.26H124.21L122.93 501.20Z" fill="#af5c24"/>
<path d="M131.22 501.96L132.50 501.01V500.70L131.22 501.64Z" fill="#924d1e"/>
<rect x="128.12" y="501.64" width="3.1" height="0.31" fill="#ED7D31"/>
<path d="M128.12 501.64L129.40 500.70H132.50L131.22 501.64Z" fill="#af5c24"/>
<path d="M139.51 501.96L140.79 501.01V500.26L139.51 501.20Z" fill="#924d1e"/>
<rect x="136.41" y="501.20" width="3.1" height="0.75" fill="#ED7D31"/>
<path d="M136.41 501.20L137.69 500.26H140.79L139.51 501.20Z" fill="#af5c24"/>
<path d="M147.80 501.96L149.08 501.01V500.45L147.80 501.39Z" fill="#924d1e"/>
<rect x="144.70" y="501.39" width="3.1" height="0.57" fill="#ED7D31"/>
<path d="M144.70 501.39L145.98 500.45H149.08L147.80 501.39Z" fill="#af5c24"/>
<path d="M156.09 501.96L157.37 501.01V500.45L156.09 501.39Z" fill="#924d1e"/>
<rect x="152.99" y="501.39" width="3.1" height="0.57" fill="#ED7D31"/>
<path d="M152.99 501.39L154.27 500.45H157.37L156.09 501.39Z" fill="#af5c24"/>
<path d="M164.38 501.96L165.66 501.01V500.26L164.38 501.20Z" fill="#924d1e"/>
<rect x="161.28" y="501.20" width="3.1" height="0.75" fill="#ED7D31"/>
<path d="M161.28 501.20L162.56 500.26H165.66L164.38 501.20Z" fill="#af5c24"/>
<path d="M172.67 501.96L173.95 501.01V497.25L172.67 498.19Z" fill="#924d1e"/>
<rect x="169.57" y="498.19" width="3.1" height="3.77" fill="#ED7D31"/>
<rect x="170.37" y="498.19" width="1.0" height="3.77" fill="#f0975a"/>
<path d="M169.57 498.19L170.85 497.25H173.95L172.67 498.19Z" fill="#af5c24"/>
<path d="M180.96 501.96L182.24 501.01V494.73L180.96 495.68Z" fill="#924d1e"/>
<rect x="177.86" y="495.68" width="3.1" height="6.28" fill="#ED7D31"/>
<rect x="178.66" y="495.68" width="1.0" height="6.28" fill="#f0975a"/>
<path d="M177.86 495.68L179.14 494.73H182.24L180.96 495.68Z" fill="#af5c24"/>
<path d="M189.25 501.96L190.53 501.01V493.16L189.25 494.11Z" fill="#924d1e"/>
<rect x="186.15" y="494.11" width="3.1" height="7.85" fill="#ED7D31"/>
<rect x="186.95" y="494.11" width="1.0" height="7.85" fill="#f0975a"/>
<path d="M186.15 494.11L187.43 493.16H190.53L189.25 494.11Z" fill="#af5c24"/>
<path d="M197.54 501.96L198.82 501.01V497.87L197.54 498.82Z" fill="#924d1e"/>
<rect x="194.44" y="498.82" width="3.1" height="3.14" fill="#ED7D31"/>
<rect x="195.24" y="498.82" width="1.0" height="3.14" fill="#f0975a"/>
<path d="M194.44 498.82L195.72 497.87H198.82L197.54 498.82Z" fill="#af5c24"/>
<path d="M205.83 501.96L207.11 501.01V499.76L205.83 500.70Z" fill="#924d1e"/>
<rect x="202.73" y="500.70" width="3.1" height="1.26" fill="#ED7D31"/>
<path d="M202.73 500.70L204.01 499.76H207.11L205.83 500.70Z" fill="#af5c24"/>
<path d="M214.12 501.96L215.40 501.01V500.45L214.12 501.39Z" fill="#924d1e"/>
<rect x="211.02" y="501.39" width="3.1" height="0.57" fill="#ED7D31"/>
<path d="M211.02 501.39L212.30 500.45H215.40L214.12 501.39Z" fill="#af5c24"/>
<path d="M222.41 501.96L223.69 501.01V500.57L222.41 501.52Z" fill="#924d1e"/>
<rect x="219.31" y="501.52" width="3.1" height="0.44" fill="#ED7D31"/>
<path d="M219.31 501.52L220.59 500.57H223.69L222.41 501.52Z" fill="#af5c24"/>
<path d="M230.70 501.96L231.98 501.01V500.70L230.70 501.64Z" fill="#924d1e"/>
<rect x="227.60" y="501.64" width="3.1" height="0.31" fill="#ED7D31"/>
<path d="M227.60 501.64L228.88 500.70H231.98L230.70 501.64Z" fill="#af5c24"/>
<path d="M238.99 501.96L240.27 501.01V485.31L238.99 486.26Z" fill="#924d1e"/>
<rect x="235.89" y="486.26" width="3.1" height="15.70" fill="#ED7D31"/>
<rect x="236.69" y="486.26" width="1.0" height="15.70" fill="#f0975a"/>
<path d="M235.89 486.26L237.17 485.31H240.27L238.99 486.26Z" fill="#af5c24"/>
<path d="M247.28 501.96L248.56 501.01V500.07L247.28 501.01Z" fill="#924d1e"/>
<rect x="244.18" y="501.01" width="3.1" height="0.94" fill="#ED7D31"/>
<path d="M244.18 501.01L245.46 500.07H248.56L247.28 501.01Z" fill="#af5c24"/>
<path d="M255.57 501.96L256.85 501.01V500.57L255.57 501.52Z" fill="#924d1e"/>
<rect x="252.47" y="501.52" width="3.1" height="0.44" fill="#ED7D31"/>
<path d="M252.47 501.52L253.75 500.57H256.85L255.57 501.52Z" fill="#af5c24"/>
<path d="M263.86 501.96L265.14 501.01V500.45L263.86 501.39Z" fill="#924d1e"/>
<rect x="260.76" y="501.39" width="3.1" height="0.57" fill="#ED7D31"/>
<path d="M260.76 501.39L262.04 500.45H265.14L263.86 501.39Z" fill="#af5c24"/>
<path d="M272.15 501.96L273.43 501.01V500.70L272.15 501.64Z" fill="#924d1e"/>
<rect x="269.05" y="501.64" width="3.1" height="0.31" fill="#ED7D31"/>
<path d="M269.05 501.64L270.33 500.70H273.43L272.15 501.64Z" fill="#af5c24"/>
<path d="M280.44 501.96L281.72 501.01V500.57L280.44 501.52Z" fill="#924d1e"/>
<rect x="277.34" y="501.52" width="3.1" height="0.44" fill="#ED7D31"/>
<path d="M277.34 501.52L278.62 500.57H281.72L280.44 501.52Z" fill="#af5c24"/>
<path d="M288.73 501.96L290.01 501.01V496.62L288.73 497.56Z" fill="#924d1e"/>
<rect x="285.63" y="497.56" width="3.1" height="4.40" fill="#ED7D31"/>
<rect x="286.43" y="497.56" width="1.0" height="4.40" fill="#f0975a"/>
<path d="M285.63 497.56L286.91 496.62H290.01L288.73 497.56Z" fill="#af5c24"/>
<path d="M297.02 501.96L298.30 501.01V390.74L297.02 391.68Z" fill="#924d1e"/>
<rect x="293.92" y="391.68" width="3.1" height="110.28" fill="#ED7D31"/>
<rect x="294.72" y="391.68" width="1.0" height="110.28" fill="#f0975a"/>
<path d="M293.92 391.68L295.20 390.74H298.30L297.02 391.68Z" fill="#af5c24"/>
<path d="M305.31 501.96L306.59 501.01V500.70L305.31 501.64Z" fill="#924d1e"/>
<rect x="302.21" y="501.64" width="3.1" height="0.31" fill="#ED7D31"/>
<path d="M302.21 501.64L303.49 500.70H306.59L305.31 501.64Z" fill="#af5c24"/>
<path d="M313.60 501.96L314.88 501.01V500.26L313.60 501.20Z" fill="#924d1e"/>
<rect x="310.50" y="501.20" width="3.1" height="0.75" fill="#ED7D31"/>
<path d="M310.50 501.20L311.78 500.26H314.88L313.60 501.20Z" fill="#af5c24"/>
<path d="M321.89 501.96L323.17 501.01V500.70L321.89 501.64Z" fill="#924d1e"/>
<rect x="318.79" y="501.64" width="3.1" height="0.31" fill="#ED7D31"/>
<path d="M318.79 501.64L320.07 500.70H323.17L321.89 501.64Z" fill="#af5c24"/>
<path d="M330.18 501.96L331.46 501.01V484.53L330.18 485.47Z" fill="#924d1e"/>
<rect x="327.08" y="485.47" width="3.1" height="16.48" fill="#ED7D31"/>
<rect x="327.88" y="485.47" width="1.0" height="16.48" fill="#f0975a"/>
<path d="M327.08 485.47L328.36 484.53H331.46L330.18 485.47Z" fill="#af5c24"/>
<path d="M338.47 501.96L339.75 501.01V499.44L338.47 500.39Z" fill="#924d1e"/>
<rect x="335.37" y="500.39" width="3.1" height="1.57" fill="#ED7D31"/>
<path d="M335.37 500.39L336.65 499.44H339.75L338.47 500.39Z" fill="#af5c24"/>
<path d="M346.76 501.96L348.04 501.01V496.30L346.76 497.25Z" fill="#924d1e"/>
<rect x="343.66" y="497.25" width="3.1" height="4.71" fill="#ED7D31"/>
<rect x="344.46" y="497.25" width="1.0" height="4.71" fill="#f0975a"/>
<path d="M343.66 497.25L344.94 496.30H348.04L346.76 497.25Z" fill="#af5c24"/>
<path d="M355.05 501.96L356.33 501.01V463.96L355.05 464.90Z" fill="#924d1e"/>
<rect x="351.95" y="464.90" width="3.1" height="37.05" fill="#ED7D31"/>
<rect x="352.75" y="464.90" width="1.0" height="37.05" fill="#f0975a"/>
<path d="M351.95 464.90L353.23 463.96H356.33L355.05 464.90Z" fill="#af5c24"/>
<path d="M53.70 504.10L54.98 503.16V462.15L53.70 463.09Z" fill="#2a4679"/>
<rect x="50.60" y="463.09" width="3.1" height="41.01" fill="#4472C4"/>
<rect x="51.40" y="463.09" width="1.0" height="41.01" fill="#698ecf"/>
<path d="M50.60 463.09L51.88 462.15H54.98L53.70 463.09Z" fill="#325491"/>
<path d="M61.99 504.10L63.27 503.16V502.40L61.99 503.35Z" fill="#2a4679"/>
<rect x="58.89" y="503.35" width="3.1" height="0.75" fill="#4472C4"/>
<path d="M58.89 503.35L60.17 502.40H63.27L61.99 503.35Z" fill="#325491"/>
<path d="M70.28 504.10L71.56 503.16V499.23L70.28 500.18Z" fill="#2a4679"/>
<rect x="67.18" y="500.18" width="3.1" height="3.92" fill="#4472C4"/>
<rect x="67.98" y="500.18" width="1.0" height="3.92" fill="#698ecf"/>
<path d="M67.18 500.18L68.46 499.23H71.56L70.28 500.18Z" fill="#325491"/>
<path d="M78.57 504.10L79.85 503.16V502.72L78.57 503.66Z" fill="#2a4679"/>
<rect x="75.47" y="503.66" width="3.1" height="0.44" fill="#4472C4"/>
<path d="M75.47 503.66L76.75 502.72H79.85L78.57 503.66Z" fill="#325491"/>
<path d="M86.86 504.10L88.14 503.16V502.84L86.86 503.79Z" fill="#2a4679"/>
<rect x="83.76" y="503.79" width="3.1" height="0.31" fill="#4472C4"/>
<path d="M83.76 503.79L85.04 502.84H88.14L86.86 503.79Z" fill="#325491"/>
<path d="M95.15 504.10L96.43 503.16V498.45L95.15 499.39Z" fill="#2a4679"/>
<rect x="92.05" y="499.39" width="3.1" height="4.71" fill="#4472C4"/>
<rect x="92.85" y="499.39" width="1.0" height="4.71" fill="#698ecf"/>
<path d="M92.05 499.39L93.33 498.45H96.43L95.15 499.39Z" fill="#325491"/>
<path d="M103.44 504.10L104.72 503.16V501.90L103.44 502.84Z" fill="#2a4679"/>
<rect x="100.34" y="502.84" width="3.1" height="1.26" fill="#4472C4"/>
<path d="M100.34 502.84L101.62 501.90H104.72L103.44 502.84Z" fill="#325491"/>
<path d="M111.73 504.10L113.01 503.16V456.84L111.73 457.79Z" fill="#2a4679"/>
<rect x="108.63" y="457.79" width="3.1" height="46.31" fill="#4472C4"/>
<rect x="109.43" y="457.79" width="1.0" height="46.31" fill="#698ecf"/>
<path d="M108.63 457.79L109.91 456.84H113.01L111.73 457.79Z" fill="#325491"/>
<path d="M120.02 504.10L121.30 503.16V502.40L120.02 503.35Z" fill="#2a4679"/>
<rect x="116.92" y="503.35" width="3.1" height="0.75" fill="#4472C4"/>
<path d="M116.92 503.35L118.20 502.40H121.30L120.02 503.35Z" fill="#325491"/>
<path d="M128.31 504.10L129.59 503.16V502.72L128.31 503.66Z" fill="#2a4679"/>
<rect x="125.21" y="503.66" width="3.1" height="0.44" fill="#4472C4"/>
<path d="M125.21 503.66L126.49 502.72H129.59L128.31 503.66Z" fill="#325491"/>
<path d="M136.60 504.10L137.88 503.16V502.40L136.60 503.35Z" fill="#2a4679"/>
<rect x="133.50" y="503.35" width="3.1" height="0.75" fill="#4472C4"/>
<path d="M133.50 503.35L134.78 502.40H137.88L136.60 503.35Z" fill="#325491"/>
<path d="M144.89 504.10L146.17 503.16V502.84L144.89 503.79Z" fill="#2a4679"/>
<rect x="141.79" y="503.79" width="3.1" height="0.31" fill="#4472C4"/>
<path d="M141.79 503.79L143.07 502.84H146.17L144.89 503.79Z" fill="#325491"/>
<path d="M153.18 504.10L154.46 503.16V502.84L153.18 503.79Z" fill="#2a4679"/>
<rect x="150.08" y="503.79" width="3.1" height="0.31" fill="#4472C4"/>
<path d="M150.08 503.79L151.36 502.84H154.46L153.18 503.79Z" fill="#325491"/>
<path d="M161.47 504.10L162.75 503.16V502.72L161.47 503.66Z" fill="#2a4679"/>
<rect x="158.37" y="503.66" width="3.1" height="0.44" fill="#4472C4"/>
<path d="M158.37 503.66L159.65 502.72H162.75L161.47 503.66Z" fill="#325491"/>
<path d="M169.76 504.10L171.04 503.16V498.76L169.76 499.70Z" fill="#2a4679"/>
<rect x="166.66" y="499.70" width="3.1" height="4.40" fill="#4472C4"/>
<rect x="167.46" y="499.70" width="1.0" height="4.40" fill="#698ecf"/>
<path d="M166.66 499.70L167.94 498.76H171.04L169.76 499.70Z" fill="#325491"/>
<path d="M178.05 504.10L179.33 503.16V495.31L178.05 496.25Z" fill="#2a4679"/>
<rect x="174.95" y="496.25" width="3.1" height="7.85" fill="#4472C4"/>
<rect x="175.75" y="496.25" width="1.0" height="7.85" fill="#698ecf"/>
<path d="M174.95 496.25L176.23 495.31H179.33L178.05 496.25Z" fill="#325491"/>
<path d="M186.34 504.10L187.62 503.16V491.38L186.34 492.33Z" fill="#2a4679"/>
<rect x="183.24" y="492.33" width="3.1" height="11.77" fill="#4472C4"/>
<rect x="184.04" y="492.33" width="1.0" height="11.77" fill="#698ecf"/>
<path d="M183.24 492.33L184.52 491.38H187.62L186.34 492.33Z" fill="#325491"/>
<path d="M194.63 504.10L195.91 503.16V498.13L194.63 499.08Z" fill="#2a4679"/>
<rect x="191.53" y="499.08" width="3.1" height="5.02" fill="#4472C4"/>
<rect x="192.33" y="499.08" width="1.0" height="5.02" fill="#698ecf"/>
<path d="M191.53 499.08L192.81 498.13H195.91L194.63 499.08Z" fill="#325491"/>
<path d="M202.92 504.10L204.20 503.16V501.90L202.92 502.84Z" fill="#2a4679"/>
<rect x="199.82" y="502.84" width="3.1" height="1.26" fill="#4472C4"/>
<path d="M199.82 502.84L201.10 501.90H204.20L202.92 502.84Z" fill="#325491"/>
<path d="M211.21 504.10L212.49 503.16V502.72L211.21 503.66Z" fill="#2a4679"/>
<rect x="208.11" y="503.66" width="3.1" height="0.44" fill="#4472C4"/>
<path d="M208.11 503.66L209.39 502.72H212.49L211.21 503.66Z" fill="#325491"/>
<path d="M219.50 504.10L220.78 503.16V502.40L219.50 503.35Z" fill="#2a4679"/>
<rect x="216.40" y="503.35" width="3.1" height="0.75" fill="#4472C4"/>
<path d="M216.40 503.35L217.68 502.40H220.78L219.50 503.35Z" fill="#325491"/>
<path d="M227.79 504.10L229.07 503.16V502.72L227.79 503.66Z" fill="#2a4679"/>
<rect x="224.69" y="503.66" width="3.1" height="0.44" fill="#4472C4"/>
<path d="M224.69 503.66L225.97 502.72H229.07L227.79 503.66Z" fill="#325491"/>
<path d="M236.08 504.10L237.36 503.16V486.64L236.08 487.58Z" fill="#2a4679"/>
<rect x="232.98" y="487.58" width="3.1" height="16.52" fill="#4472C4"/>
<rect x="233.78" y="487.58" width="1.0" height="16.52" fill="#698ecf"/>
<path d="M232.98 487.58L234.26 486.64H237.36L236.08 487.58Z" fill="#325491"/>
<path d="M244.37 504.10L245.65 503.16V502.21L244.37 503.16Z" fill="#2a4679"/>
<rect x="241.27" y="503.16" width="3.1" height="0.94" fill="#4472C4"/>
<path d="M241.27 503.16L242.55 502.21H245.65L244.37 503.16Z" fill="#325491"/>
<path d="M252.66 504.10L253.94 503.16V502.40L252.66 503.35Z" fill="#2a4679"/>
<rect x="249.56" y="503.35" width="3.1" height="0.75" fill="#4472C4"/>
<path d="M249.56 503.35L250.84 502.40H253.94L252.66 503.35Z" fill="#325491"/>
<path d="M260.95 504.10L262.23 503.16V502.40L260.95 503.35Z" fill="#2a4679"/>
<rect x="257.85" y="503.35" width="3.1" height="0.75" fill="#4472C4"/>
<path d="M257.85 503.35L259.13 502.40H262.23L260.95 503.35Z" fill="#325491"/>
<path d="M269.24 504.10L270.52 503.16V502.84L269.24 503.79Z" fill="#2a4679"/>
<rect x="266.14" y="503.79" width="3.1" height="0.31" fill="#4472C4"/>
<path d="M266.14 503.79L267.42 502.84H270.52L269.24 503.79Z" fill="#325491"/>
<path d="M277.53 504.10L278.81 503.16V502.59L277.53 503.53Z" fill="#2a4679"/>
<rect x="274.43" y="503.53" width="3.1" height="0.57" fill="#4472C4"/>
<path d="M274.43 503.53L275.71 502.59H278.81L277.53 503.53Z" fill="#325491"/>
<path d="M285.82 504.10L287.10 503.16V498.13L285.82 499.08Z" fill="#2a4679"/>
<rect x="282.72" y="499.08" width="3.1" height="5.02" fill="#4472C4"/>
<rect x="283.52" y="499.08" width="1.0" height="5.02" fill="#698ecf"/>
<path d="M282.72 499.08L284.00 498.13H287.10L285.82 499.08Z" fill="#325491"/>
<path d="M294.11 504.10L295.39 503.16V389.87L294.11 390.81Z" fill="#2a4679"/>
<rect x="291.01" y="390.81" width="3.1" height="113.29" fill="#4472C4"/>
<rect x="291.81" y="390.81" width="1.0" height="113.29" fill="#698ecf"/>
<path d="M291.01 390.81L292.29 389.87H295.39L294.11 390.81Z" fill="#325491"/>
<path d="M302.40 504.10L303.68 503.16V502.84L302.40 503.79Z" fill="#2a4679"/>
<rect x="299.30" y="503.79" width="3.1" height="0.31" fill="#4472C4"/>
<path d="M299.30 503.79L300.58 502.84H303.68L302.40 503.79Z" fill="#325491"/>
<path d="M310.69 504.10L311.97 503.16V502.72L310.69 503.66Z" fill="#2a4679"/>
<rect x="307.59" y="503.66" width="3.1" height="0.44" fill="#4472C4"/>
<path d="M307.59 503.66L308.87 502.72H311.97L310.69 503.66Z" fill="#325491"/>
<path d="M318.98 504.10L320.26 503.16V502.40L318.98 503.35Z" fill="#2a4679"/>
<rect x="315.88" y="503.35" width="3.1" height="0.75" fill="#4472C4"/>
<path d="M315.88 503.35L317.16 502.40H320.26L318.98 503.35Z" fill="#325491"/>
<path d="M327.27 504.10L328.55 503.16V482.87L327.27 483.82Z" fill="#2a4679"/>
<rect x="324.17" y="483.82" width="3.1" height="20.28" fill="#4472C4"/>
<rect x="324.97" y="483.82" width="1.0" height="20.28" fill="#698ecf"/>
<path d="M324.17 483.82L325.45 482.87H328.55L327.27 483.82Z" fill="#325491"/>
<path d="M335.56 504.10L336.84 503.16V501.27L335.56 502.22Z" fill="#2a4679"/>
<rect x="332.46" y="502.22" width="3.1" height="1.88" fill="#4472C4"/>
<path d="M332.46 502.22L333.74 501.27H336.84L335.56 502.22Z" fill="#325491"/>
<path d="M343.85 504.10L345.13 503.16V497.50L343.85 498.45Z" fill="#2a4679"/>
<rect x="340.75" y="498.45" width="3.1" height="5.65" fill="#4472C4"/>
<rect x="341.55" y="498.45" width="1.0" height="5.65" fill="#698ecf"/>
<path d="M340.75 498.45L342.03 497.50H345.13L343.85 498.45Z" fill="#325491"/>
<path d="M352.14 504.10L353.42 503.16V464.66L352.14 465.60Z" fill="#2a4679"/>
<rect x="349.04" y="465.60" width="3.1" height="38.50" fill="#4472C4"/>
<rect x="349.84" y="465.60" width="1.0" height="38.50" fill="#698ecf"/>
<path d="M349.04 465.60L350.32 464.66H353.42L352.14 465.60Z" fill="#325491"/>
<text x="54.04" y="509.20" font-size="6.6" text-anchor="end" fill="#3a3a3a" transform="rotate(-90 54.04 509.20)" stroke="#3a3a3a" stroke-width="0.15">BLC</text>
<text x="62.34" y="509.20" font-size="6.6" text-anchor="end" fill="#3a3a3a" transform="rotate(-90 62.34 509.20)" stroke="#3a3a3a" stroke-width="0.15">CD30L</text>
<text x="70.62" y="509.20" font-size="6.6" text-anchor="end" fill="#3a3a3a" transform="rotate(-90 70.62 509.20)" stroke="#3a3a3a" stroke-width="0.15">Eotaxin</text>
<text x="78.91" y="509.20" font-size="6.6" text-anchor="end" fill="#3a3a3a" transform="rotate(-90 78.91 509.20)" stroke="#3a3a3a" stroke-width="0.15">Eotaxin-2</text>
<text x="87.20" y="509.20" font-size="6.6" text-anchor="end" fill="#3a3a3a" transform="rotate(-90 87.20 509.20)" stroke="#3a3a3a" stroke-width="0.15">Fas L</text>
<text x="95.49" y="509.20" font-size="6.6" text-anchor="end" fill="#3a3a3a" transform="rotate(-90 95.49 509.20)" stroke="#3a3a3a" stroke-width="0.15">G-CSF</text>
<text x="103.78" y="509.20" font-size="6.6" text-anchor="end" fill="#3a3a3a" transform="rotate(-90 103.78 509.20)" stroke="#3a3a3a" stroke-width="0.15">GM-CSF</text>
<text x="112.07" y="509.20" font-size="6.6" text-anchor="end" fill="#3a3a3a" transform="rotate(-90 112.07 509.20)" stroke="#3a3a3a" stroke-width="0.15">ICAM-1</text>
<text x="120.36" y="509.20" font-size="6.6" text-anchor="end" fill="#3a3a3a" transform="rotate(-90 120.36 509.20)" stroke="#3a3a3a" stroke-width="0.15">IFNg</text>
<text x="128.66" y="509.20" font-size="6.6" text-anchor="end" fill="#3a3a3a" transform="rotate(-90 128.66 509.20)" stroke="#3a3a3a" stroke-width="0.15">IL1a</text>
<text x="136.94" y="509.20" font-size="6.6" text-anchor="end" fill="#3a3a3a" transform="rotate(-90 136.94 509.20)" stroke="#3a3a3a" stroke-width="0.15">IL1b</text>
<text x="145.23" y="509.20" font-size="6.6" text-anchor="end" fill="#3a3a3a" transform="rotate(-90 145.23 509.20)" stroke="#3a3a3a" stroke-width="0.15">IL2</text>
<text x="153.53" y="509.20" font-size="6.6" text-anchor="end" fill="#3a3a3a" transform="rotate(-90 153.53 509.20)" stroke="#3a3a3a" stroke-width="0.15">IL3</text>
<text x="161.81" y="509.20" font-size="6.6" text-anchor="end" fill="#3a3a3a" transform="rotate(-90 161.81 509.20)" stroke="#3a3a3a" stroke-width="0.15">IL4</text>
<text x="170.10" y="509.20" font-size="6.6" text-anchor="end" fill="#3a3a3a" transform="rotate(-90 170.10 509.20)" stroke="#3a3a3a" stroke-width="0.15">IL5</text>
<text x="178.39" y="509.20" font-size="6.6" text-anchor="end" fill="#3a3a3a" transform="rotate(-90 178.39 509.20)" stroke="#3a3a3a" stroke-width="0.15">IL6</text>
<text x="186.69" y="509.20" font-size="6.6" text-anchor="end" fill="#3a3a3a" transform="rotate(-90 186.69 509.20)" stroke="#3a3a3a" stroke-width="0.15">IL10</text>
<text x="194.97" y="509.20" font-size="6.6" text-anchor="end" fill="#3a3a3a" transform="rotate(-90 194.97 509.20)" stroke="#3a3a3a" stroke-width="0.15">IL12p70</text>
<text x="203.26" y="509.20" font-size="6.6" text-anchor="end" fill="#3a3a3a" transform="rotate(-90 203.26 509.20)" stroke="#3a3a3a" stroke-width="0.15">IL13</text>
<text x="211.55" y="509.20" font-size="6.6" text-anchor="end" fill="#3a3a3a" transform="rotate(-90 211.55 509.20)" stroke="#3a3a3a" stroke-width="0.15">IL17</text>
<text x="219.84" y="509.20" font-size="6.6" text-anchor="end" fill="#3a3a3a" transform="rotate(-90 219.84 509.20)" stroke="#3a3a3a" stroke-width="0.15">IL21</text>
<text x="228.13" y="509.20" font-size="6.6" text-anchor="end" fill="#3a3a3a" transform="rotate(-90 228.13 509.20)" stroke="#3a3a3a" stroke-width="0.15">KC</text>
<text x="236.42" y="509.20" font-size="6.6" text-anchor="end" fill="#3a3a3a" transform="rotate(-90 236.42 509.20)" stroke="#3a3a3a" stroke-width="0.15">LIX</text>
<text x="244.71" y="509.20" font-size="6.6" text-anchor="end" fill="#3a3a3a" transform="rotate(-90 244.71 509.20)" stroke="#3a3a3a" stroke-width="0.15">MCP-1</text>
<text x="253.00" y="509.20" font-size="6.6" text-anchor="end" fill="#3a3a3a" transform="rotate(-90 253.00 509.20)" stroke="#3a3a3a" stroke-width="0.15">MCP-5</text>
<text x="261.30" y="509.20" font-size="6.6" text-anchor="end" fill="#3a3a3a" transform="rotate(-90 261.30 509.20)" stroke="#3a3a3a" stroke-width="0.15">MCSF</text>
<text x="269.58" y="509.20" font-size="6.6" text-anchor="end" fill="#3a3a3a" transform="rotate(-90 269.58 509.20)" stroke="#3a3a3a" stroke-width="0.15">MIG</text>
<text x="277.88" y="509.20" font-size="6.6" text-anchor="end" fill="#3a3a3a" transform="rotate(-90 277.88 509.20)" stroke="#3a3a3a" stroke-width="0.15">MIP-1a</text>
<text x="286.17" y="509.20" font-size="6.6" text-anchor="end" fill="#3a3a3a" transform="rotate(-90 286.17 509.20)" stroke="#3a3a3a" stroke-width="0.15">MIP-1g</text>
<text x="294.45" y="509.20" font-size="6.6" text-anchor="end" fill="#3a3a3a" transform="rotate(-90 294.45 509.20)" stroke="#3a3a3a" stroke-width="0.15">PF4</text>
<text x="302.75" y="509.20" font-size="6.6" text-anchor="end" fill="#3a3a3a" transform="rotate(-90 302.75 509.20)" stroke="#3a3a3a" stroke-width="0.15">RANTES</text>
<text x="311.04" y="509.20" font-size="6.6" text-anchor="end" fill="#3a3a3a" transform="rotate(-90 311.04 509.20)" stroke="#3a3a3a" stroke-width="0.15">TARC</text>
<text x="319.32" y="509.20" font-size="6.6" text-anchor="end" fill="#3a3a3a" transform="rotate(-90 319.32 509.20)" stroke="#3a3a3a" stroke-width="0.15">TCA-3</text>
<text x="327.62" y="509.20" font-size="6.6" text-anchor="end" fill="#3a3a3a" transform="rotate(-90 327.62 509.20)" stroke="#3a3a3a" stroke-width="0.15">TIMP1</text>
<text x="335.91" y="509.20" font-size="6.6" text-anchor="end" fill="#3a3a3a" transform="rotate(-90 335.91 509.20)" stroke="#3a3a3a" stroke-width="0.15">TNFa</text>
<text x="344.19" y="509.20" font-size="6.6" text-anchor="end" fill="#3a3a3a" transform="rotate(-90 344.19 509.20)" stroke="#3a3a3a" stroke-width="0.15">TNF RI</text>
<text x="352.49" y="509.20" font-size="6.6" text-anchor="end" fill="#3a3a3a" transform="rotate(-90 352.49 509.20)" stroke="#3a3a3a" stroke-width="0.15">TNF RII</text>
<path d="M356.3 508.1L365.8 500.4M366.8 499.4L378.8 490M379.8 489L390 480.5M391.6 479.2L402.2 470.9" stroke="#000" stroke-width="1.35" fill="none"/>
<text x="400.70" y="480.90" font-size="8.1" font-weight="bold" text-anchor="start" fill="#000" stroke="#000" stroke-width="0.25">OV-IL15C+EGFR-CAR NK (1–4)</text>
<text x="390.00" y="490.00" font-size="8.1" font-weight="bold" text-anchor="start" fill="#000" stroke="#000" stroke-width="0.25">EGFR-CAR NK (1–4)</text>
<text x="378.00" y="499.70" font-size="8.1" font-weight="bold" text-anchor="start" fill="#000" stroke="#000" stroke-width="0.25">OV-IL15C (1–4)</text>
<text x="366.50" y="509.20" font-size="8.1" font-weight="bold" text-anchor="start" fill="#000" stroke="#000" stroke-width="0.25">Saline (1–4)</text>
<rect x="28.8" y="537.50" width="3.0" height="3.0" fill="#4472C4"/>
<text x="33.50" y="541.20" font-size="6.4" text-anchor="start" fill="#3a3a3a" stroke="#3a3a3a" stroke-width="0.15">Saline 1</text>
<rect x="126.6" y="537.50" width="3.0" height="3.0" fill="#ED7D31"/>
<text x="131.20" y="541.20" font-size="6.4" text-anchor="start" fill="#3a3a3a" stroke="#3a3a3a" stroke-width="0.15">Saline 2</text>
<rect x="224.6" y="537.50" width="3.0" height="3.0" fill="#A5A5A5"/>
<text x="229.80" y="541.20" font-size="6.4" text-anchor="start" fill="#3a3a3a" stroke="#3a3a3a" stroke-width="0.15">Saline 3</text>
<rect x="322.3" y="537.50" width="3.0" height="3.0" fill="#FFC000"/>
<text x="327.10" y="541.20" font-size="6.4" text-anchor="start" fill="#3a3a3a" stroke="#3a3a3a" stroke-width="0.15">Saline 4</text>
<rect x="28.8" y="545.30" width="3.0" height="3.0" fill="#5B9BD5"/>
<text x="33.50" y="549.00" font-size="6.4" text-anchor="start" fill="#3a3a3a" stroke="#3a3a3a" stroke-width="0.15">OV-IL15C 1</text>
<rect x="126.6" y="545.30" width="3.0" height="3.0" fill="#70AD47"/>
<text x="131.20" y="549.00" font-size="6.4" text-anchor="start" fill="#3a3a3a" stroke="#3a3a3a" stroke-width="0.15">OV-IL15C 2</text>
<rect x="224.6" y="545.30" width="3.0" height="3.0" fill="#264478"/>
<text x="229.80" y="549.00" font-size="6.4" text-anchor="start" fill="#3a3a3a" stroke="#3a3a3a" stroke-width="0.15">OV-IL15C 3</text>
<rect x="322.3" y="545.30" width="3.0" height="3.0" fill="#9E480E"/>
<text x="327.10" y="549.00" font-size="6.4" text-anchor="start" fill="#3a3a3a" stroke="#3a3a3a" stroke-width="0.15">OV-IL15C 4</text>
<rect x="28.8" y="552.80" width="3.0" height="3.0" fill="#636363"/>
<text x="33.50" y="556.50" font-size="6.4" text-anchor="start" fill="#3a3a3a" stroke="#3a3a3a" stroke-width="0.15">EGFR-CAR 1</text>
<rect x="126.6" y="552.80" width="3.0" height="3.0" fill="#997300"/>
<text x="131.20" y="556.50" font-size="6.4" text-anchor="start" fill="#3a3a3a" stroke="#3a3a3a" stroke-width="0.15">EGFR-CAR 2</text>
<rect x="224.6" y="552.80" width="3.0" height="3.0" fill="#255E91"/>
<text x="229.80" y="556.50" font-size="6.4" text-anchor="start" fill="#3a3a3a" stroke="#3a3a3a" stroke-width="0.15">EGFR-CAR 3</text>
<rect x="322.3" y="552.80" width="3.0" height="3.0" fill="#43682B"/>
<text x="327.10" y="556.50" font-size="6.4" text-anchor="start" fill="#3a3a3a" stroke="#3a3a3a" stroke-width="0.15">EGFR-CAR 4</text>
<rect x="28.8" y="560.20" width="3.0" height="3.0" fill="#698ED0"/>
<text x="33.50" y="563.90" font-size="6.4" text-anchor="start" fill="#3a3a3a" stroke="#3a3a3a" stroke-width="0.15">OV-IL15C+EGFR-CAR 1</text>
<rect x="126.6" y="560.20" width="3.0" height="3.0" fill="#F1975A"/>
<text x="131.20" y="563.90" font-size="6.4" text-anchor="start" fill="#3a3a3a" stroke="#3a3a3a" stroke-width="0.15">OV-IL15C+EGFR-CAR 2</text>
<rect x="224.6" y="560.20" width="3.0" height="3.0" fill="#B7B7B7"/>
<text x="229.80" y="563.90" font-size="6.4" text-anchor="start" fill="#3a3a3a" stroke="#3a3a3a" stroke-width="0.15">OV-IL15C+EGFR-CAR 3</text>
<rect x="322.3" y="560.20" width="3.0" height="3.0" fill="#FFCD33"/>
<text x="327.10" y="563.90" font-size="6.4" text-anchor="start" fill="#3a3a3a" stroke="#3a3a3a" stroke-width="0.15">OV-IL15C+EGFR-CAR 4</text>
</svg>
</body>
</html>
